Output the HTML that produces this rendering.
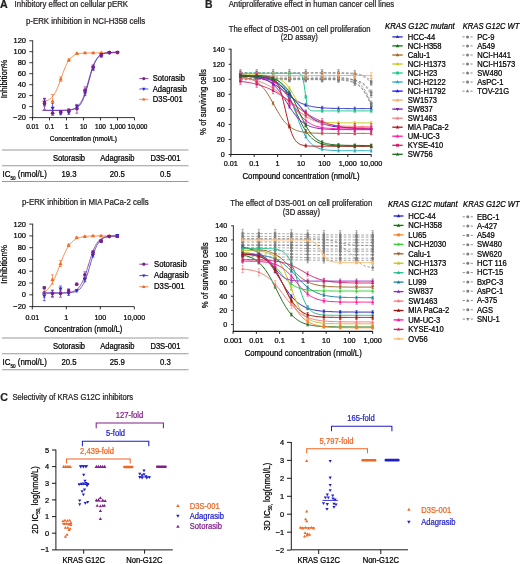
<!DOCTYPE html><html><head><meta charset="utf-8"><style>html,body{margin:0;padding:0;background:#fff;}svg{display:block;will-change:transform;}text{font-family:"Liberation Sans", sans-serif;stroke-width:0.22px;font-variant-ligatures:none;font-kerning:normal;}</style></head><body>
<svg width="520" height="564" viewBox="0 0 520 564">
<rect width="520" height="564" fill="#fff"/>
<text transform="translate(-0.10,8.10) scale(1,1.07)" font-size="10.7" text-anchor="start" fill="#231f20" stroke="#231f20" font-weight="bold">A</text>
<text transform="translate(14.60,7.00) scale(1,1.07)" font-size="7.85" text-anchor="start" fill="#231f20" stroke="#231f20">Inhibitory effect on cellular pERK</text>
<text transform="translate(26.00,24.40) scale(1,1.07)" font-size="7.85" text-anchor="start" fill="#231f20" stroke="#231f20">p-ERK inhibition in NCI-H358 cells</text>
<line x1="32.7" y1="40.4" x2="32.7" y2="118.0" stroke="#000" stroke-width="0.8"/>
<line x1="32.7" y1="117.6" x2="134.5" y2="117.6" stroke="#000" stroke-width="0.8"/>
<line x1="29.3" y1="117.6" x2="32.7" y2="117.6" stroke="#000" stroke-width="0.8"/>
<text transform="translate(26.00,120.17) scale(1,1.07)" font-size="7.5" text-anchor="end" fill="#000" stroke="#000">−20</text>
<line x1="29.3" y1="106.6" x2="32.7" y2="106.6" stroke="#000" stroke-width="0.8"/>
<text transform="translate(26.00,109.20) scale(1,1.07)" font-size="7.5" text-anchor="end" fill="#000" stroke="#000">0</text>
<line x1="29.3" y1="95.6" x2="32.7" y2="95.6" stroke="#000" stroke-width="0.8"/>
<text transform="translate(26.00,98.23) scale(1,1.07)" font-size="7.5" text-anchor="end" fill="#000" stroke="#000">20</text>
<line x1="29.3" y1="84.7" x2="32.7" y2="84.7" stroke="#000" stroke-width="0.8"/>
<text transform="translate(26.00,87.26) scale(1,1.07)" font-size="7.5" text-anchor="end" fill="#000" stroke="#000">40</text>
<line x1="29.3" y1="73.7" x2="32.7" y2="73.7" stroke="#000" stroke-width="0.8"/>
<text transform="translate(26.00,76.29) scale(1,1.07)" font-size="7.5" text-anchor="end" fill="#000" stroke="#000">60</text>
<line x1="29.3" y1="62.7" x2="32.7" y2="62.7" stroke="#000" stroke-width="0.8"/>
<text transform="translate(26.00,65.32) scale(1,1.07)" font-size="7.5" text-anchor="end" fill="#000" stroke="#000">80</text>
<line x1="29.3" y1="51.7" x2="32.7" y2="51.7" stroke="#000" stroke-width="0.8"/>
<text transform="translate(26.00,54.35) scale(1,1.07)" font-size="7.5" text-anchor="end" fill="#000" stroke="#000">100</text>
<line x1="29.3" y1="40.8" x2="32.7" y2="40.8" stroke="#000" stroke-width="0.8"/>
<text transform="translate(26.00,43.38) scale(1,1.07)" font-size="7.5" text-anchor="end" fill="#000" stroke="#000">120</text>
<line x1="32.5" y1="117.6" x2="32.5" y2="120.4" stroke="#000" stroke-width="0.8"/>
<line x1="49.5" y1="117.6" x2="49.5" y2="120.4" stroke="#000" stroke-width="0.8"/>
<line x1="66.5" y1="117.6" x2="66.5" y2="120.4" stroke="#000" stroke-width="0.8"/>
<line x1="83.5" y1="117.6" x2="83.5" y2="120.4" stroke="#000" stroke-width="0.8"/>
<line x1="100.5" y1="117.6" x2="100.5" y2="120.4" stroke="#000" stroke-width="0.8"/>
<line x1="117.5" y1="117.6" x2="117.5" y2="120.4" stroke="#000" stroke-width="0.8"/>
<line x1="134.5" y1="117.6" x2="134.5" y2="120.4" stroke="#000" stroke-width="0.8"/>
<text transform="translate(32.50,128.60) scale(1,1.07)" font-size="6.5" text-anchor="middle" fill="#000" stroke="#000">0.01</text>
<text transform="translate(49.50,128.60) scale(1,1.07)" font-size="6.5" text-anchor="middle" fill="#000" stroke="#000">0.1</text>
<text transform="translate(66.50,128.60) scale(1,1.07)" font-size="6.5" text-anchor="middle" fill="#000" stroke="#000">1</text>
<text transform="translate(83.50,128.60) scale(1,1.07)" font-size="6.5" text-anchor="middle" fill="#000" stroke="#000">10</text>
<text transform="translate(100.50,128.60) scale(1,1.07)" font-size="6.5" text-anchor="middle" fill="#000" stroke="#000">100</text>
<text transform="translate(117.50,128.60) scale(1,1.07)" font-size="6.5" text-anchor="middle" fill="#000" stroke="#000">1,000</text>
<text transform="translate(137.50,128.60) scale(1,1.07)" font-size="6.5" text-anchor="middle" fill="#000" stroke="#000">10,000</text>
<text transform="translate(83.30,140.50) scale(1,1.07)" font-size="6.6" text-anchor="middle" fill="#000" stroke="#000">Concentration (nmol/L)</text>
<text transform="translate(7.00,79.00) rotate(-90) scale(1,1.07)" font-size="7.9" text-anchor="middle" fill="#000" stroke="#000">Inhibition%</text>
<polyline points="42.7,101.5 43.1,101.5 43.4,101.4 43.8,101.4 44.1,101.3 44.4,101.2 44.8,101.2 45.1,101.1 45.5,101.0 45.8,100.9 46.1,100.8 46.5,100.7 46.8,100.5 47.2,100.4 47.5,100.3 47.8,100.1 48.2,100.0 48.5,99.8 48.9,99.6 49.2,99.4 49.5,99.2 49.9,99.0 50.2,98.7 50.6,98.4 50.9,98.2 51.2,97.9 51.6,97.5 51.9,97.2 52.3,96.8 52.6,96.4 52.9,96.0 53.3,95.6 53.6,95.1 54.0,94.7 54.3,94.1 54.6,93.6 55.0,93.0 55.3,92.4 55.7,91.8 56.0,91.1 56.3,90.5 56.7,89.7 57.0,89.0 57.4,88.2 57.7,87.4 58.0,86.6 58.4,85.7 58.7,84.9 59.1,84.0 59.4,83.1 59.7,82.2 60.1,81.2 60.4,80.3 60.8,79.3 61.1,78.3 61.4,77.4 61.8,76.4 62.1,75.5 62.5,74.5 62.8,73.6 63.1,72.6 63.5,71.7 63.8,70.8 64.2,69.9 64.5,69.0 64.8,68.2 65.2,67.4 65.5,66.6 65.9,65.8 66.2,65.1 66.5,64.4 66.9,63.7 67.2,63.1 67.6,62.4 67.9,61.9 68.2,61.3 68.6,60.8 68.9,60.3 69.3,59.8 69.6,59.3 69.9,58.9 70.3,58.5 70.6,58.1 71.0,57.8 71.3,57.4 71.6,57.1 72.0,56.8 72.3,56.5 72.7,56.3 73.0,56.0 73.3,55.8 73.7,55.6 74.0,55.4 74.4,55.2 74.7,55.0 75.0,54.9 75.4,54.7 75.7,54.6 76.1,54.5 76.4,54.4 76.7,54.2 77.1,54.1 77.4,54.0 77.8,54.0 78.1,53.9 78.4,53.8 78.8,53.7 79.1,53.7 79.5,53.6 79.8,53.5 80.1,53.5 80.5,53.4 80.8,53.4 81.2,53.4 81.5,53.3 81.8,53.3 82.2,53.3 82.5,53.2 82.9,53.2 83.2,53.2 83.5,53.1 83.9,53.1 84.2,53.1 84.6,53.1 84.9,53.1 85.2,53.0 85.6,53.0 85.9,53.0 86.3,53.0 86.6,53.0 86.9,53.0 87.3,53.0 87.6,53.0 88.0,53.0 88.3,52.9 88.6,52.9 89.0,52.9 89.3,52.9 89.7,52.9 90.0,52.9 90.3,52.9 90.7,52.9 91.0,52.9 91.4,52.9 91.7,52.9 92.0,52.9 92.4,52.9 92.7,52.9 93.1,52.9 93.4,52.9 93.7,52.9 94.1,52.9 94.4,52.9 94.8,52.9 95.1,52.9 95.4,52.9 95.8,52.9 96.1,52.9 96.5,52.9 96.8,52.9 97.1,52.9 97.5,52.9 97.8,52.9 98.2,52.9 98.5,52.9 98.8,52.9 99.2,52.9 99.5,52.9 99.9,52.9 100.2,52.9 100.5,52.9 100.9,52.9 101.2,52.9 101.6,52.9 101.9,52.9 102.2,52.9 102.6,52.9 102.9,52.9 103.3,52.9 103.6,52.8 103.9,52.8 104.3,52.8 104.6,52.8 105.0,52.8 105.3,52.8 105.6,52.8 106.0,52.8 106.3,52.8 106.7,52.8 107.0,52.8 107.3,52.8 107.7,52.8 108.0,52.8 108.4,52.8 108.7,52.8 109.0,52.8 109.4,52.8 109.7,52.8 110.1,52.8 110.4,52.8 110.7,52.8 111.1,52.8 111.4,52.8 111.8,52.8 112.1,52.8 112.4,52.8 112.8,52.8 113.1,52.8 113.5,52.8 113.8,52.8 114.1,52.8 114.5,52.8 114.8,52.8 115.2,52.8 115.5,52.8 115.8,52.8 116.2,52.8 116.5,52.8 116.9,52.8 117.2,52.8 117.5,52.8 117.9,52.8" fill="none" stroke="#f26a21" stroke-width="0.8"/>
<path d="M44.5 99.5V105.0M43.0 99.5h3.0M43.0 105.0h3.0" stroke="#f26a21" stroke-width="0.65"/>
<polygon points="44.5,100.1 42.4,103.6 46.6,103.6" fill="#f26a21"/>
<path d="M52.6 94.5V107.7M51.1 94.5h3.0M51.1 107.7h3.0" stroke="#f26a21" stroke-width="0.65"/>
<polygon points="52.6,99.0 50.6,102.5 54.7,102.5" fill="#f26a21"/>
<path d="M60.7 77.0V81.4M59.2 77.0h3.0M59.2 81.4h3.0" stroke="#f26a21" stroke-width="0.65"/>
<polygon points="60.7,77.0 58.7,80.6 62.8,80.6" fill="#f26a21"/>
<path d="M68.8 58.9V61.1M67.3 58.9h3.0M67.3 61.1h3.0" stroke="#f26a21" stroke-width="0.65"/>
<polygon points="68.8,57.8 66.8,61.4 70.9,61.4" fill="#f26a21"/>
<path d="M76.9 52.8V53.9M75.4 52.8h3.0M75.4 53.9h3.0" stroke="#f26a21" stroke-width="0.65"/>
<polygon points="76.9,51.2 74.9,54.8 79.0,54.8" fill="#f26a21"/>
<path d="M85.1 52.3V53.4M83.6 52.3h3.0M83.6 53.4h3.0" stroke="#f26a21" stroke-width="0.65"/>
<polygon points="85.1,50.7 83.0,54.3 87.1,54.3" fill="#f26a21"/>
<path d="M93.2 52.3V53.4M91.7 52.3h3.0M91.7 53.4h3.0" stroke="#f26a21" stroke-width="0.65"/>
<polygon points="93.2,50.7 91.1,54.3 95.2,54.3" fill="#f26a21"/>
<path d="M101.3 52.3V53.4M99.8 52.3h3.0M99.8 53.4h3.0" stroke="#f26a21" stroke-width="0.65"/>
<polygon points="101.3,50.7 99.2,54.3 103.3,54.3" fill="#f26a21"/>
<path d="M109.4 51.7V52.8M107.9 51.7h3.0M107.9 52.8h3.0" stroke="#f26a21" stroke-width="0.65"/>
<polygon points="109.4,50.1 107.3,53.7 111.4,53.7" fill="#f26a21"/>
<path d="M117.5 52.3V53.4M116.0 52.3h3.0M116.0 53.4h3.0" stroke="#f26a21" stroke-width="0.65"/>
<polygon points="117.5,50.7 115.4,54.3 119.6,54.3" fill="#f26a21"/>
<polyline points="42.7,110.4 43.1,110.4 43.4,110.4 43.8,110.4 44.1,110.4 44.4,110.4 44.8,110.4 45.1,110.4 45.5,110.4 45.8,110.4 46.1,110.4 46.5,110.4 46.8,110.4 47.2,110.4 47.5,110.4 47.8,110.4 48.2,110.4 48.5,110.4 48.9,110.4 49.2,110.4 49.5,110.4 49.9,110.4 50.2,110.4 50.6,110.4 50.9,110.4 51.2,110.4 51.6,110.4 51.9,110.4 52.3,110.4 52.6,110.4 52.9,110.4 53.3,110.4 53.6,110.4 54.0,110.4 54.3,110.4 54.6,110.4 55.0,110.4 55.3,110.4 55.7,110.4 56.0,110.4 56.3,110.4 56.7,110.4 57.0,110.4 57.4,110.4 57.7,110.4 58.0,110.4 58.4,110.4 58.7,110.4 59.1,110.4 59.4,110.4 59.7,110.4 60.1,110.4 60.4,110.4 60.8,110.4 61.1,110.4 61.4,110.4 61.8,110.4 62.1,110.4 62.5,110.4 62.8,110.4 63.1,110.4 63.5,110.4 63.8,110.3 64.2,110.3 64.5,110.3 64.8,110.3 65.2,110.3 65.5,110.3 65.9,110.3 66.2,110.3 66.5,110.3 66.9,110.2 67.2,110.2 67.6,110.2 67.9,110.2 68.2,110.1 68.6,110.1 68.9,110.1 69.3,110.1 69.6,110.0 69.9,110.0 70.3,109.9 70.6,109.9 71.0,109.9 71.3,109.8 71.6,109.7 72.0,109.7 72.3,109.6 72.7,109.5 73.0,109.5 73.3,109.4 73.7,109.3 74.0,109.2 74.4,109.1 74.7,108.9 75.0,108.8 75.4,108.7 75.7,108.5 76.1,108.3 76.4,108.1 76.7,107.9 77.1,107.7 77.4,107.5 77.8,107.2 78.1,107.0 78.4,106.7 78.8,106.3 79.1,106.0 79.5,105.6 79.8,105.2 80.1,104.8 80.5,104.3 80.8,103.8 81.2,103.3 81.5,102.7 81.8,102.1 82.2,101.5 82.5,100.8 82.9,100.1 83.2,99.3 83.5,98.5 83.9,97.7 84.2,96.8 84.6,95.8 84.9,94.9 85.2,93.8 85.6,92.8 85.9,91.7 86.3,90.6 86.6,89.4 86.9,88.2 87.3,87.0 87.6,85.8 88.0,84.5 88.3,83.3 88.6,82.0 89.0,80.7 89.3,79.4 89.7,78.2 90.0,76.9 90.3,75.7 90.7,74.5 91.0,73.3 91.4,72.1 91.7,71.0 92.0,69.9 92.4,68.9 92.7,67.8 93.1,66.9 93.4,65.9 93.7,65.0 94.1,64.2 94.4,63.4 94.8,62.6 95.1,61.9 95.4,61.2 95.8,60.6 96.1,60.0 96.5,59.4 96.8,58.9 97.1,58.4 97.5,57.9 97.8,57.5 98.2,57.1 98.5,56.7 98.8,56.4 99.2,56.1 99.5,55.8 99.9,55.5 100.2,55.2 100.5,55.0 100.9,54.8 101.2,54.6 101.6,54.4 101.9,54.2 102.2,54.1 102.6,53.9 102.9,53.8 103.3,53.7 103.6,53.6 103.9,53.5 104.3,53.4 104.6,53.3 105.0,53.2 105.3,53.1 105.6,53.1 106.0,53.0 106.3,52.9 106.7,52.9 107.0,52.8 107.3,52.8 107.7,52.7 108.0,52.7 108.4,52.7 108.7,52.6 109.0,52.6 109.4,52.6 109.7,52.6 110.1,52.5 110.4,52.5 110.7,52.5 111.1,52.5 111.4,52.5 111.8,52.5 112.1,52.4 112.4,52.4 112.8,52.4 113.1,52.4 113.5,52.4 113.8,52.4 114.1,52.4 114.5,52.4 114.8,52.4 115.2,52.4 115.5,52.4 115.8,52.4 116.2,52.3 116.5,52.3 116.9,52.3 117.2,52.3 117.5,52.3 117.9,52.3" fill="none" stroke="#2b2bd0" stroke-width="0.8"/>
<path d="M44.5 98.4V106.1M43.0 98.4h3.0M43.0 106.1h3.0" stroke="#2b2bd0" stroke-width="0.65"/>
<polygon points="44.5,104.4 42.4,100.8 46.6,100.8" fill="#2b2bd0"/>
<path d="M52.6 103.3V113.2M51.1 103.3h3.0M51.1 113.2h3.0" stroke="#2b2bd0" stroke-width="0.65"/>
<polygon points="52.6,110.4 50.6,106.8 54.7,106.8" fill="#2b2bd0"/>
<path d="M60.7 111.5V114.8M59.2 111.5h3.0M59.2 114.8h3.0" stroke="#2b2bd0" stroke-width="0.65"/>
<polygon points="60.7,115.3 58.7,111.8 62.8,111.8" fill="#2b2bd0"/>
<path d="M68.8 111.0V114.3M67.3 111.0h3.0M67.3 114.3h3.0" stroke="#2b2bd0" stroke-width="0.65"/>
<polygon points="68.8,114.8 66.8,111.2 70.9,111.2" fill="#2b2bd0"/>
<path d="M76.9 105.0V108.2M75.4 105.0h3.0M75.4 108.2h3.0" stroke="#2b2bd0" stroke-width="0.65"/>
<polygon points="76.9,108.8 74.9,105.2 79.0,105.2" fill="#2b2bd0"/>
<path d="M85.1 90.1V95.6M83.6 90.1h3.0M83.6 95.6h3.0" stroke="#2b2bd0" stroke-width="0.65"/>
<polygon points="85.1,95.0 83.0,91.5 87.1,91.5" fill="#2b2bd0"/>
<path d="M93.2 66.0V70.4M91.7 66.0h3.0M91.7 70.4h3.0" stroke="#2b2bd0" stroke-width="0.65"/>
<polygon points="93.2,70.4 91.1,66.8 95.2,66.8" fill="#2b2bd0"/>
<path d="M101.3 53.9V56.1M99.8 53.9h3.0M99.8 56.1h3.0" stroke="#2b2bd0" stroke-width="0.65"/>
<polygon points="101.3,57.2 99.2,53.6 103.3,53.6" fill="#2b2bd0"/>
<path d="M109.4 51.7V52.8M107.9 51.7h3.0M107.9 52.8h3.0" stroke="#2b2bd0" stroke-width="0.65"/>
<polygon points="109.4,54.5 107.3,50.9 111.4,50.9" fill="#2b2bd0"/>
<path d="M117.5 51.7V52.8M116.0 51.7h3.0M116.0 52.8h3.0" stroke="#2b2bd0" stroke-width="0.65"/>
<polygon points="117.5,54.5 115.4,50.9 119.6,50.9" fill="#2b2bd0"/>
<polyline points="42.7,110.4 43.1,110.4 43.4,110.4 43.8,110.4 44.1,110.4 44.4,110.4 44.8,110.4 45.1,110.4 45.5,110.4 45.8,110.4 46.1,110.4 46.5,110.4 46.8,110.4 47.2,110.4 47.5,110.4 47.8,110.4 48.2,110.4 48.5,110.4 48.9,110.4 49.2,110.4 49.5,110.4 49.9,110.4 50.2,110.4 50.6,110.4 50.9,110.4 51.2,110.4 51.6,110.4 51.9,110.4 52.3,110.4 52.6,110.4 52.9,110.4 53.3,110.4 53.6,110.4 54.0,110.4 54.3,110.4 54.6,110.4 55.0,110.4 55.3,110.4 55.7,110.4 56.0,110.4 56.3,110.4 56.7,110.4 57.0,110.4 57.4,110.4 57.7,110.4 58.0,110.4 58.4,110.4 58.7,110.4 59.1,110.4 59.4,110.4 59.7,110.4 60.1,110.4 60.4,110.4 60.8,110.4 61.1,110.4 61.4,110.4 61.8,110.4 62.1,110.3 62.5,110.3 62.8,110.3 63.1,110.3 63.5,110.3 63.8,110.3 64.2,110.3 64.5,110.3 64.8,110.3 65.2,110.2 65.5,110.2 65.9,110.2 66.2,110.2 66.5,110.2 66.9,110.1 67.2,110.1 67.6,110.1 67.9,110.0 68.2,110.0 68.6,110.0 68.9,109.9 69.3,109.9 69.6,109.8 69.9,109.8 70.3,109.7 70.6,109.7 71.0,109.6 71.3,109.5 71.6,109.5 72.0,109.4 72.3,109.3 72.7,109.2 73.0,109.1 73.3,109.0 73.7,108.9 74.0,108.7 74.4,108.6 74.7,108.4 75.0,108.3 75.4,108.1 75.7,107.9 76.1,107.7 76.4,107.5 76.7,107.2 77.1,106.9 77.4,106.7 77.8,106.4 78.1,106.0 78.4,105.7 78.8,105.3 79.1,104.9 79.5,104.5 79.8,104.0 80.1,103.5 80.5,103.0 80.8,102.5 81.2,101.9 81.5,101.2 81.8,100.6 82.2,99.9 82.5,99.2 82.9,98.4 83.2,97.6 83.5,96.7 83.9,95.8 84.2,94.9 84.6,93.9 84.9,92.9 85.2,91.9 85.6,90.9 85.9,89.8 86.3,88.7 86.6,87.5 86.9,86.3 87.3,85.2 87.6,84.0 88.0,82.8 88.3,81.6 88.6,80.4 89.0,79.2 89.3,78.0 89.7,76.8 90.0,75.6 90.3,74.5 90.7,73.4 91.0,72.3 91.4,71.2 91.7,70.1 92.0,69.1 92.4,68.2 92.7,67.2 93.1,66.3 93.4,65.5 93.7,64.6 94.1,63.8 94.4,63.1 94.8,62.4 95.1,61.7 95.4,61.1 95.8,60.5 96.1,59.9 96.5,59.4 96.8,58.9 97.1,58.4 97.5,58.0 97.8,57.6 98.2,57.2 98.5,56.8 98.8,56.5 99.2,56.2 99.5,55.9 99.9,55.6 100.2,55.4 100.5,55.1 100.9,54.9 101.2,54.7 101.6,54.5 101.9,54.4 102.2,54.2 102.6,54.1 102.9,53.9 103.3,53.8 103.6,53.7 103.9,53.6 104.3,53.5 104.6,53.4 105.0,53.3 105.3,53.2 105.6,53.1 106.0,53.1 106.3,53.0 106.7,53.0 107.0,52.9 107.3,52.9 107.7,52.8 108.0,52.8 108.4,52.7 108.7,52.7 109.0,52.7 109.4,52.6 109.7,52.6 110.1,52.6 110.4,52.6 110.7,52.5 111.1,52.5 111.4,52.5 111.8,52.5 112.1,52.5 112.4,52.5 112.8,52.4 113.1,52.4 113.5,52.4 113.8,52.4 114.1,52.4 114.5,52.4 114.8,52.4 115.2,52.4 115.5,52.4 115.8,52.4 116.2,52.4 116.5,52.4 116.9,52.4 117.2,52.3 117.5,52.3 117.9,52.3" fill="none" stroke="#7a1f8c" stroke-width="0.8"/>
<path d="M44.5 98.4V109.3M43.0 98.4h3.0M43.0 109.3h3.0" stroke="#7a1f8c" stroke-width="0.65"/>
<circle cx="44.50" cy="103.86" r="1.8" fill="#7a1f8c"/>
<path d="M52.6 111.0V115.4M51.1 111.0h3.0M51.1 115.4h3.0" stroke="#7a1f8c" stroke-width="0.65"/>
<circle cx="52.61" cy="113.18" r="1.8" fill="#7a1f8c"/>
<path d="M60.7 110.4V113.7M59.2 110.4h3.0M59.2 113.7h3.0" stroke="#7a1f8c" stroke-width="0.65"/>
<circle cx="60.72" cy="112.08" r="1.8" fill="#7a1f8c"/>
<path d="M68.8 108.8V112.1M67.3 108.8h3.0M67.3 112.1h3.0" stroke="#7a1f8c" stroke-width="0.65"/>
<circle cx="68.83" cy="110.44" r="1.8" fill="#7a1f8c"/>
<path d="M76.9 104.4V113.2M75.4 104.4h3.0M75.4 113.2h3.0" stroke="#7a1f8c" stroke-width="0.65"/>
<circle cx="76.94" cy="108.79" r="1.8" fill="#7a1f8c"/>
<path d="M85.1 86.9V93.4M83.6 86.9h3.0M83.6 93.4h3.0" stroke="#7a1f8c" stroke-width="0.65"/>
<circle cx="85.06" cy="90.14" r="1.8" fill="#7a1f8c"/>
<path d="M93.2 64.9V69.3M91.7 64.9h3.0M91.7 69.3h3.0" stroke="#7a1f8c" stroke-width="0.65"/>
<circle cx="93.17" cy="67.11" r="1.8" fill="#7a1f8c"/>
<path d="M101.3 53.9V57.2M99.8 53.9h3.0M99.8 57.2h3.0" stroke="#7a1f8c" stroke-width="0.65"/>
<circle cx="101.28" cy="55.59" r="1.8" fill="#7a1f8c"/>
<path d="M109.4 52.3V53.4M107.9 52.3h3.0M107.9 53.4h3.0" stroke="#7a1f8c" stroke-width="0.65"/>
<circle cx="109.39" cy="52.85" r="1.8" fill="#7a1f8c"/>
<path d="M117.5 51.7V52.8M116.0 51.7h3.0M116.0 52.8h3.0" stroke="#7a1f8c" stroke-width="0.65"/>
<circle cx="117.50" cy="52.30" r="1.8" fill="#7a1f8c"/>
<line x1="139.3" y1="78.6" x2="148.3" y2="78.6" stroke="#7a1f8c" stroke-width="0.8"/>
<circle cx="143.80" cy="78.60" r="1.6" fill="#7a1f8c"/>
<text transform="translate(152.80,81.35) scale(1,1.07)" font-size="7.6" text-anchor="start" fill="#000" stroke="#000">Sotorasib</text>
<line x1="139.3" y1="89.0" x2="148.3" y2="89.0" stroke="#2b2bd0" stroke-width="0.8"/>
<polygon points="143.8,90.9 142.0,87.8 145.6,87.8" fill="#2b2bd0"/>
<text transform="translate(152.80,91.75) scale(1,1.07)" font-size="7.6" text-anchor="start" fill="#000" stroke="#000">Adagrasib</text>
<line x1="139.3" y1="99.3" x2="148.3" y2="99.3" stroke="#f26a21" stroke-width="0.8"/>
<polygon points="143.8,97.4 142.0,100.5 145.6,100.5" fill="#f26a21"/>
<text transform="translate(152.80,102.05) scale(1,1.07)" font-size="7.6" text-anchor="start" fill="#000" stroke="#000">D3S-001</text>
<line x1="2.0" y1="150.0" x2="188.5" y2="150.0" stroke="#9a9a9a" stroke-width="1.1"/>
<text transform="translate(69.00,161.20) scale(1,1.07)" font-size="7.6" text-anchor="middle" fill="#000" stroke="#000">Sotorasib</text>
<text transform="translate(117.30,161.20) scale(1,1.07)" font-size="7.6" text-anchor="middle" fill="#000" stroke="#000">Adagrasib</text>
<text transform="translate(165.40,161.20) scale(1,1.07)" font-size="7.6" text-anchor="middle" fill="#000" stroke="#000">D3S-001</text>
<line x1="2.0" y1="165.7" x2="188.5" y2="165.7" stroke="#9a9a9a" stroke-width="1.1"/>
<text transform="translate(2.60,176.90) scale(1,1.07)" font-size="7.9" text-anchor="start" fill="#000" stroke="#000">IC<tspan font-size="4.6" dy="2.6">50</tspan><tspan dy="-2.6"> (nmol/L)</tspan></text>
<text transform="translate(69.00,176.90) scale(1,1.07)" font-size="7.8" text-anchor="middle" fill="#000" stroke="#000">19.3</text>
<text transform="translate(117.30,176.90) scale(1,1.07)" font-size="7.8" text-anchor="middle" fill="#000" stroke="#000">20.5</text>
<text transform="translate(165.40,176.90) scale(1,1.07)" font-size="7.8" text-anchor="middle" fill="#000" stroke="#000">0.5</text>
<line x1="2.0" y1="181.5" x2="188.5" y2="181.5" stroke="#9a9a9a" stroke-width="1.1"/>
<text transform="translate(22.00,205.30) scale(1,1.07)" font-size="7.85" text-anchor="start" fill="#231f20" stroke="#231f20">p-ERK inhibition in MIA PaCa-2 cells</text>
<line x1="32.7" y1="223.7" x2="32.7" y2="307.0" stroke="#000" stroke-width="0.8"/>
<line x1="32.7" y1="306.6" x2="134.1" y2="306.6" stroke="#000" stroke-width="0.8"/>
<line x1="29.3" y1="306.6" x2="32.7" y2="306.6" stroke="#000" stroke-width="0.8"/>
<text transform="translate(26.00,309.19) scale(1,1.07)" font-size="7.5" text-anchor="end" fill="#000" stroke="#000">−20</text>
<line x1="29.3" y1="294.8" x2="32.7" y2="294.8" stroke="#000" stroke-width="0.8"/>
<text transform="translate(26.00,297.40) scale(1,1.07)" font-size="7.5" text-anchor="end" fill="#000" stroke="#000">0</text>
<line x1="29.3" y1="283.0" x2="32.7" y2="283.0" stroke="#000" stroke-width="0.8"/>
<text transform="translate(26.00,285.61) scale(1,1.07)" font-size="7.5" text-anchor="end" fill="#000" stroke="#000">20</text>
<line x1="29.3" y1="271.2" x2="32.7" y2="271.2" stroke="#000" stroke-width="0.8"/>
<text transform="translate(26.00,273.83) scale(1,1.07)" font-size="7.5" text-anchor="end" fill="#000" stroke="#000">40</text>
<line x1="29.3" y1="259.4" x2="32.7" y2="259.4" stroke="#000" stroke-width="0.8"/>
<text transform="translate(26.00,262.04) scale(1,1.07)" font-size="7.5" text-anchor="end" fill="#000" stroke="#000">60</text>
<line x1="29.3" y1="247.7" x2="32.7" y2="247.7" stroke="#000" stroke-width="0.8"/>
<text transform="translate(26.00,250.26) scale(1,1.07)" font-size="7.5" text-anchor="end" fill="#000" stroke="#000">80</text>
<line x1="29.3" y1="235.9" x2="32.7" y2="235.9" stroke="#000" stroke-width="0.8"/>
<text transform="translate(26.00,238.47) scale(1,1.07)" font-size="7.5" text-anchor="end" fill="#000" stroke="#000">100</text>
<line x1="29.3" y1="224.1" x2="32.7" y2="224.1" stroke="#000" stroke-width="0.8"/>
<text transform="translate(26.00,226.68) scale(1,1.07)" font-size="7.5" text-anchor="end" fill="#000" stroke="#000">120</text>
<line x1="32.3" y1="306.6" x2="32.3" y2="309.4" stroke="#000" stroke-width="0.8"/>
<line x1="66.3" y1="306.6" x2="66.3" y2="309.4" stroke="#000" stroke-width="0.8"/>
<line x1="100.3" y1="306.6" x2="100.3" y2="309.4" stroke="#000" stroke-width="0.8"/>
<line x1="134.3" y1="306.6" x2="134.3" y2="309.4" stroke="#000" stroke-width="0.8"/>
<text transform="translate(32.30,319.70) scale(1,1.07)" font-size="7.1" text-anchor="middle" fill="#000" stroke="#000">0.01</text>
<text transform="translate(66.30,319.70) scale(1,1.07)" font-size="7.1" text-anchor="middle" fill="#000" stroke="#000">1</text>
<text transform="translate(100.30,319.70) scale(1,1.07)" font-size="7.1" text-anchor="middle" fill="#000" stroke="#000">100</text>
<text transform="translate(134.30,319.70) scale(1,1.07)" font-size="7.1" text-anchor="middle" fill="#000" stroke="#000">10,000</text>
<text transform="translate(83.30,332.40) scale(1,1.07)" font-size="7.7" text-anchor="middle" fill="#000" stroke="#000">Concentration (nmol/L)</text>
<text transform="translate(7.00,264.40) rotate(-90) scale(1,1.07)" font-size="7.9" text-anchor="middle" fill="#000" stroke="#000">Inhibition%</text>
<polyline points="42.5,293.1 42.9,292.9 43.2,292.8 43.6,292.6 43.9,292.4 44.2,292.2 44.6,292.0 44.9,291.7 45.3,291.5 45.6,291.2 45.9,291.0 46.3,290.7 46.6,290.4 47.0,290.1 47.3,289.7 47.6,289.4 48.0,289.0 48.3,288.7 48.7,288.3 49.0,287.9 49.3,287.4 49.7,287.0 50.0,286.5 50.4,286.0 50.7,285.5 51.0,285.0 51.4,284.4 51.7,283.9 52.1,283.3 52.4,282.7 52.7,282.0 53.1,281.4 53.4,280.7 53.8,280.0 54.1,279.3 54.4,278.6 54.8,277.8 55.1,277.1 55.5,276.3 55.8,275.5 56.1,274.7 56.5,273.8 56.8,273.0 57.2,272.1 57.5,271.3 57.8,270.4 58.2,269.5 58.5,268.6 58.9,267.7 59.2,266.8 59.5,265.9 59.9,265.0 60.2,264.1 60.6,263.2 60.9,262.3 61.2,261.5 61.6,260.6 61.9,259.7 62.3,258.9 62.6,258.0 62.9,257.2 63.3,256.4 63.6,255.6 64.0,254.8 64.3,254.0 64.6,253.3 65.0,252.5 65.3,251.8 65.7,251.1 66.0,250.5 66.3,249.8 66.7,249.2 67.0,248.6 67.4,248.0 67.7,247.4 68.0,246.9 68.4,246.3 68.7,245.8 69.1,245.3 69.4,244.9 69.7,244.4 70.1,244.0 70.4,243.6 70.8,243.2 71.1,242.8 71.4,242.5 71.8,242.1 72.1,241.8 72.5,241.5 72.8,241.2 73.1,240.9 73.5,240.6 73.8,240.4 74.2,240.1 74.5,239.9 74.8,239.7 75.2,239.5 75.5,239.3 75.9,239.1 76.2,238.9 76.5,238.7 76.9,238.6 77.2,238.4 77.6,238.3 77.9,238.2 78.2,238.0 78.6,237.9 78.9,237.8 79.3,237.7 79.6,237.6 79.9,237.5 80.3,237.4 80.6,237.3 81.0,237.2 81.3,237.1 81.6,237.1 82.0,237.0 82.3,236.9 82.7,236.9 83.0,236.8 83.3,236.8 83.7,236.7 84.0,236.7 84.4,236.6 84.7,236.6 85.0,236.5 85.4,236.5 85.7,236.5 86.1,236.4 86.4,236.4 86.7,236.4 87.1,236.3 87.4,236.3 87.8,236.3 88.1,236.3 88.4,236.2 88.8,236.2 89.1,236.2 89.5,236.2 89.8,236.2 90.1,236.1 90.5,236.1 90.8,236.1 91.2,236.1 91.5,236.1 91.8,236.1 92.2,236.1 92.5,236.1 92.9,236.0 93.2,236.0 93.5,236.0 93.9,236.0 94.2,236.0 94.6,236.0 94.9,236.0 95.2,236.0 95.6,236.0 95.9,236.0 96.3,236.0 96.6,236.0 96.9,236.0 97.3,235.9 97.6,235.9 98.0,235.9 98.3,235.9 98.6,235.9 99.0,235.9 99.3,235.9 99.7,235.9 100.0,235.9 100.3,235.9 100.7,235.9 101.0,235.9 101.4,235.9 101.7,235.9 102.0,235.9 102.4,235.9 102.7,235.9 103.1,235.9 103.4,235.9 103.7,235.9 104.1,235.9 104.4,235.9 104.8,235.9 105.1,235.9 105.4,235.9 105.8,235.9 106.1,235.9 106.5,235.9 106.8,235.9 107.1,235.9 107.5,235.9 107.8,235.9 108.2,235.9 108.5,235.9 108.8,235.9 109.2,235.9 109.5,235.9 109.9,235.9 110.2,235.9 110.5,235.9 110.9,235.9 111.2,235.9 111.6,235.9 111.9,235.9 112.2,235.9 112.6,235.9 112.9,235.9 113.3,235.9 113.6,235.9 113.9,235.9 114.3,235.9 114.6,235.9 115.0,235.9 115.3,235.9 115.6,235.9 116.0,235.9 116.3,235.9 116.7,235.9 117.0,235.9 117.3,235.9 117.7,235.9" fill="none" stroke="#f26a21" stroke-width="0.8"/>
<path d="M44.3 288.3V297.7M42.8 288.3h3.0M42.8 297.7h3.0" stroke="#f26a21" stroke-width="0.65"/>
<polygon points="44.3,290.9 42.2,294.4 46.4,294.4" fill="#f26a21"/>
<path d="M52.4 274.8V284.2M50.9 274.8h3.0M50.9 284.2h3.0" stroke="#f26a21" stroke-width="0.65"/>
<polygon points="52.4,277.3 50.4,280.9 54.5,280.9" fill="#f26a21"/>
<path d="M60.5 260.6V266.5M59.0 260.6h3.0M59.0 266.5h3.0" stroke="#f26a21" stroke-width="0.65"/>
<polygon points="60.5,261.4 58.5,265.0 62.6,265.0" fill="#f26a21"/>
<path d="M68.6 244.1V246.5M67.1 244.1h3.0M67.1 246.5h3.0" stroke="#f26a21" stroke-width="0.65"/>
<polygon points="68.6,243.1 66.6,246.7 70.7,246.7" fill="#f26a21"/>
<path d="M76.7 237.0V238.2M75.2 237.0h3.0M75.2 238.2h3.0" stroke="#f26a21" stroke-width="0.65"/>
<polygon points="76.7,235.5 74.7,239.0 78.8,239.0" fill="#f26a21"/>
<path d="M84.9 235.9V237.0M83.4 235.9h3.0M83.4 237.0h3.0" stroke="#f26a21" stroke-width="0.65"/>
<polygon points="84.9,234.3 82.8,237.9 86.9,237.9" fill="#f26a21"/>
<path d="M93.0 235.3V236.5M91.5 235.3h3.0M91.5 236.5h3.0" stroke="#f26a21" stroke-width="0.65"/>
<polygon points="93.0,233.7 90.9,237.3 95.0,237.3" fill="#f26a21"/>
<path d="M101.1 235.3V236.5M99.6 235.3h3.0M99.6 236.5h3.0" stroke="#f26a21" stroke-width="0.65"/>
<polygon points="101.1,233.7 99.0,237.3 103.1,237.3" fill="#f26a21"/>
<path d="M109.2 235.3V236.5M107.7 235.3h3.0M107.7 236.5h3.0" stroke="#f26a21" stroke-width="0.65"/>
<polygon points="109.2,233.7 107.1,237.3 111.2,237.3" fill="#f26a21"/>
<path d="M117.3 235.9V237.0M115.8 235.9h3.0M115.8 237.0h3.0" stroke="#f26a21" stroke-width="0.65"/>
<polygon points="117.3,234.3 115.2,237.9 119.4,237.9" fill="#f26a21"/>
<polyline points="42.5,293.0 42.9,293.0 43.2,293.0 43.6,293.0 43.9,293.0 44.2,293.0 44.6,293.0 44.9,293.0 45.3,293.0 45.6,293.0 45.9,293.0 46.3,293.0 46.6,293.0 47.0,293.0 47.3,293.0 47.6,293.0 48.0,293.0 48.3,293.0 48.7,293.0 49.0,293.0 49.3,293.0 49.7,293.0 50.0,293.0 50.4,293.0 50.7,293.0 51.0,293.0 51.4,293.0 51.7,293.0 52.1,293.0 52.4,293.0 52.7,293.0 53.1,293.0 53.4,293.0 53.8,293.0 54.1,293.0 54.4,293.0 54.8,293.0 55.1,293.0 55.5,293.0 55.8,293.0 56.1,293.0 56.5,293.0 56.8,293.0 57.2,293.0 57.5,293.0 57.8,293.0 58.2,293.0 58.5,293.0 58.9,293.0 59.2,293.0 59.5,293.0 59.9,293.0 60.2,293.0 60.6,293.0 60.9,293.0 61.2,293.0 61.6,293.0 61.9,293.0 62.3,293.0 62.6,293.0 62.9,293.0 63.3,293.0 63.6,292.9 64.0,292.9 64.3,292.9 64.6,292.9 65.0,292.9 65.3,292.9 65.7,292.9 66.0,292.9 66.3,292.9 66.7,292.9 67.0,292.8 67.4,292.8 67.7,292.8 68.0,292.8 68.4,292.8 68.7,292.7 69.1,292.7 69.4,292.7 69.7,292.7 70.1,292.6 70.4,292.6 70.8,292.6 71.1,292.5 71.4,292.5 71.8,292.4 72.1,292.4 72.5,292.3 72.8,292.2 73.1,292.2 73.5,292.1 73.8,292.0 74.2,291.9 74.5,291.9 74.8,291.8 75.2,291.6 75.5,291.5 75.9,291.4 76.2,291.3 76.5,291.1 76.9,291.0 77.2,290.8 77.6,290.6 77.9,290.4 78.2,290.2 78.6,290.0 78.9,289.7 79.3,289.4 79.6,289.1 79.9,288.8 80.3,288.5 80.6,288.1 81.0,287.8 81.3,287.3 81.6,286.9 82.0,286.4 82.3,285.9 82.7,285.4 83.0,284.8 83.3,284.2 83.7,283.6 84.0,282.9 84.4,282.2 84.7,281.5 85.0,280.7 85.4,279.9 85.7,279.0 86.1,278.1 86.4,277.2 86.7,276.2 87.1,275.2 87.4,274.2 87.8,273.1 88.1,272.0 88.4,270.9 88.8,269.8 89.1,268.6 89.5,267.5 89.8,266.3 90.1,265.1 90.5,263.9 90.8,262.7 91.2,261.6 91.5,260.4 91.8,259.3 92.2,258.1 92.5,257.0 92.9,255.9 93.2,254.8 93.5,253.8 93.9,252.8 94.2,251.8 94.6,250.9 94.9,250.0 95.2,249.1 95.6,248.3 95.9,247.5 96.3,246.8 96.6,246.1 96.9,245.4 97.3,244.7 97.6,244.1 98.0,243.6 98.3,243.0 98.6,242.5 99.0,242.1 99.3,241.6 99.7,241.2 100.0,240.8 100.3,240.5 100.7,240.1 101.0,239.8 101.4,239.5 101.7,239.2 102.0,239.0 102.4,238.7 102.7,238.5 103.1,238.3 103.4,238.1 103.7,238.0 104.1,237.8 104.4,237.7 104.8,237.5 105.1,237.4 105.4,237.3 105.8,237.2 106.1,237.1 106.5,237.0 106.8,236.9 107.1,236.8 107.5,236.7 107.8,236.7 108.2,236.6 108.5,236.5 108.8,236.5 109.2,236.4 109.5,236.4 109.9,236.4 110.2,236.3 110.5,236.3 110.9,236.2 111.2,236.2 111.6,236.2 111.9,236.2 112.2,236.1 112.6,236.1 112.9,236.1 113.3,236.1 113.6,236.1 113.9,236.1 114.3,236.0 114.6,236.0 115.0,236.0 115.3,236.0 115.6,236.0 116.0,236.0 116.3,236.0 116.7,236.0 117.0,236.0 117.3,235.9 117.7,235.9" fill="none" stroke="#2b2bd0" stroke-width="0.8"/>
<path d="M44.3 291.3V300.7M42.8 291.3h3.0M42.8 300.7h3.0" stroke="#2b2bd0" stroke-width="0.65"/>
<polygon points="44.3,298.1 42.2,294.6 46.4,294.6" fill="#2b2bd0"/>
<path d="M52.4 290.1V297.2M50.9 290.1h3.0M50.9 297.2h3.0" stroke="#2b2bd0" stroke-width="0.65"/>
<polygon points="52.4,295.8 50.4,292.2 54.5,292.2" fill="#2b2bd0"/>
<path d="M60.5 286.0V291.9M59.0 286.0h3.0M59.0 291.9h3.0" stroke="#2b2bd0" stroke-width="0.65"/>
<polygon points="60.5,291.1 58.5,287.5 62.6,287.5" fill="#2b2bd0"/>
<path d="M68.6 291.9V295.4M67.1 291.9h3.0M67.1 295.4h3.0" stroke="#2b2bd0" stroke-width="0.65"/>
<polygon points="68.6,295.8 66.6,292.2 70.7,292.2" fill="#2b2bd0"/>
<path d="M76.7 289.5V291.9M75.2 289.5h3.0M75.2 291.9h3.0" stroke="#2b2bd0" stroke-width="0.65"/>
<polygon points="76.7,292.8 74.7,289.3 78.8,289.3" fill="#2b2bd0"/>
<path d="M84.9 277.1V281.8M83.4 277.1h3.0M83.4 281.8h3.0" stroke="#2b2bd0" stroke-width="0.65"/>
<polygon points="84.9,281.6 82.8,278.1 86.9,278.1" fill="#2b2bd0"/>
<path d="M93.0 253.5V257.1M91.5 253.5h3.0M91.5 257.1h3.0" stroke="#2b2bd0" stroke-width="0.65"/>
<polygon points="93.0,257.5 90.9,253.9 95.0,253.9" fill="#2b2bd0"/>
<path d="M101.1 240.0V242.4M99.6 240.0h3.0M99.6 242.4h3.0" stroke="#2b2bd0" stroke-width="0.65"/>
<polygon points="101.1,243.3 99.0,239.8 103.1,239.8" fill="#2b2bd0"/>
<path d="M109.2 235.9V237.0M107.7 235.9h3.0M107.7 237.0h3.0" stroke="#2b2bd0" stroke-width="0.65"/>
<polygon points="109.2,238.6 107.1,235.1 111.2,235.1" fill="#2b2bd0"/>
<path d="M117.3 234.7V235.9M115.8 234.7h3.0M115.8 235.9h3.0" stroke="#2b2bd0" stroke-width="0.65"/>
<polygon points="117.3,237.4 115.2,233.9 119.4,233.9" fill="#2b2bd0"/>
<polyline points="42.5,293.0 42.9,293.0 43.2,293.0 43.6,293.0 43.9,293.0 44.2,293.0 44.6,293.0 44.9,293.0 45.3,293.0 45.6,293.0 45.9,293.0 46.3,293.0 46.6,293.0 47.0,293.0 47.3,293.0 47.6,293.0 48.0,293.0 48.3,293.0 48.7,293.0 49.0,293.0 49.3,293.0 49.7,293.0 50.0,293.0 50.4,293.0 50.7,293.0 51.0,293.0 51.4,293.0 51.7,293.0 52.1,293.0 52.4,293.0 52.7,293.0 53.1,293.0 53.4,293.0 53.8,293.0 54.1,293.0 54.4,293.0 54.8,293.0 55.1,293.0 55.5,293.0 55.8,293.0 56.1,293.0 56.5,293.0 56.8,293.0 57.2,293.0 57.5,293.0 57.8,293.0 58.2,293.0 58.5,293.0 58.9,293.0 59.2,293.0 59.5,293.0 59.9,293.0 60.2,292.9 60.6,292.9 60.9,292.9 61.2,292.9 61.6,292.9 61.9,292.9 62.3,292.9 62.6,292.9 62.9,292.9 63.3,292.9 63.6,292.9 64.0,292.8 64.3,292.8 64.6,292.8 65.0,292.8 65.3,292.8 65.7,292.7 66.0,292.7 66.3,292.7 66.7,292.7 67.0,292.6 67.4,292.6 67.7,292.6 68.0,292.5 68.4,292.5 68.7,292.5 69.1,292.4 69.4,292.4 69.7,292.3 70.1,292.2 70.4,292.2 70.8,292.1 71.1,292.0 71.4,292.0 71.8,291.9 72.1,291.8 72.5,291.7 72.8,291.6 73.1,291.5 73.5,291.3 73.8,291.2 74.2,291.0 74.5,290.9 74.8,290.7 75.2,290.5 75.5,290.4 75.9,290.1 76.2,289.9 76.5,289.7 76.9,289.4 77.2,289.2 77.6,288.9 77.9,288.6 78.2,288.2 78.6,287.9 78.9,287.5 79.3,287.1 79.6,286.6 79.9,286.2 80.3,285.7 80.6,285.2 81.0,284.6 81.3,284.1 81.6,283.5 82.0,282.8 82.3,282.1 82.7,281.4 83.0,280.7 83.3,279.9 83.7,279.1 84.0,278.3 84.4,277.4 84.7,276.5 85.0,275.6 85.4,274.6 85.7,273.6 86.1,272.6 86.4,271.6 86.7,270.5 87.1,269.4 87.4,268.3 87.8,267.2 88.1,266.1 88.4,265.0 88.8,263.9 89.1,262.8 89.5,261.6 89.8,260.5 90.1,259.5 90.5,258.4 90.8,257.3 91.2,256.3 91.5,255.3 91.8,254.3 92.2,253.3 92.5,252.4 92.9,251.5 93.2,250.6 93.5,249.8 93.9,249.0 94.2,248.2 94.6,247.4 94.9,246.7 95.2,246.1 95.6,245.4 95.9,244.8 96.3,244.2 96.6,243.7 96.9,243.2 97.3,242.7 97.6,242.2 98.0,241.8 98.3,241.4 98.6,241.0 99.0,240.7 99.3,240.3 99.7,240.0 100.0,239.7 100.3,239.5 100.7,239.2 101.0,239.0 101.4,238.7 101.7,238.5 102.0,238.3 102.4,238.2 102.7,238.0 103.1,237.8 103.4,237.7 103.7,237.6 104.1,237.4 104.4,237.3 104.8,237.2 105.1,237.1 105.4,237.0 105.8,236.9 106.1,236.9 106.5,236.8 106.8,236.7 107.1,236.7 107.5,236.6 107.8,236.5 108.2,236.5 108.5,236.4 108.8,236.4 109.2,236.4 109.5,236.3 109.9,236.3 110.2,236.3 110.5,236.2 110.9,236.2 111.2,236.2 111.6,236.2 111.9,236.1 112.2,236.1 112.6,236.1 112.9,236.1 113.3,236.1 113.6,236.1 113.9,236.0 114.3,236.0 114.6,236.0 115.0,236.0 115.3,236.0 115.6,236.0 116.0,236.0 116.3,236.0 116.7,236.0 117.0,236.0 117.3,235.9 117.7,235.9" fill="none" stroke="#7a1f8c" stroke-width="0.8"/>
<path d="M44.3 286.5V288.9M42.8 286.5h3.0M42.8 288.9h3.0" stroke="#7a1f8c" stroke-width="0.65"/>
<circle cx="44.30" cy="287.73" r="1.8" fill="#7a1f8c"/>
<path d="M52.4 290.7V296.6M50.9 290.7h3.0M50.9 296.6h3.0" stroke="#7a1f8c" stroke-width="0.65"/>
<circle cx="52.41" cy="293.62" r="1.8" fill="#7a1f8c"/>
<path d="M60.5 290.1V297.2M59.0 290.1h3.0M59.0 297.2h3.0" stroke="#7a1f8c" stroke-width="0.65"/>
<circle cx="60.52" cy="293.62" r="1.8" fill="#7a1f8c"/>
<path d="M68.6 288.9V292.4M67.1 288.9h3.0M67.1 292.4h3.0" stroke="#7a1f8c" stroke-width="0.65"/>
<circle cx="68.63" cy="290.67" r="1.8" fill="#7a1f8c"/>
<path d="M76.7 283.0V285.4M75.2 283.0h3.0M75.2 285.4h3.0" stroke="#7a1f8c" stroke-width="0.65"/>
<circle cx="76.74" cy="284.19" r="1.8" fill="#7a1f8c"/>
<path d="M84.9 271.8V277.7M83.4 271.8h3.0M83.4 277.7h3.0" stroke="#7a1f8c" stroke-width="0.65"/>
<circle cx="84.86" cy="274.76" r="1.8" fill="#7a1f8c"/>
<path d="M93.0 250.6V254.1M91.5 250.6h3.0M91.5 254.1h3.0" stroke="#7a1f8c" stroke-width="0.65"/>
<circle cx="92.97" cy="252.37" r="1.8" fill="#7a1f8c"/>
<path d="M101.1 240.0V242.4M99.6 240.0h3.0M99.6 242.4h3.0" stroke="#7a1f8c" stroke-width="0.65"/>
<circle cx="101.08" cy="241.17" r="1.8" fill="#7a1f8c"/>
<path d="M109.2 235.9V237.0M107.7 235.9h3.0M107.7 237.0h3.0" stroke="#7a1f8c" stroke-width="0.65"/>
<circle cx="109.19" cy="236.46" r="1.8" fill="#7a1f8c"/>
<path d="M117.3 235.9V237.0M115.8 235.9h3.0M115.8 237.0h3.0" stroke="#7a1f8c" stroke-width="0.65"/>
<circle cx="117.30" cy="236.46" r="1.8" fill="#7a1f8c"/>
<line x1="139.3" y1="264.2" x2="148.3" y2="264.2" stroke="#7a1f8c" stroke-width="0.8"/>
<circle cx="143.80" cy="264.20" r="1.6" fill="#7a1f8c"/>
<text transform="translate(154.00,266.95) scale(1,1.07)" font-size="7.75" text-anchor="start" fill="#000" stroke="#000">Sotorasib</text>
<line x1="139.3" y1="275.6" x2="148.3" y2="275.6" stroke="#2b2bd0" stroke-width="0.8"/>
<polygon points="143.8,277.5 142.0,274.4 145.6,274.4" fill="#2b2bd0"/>
<text transform="translate(154.00,278.35) scale(1,1.07)" font-size="7.75" text-anchor="start" fill="#000" stroke="#000">Adagrasib</text>
<line x1="139.3" y1="286.7" x2="148.3" y2="286.7" stroke="#f26a21" stroke-width="0.8"/>
<polygon points="143.8,284.8 142.0,287.9 145.6,287.9" fill="#f26a21"/>
<text transform="translate(154.00,289.45) scale(1,1.07)" font-size="7.75" text-anchor="start" fill="#000" stroke="#000">D3S-001</text>
<line x1="2.0" y1="338.0" x2="188.5" y2="338.0" stroke="#9a9a9a" stroke-width="1.1"/>
<text transform="translate(69.00,348.80) scale(1,1.07)" font-size="7.6" text-anchor="middle" fill="#000" stroke="#000">Sotorasib</text>
<text transform="translate(117.30,348.80) scale(1,1.07)" font-size="7.6" text-anchor="middle" fill="#000" stroke="#000">Adagrasib</text>
<text transform="translate(165.40,348.80) scale(1,1.07)" font-size="7.6" text-anchor="middle" fill="#000" stroke="#000">D3S-001</text>
<line x1="2.0" y1="353.8" x2="188.5" y2="353.8" stroke="#9a9a9a" stroke-width="1.1"/>
<text transform="translate(2.60,364.80) scale(1,1.07)" font-size="7.9" text-anchor="start" fill="#000" stroke="#000">IC<tspan font-size="4.6" dy="2.6">50</tspan><tspan dy="-2.6"> (nmol/L)</tspan></text>
<text transform="translate(69.00,364.80) scale(1,1.07)" font-size="7.8" text-anchor="middle" fill="#000" stroke="#000">20.5</text>
<text transform="translate(117.30,364.80) scale(1,1.07)" font-size="7.8" text-anchor="middle" fill="#000" stroke="#000">25.9</text>
<text transform="translate(165.40,364.80) scale(1,1.07)" font-size="7.8" text-anchor="middle" fill="#000" stroke="#000">0.3</text>
<line x1="2.0" y1="369.8" x2="188.5" y2="369.8" stroke="#9a9a9a" stroke-width="1.1"/>
<text transform="translate(205.00,8.30) scale(1,1.07)" font-size="10.4" text-anchor="start" fill="#231f20" stroke="#231f20" font-weight="bold">B</text>
<text transform="translate(228.70,6.90) scale(1,1.07)" font-size="7.75" text-anchor="start" fill="#231f20" stroke="#231f20">Antiproliferative effect in human cancer cell lines</text>
<text transform="translate(228.70,31.70) scale(1,1.07)" font-size="7.7" text-anchor="start" fill="#231f20" stroke="#231f20">The effect of D3S-001 on cell proliferation</text>
<text transform="translate(299.30,40.40) scale(1,1.07)" font-size="7.7" text-anchor="middle" fill="#231f20" stroke="#231f20">(2D assay)</text>
<polyline points="240.4,72.5 241.3,72.5 242.2,72.5 243.2,72.5 244.1,72.5 245.0,72.5 246.0,72.5 246.9,72.5 247.8,72.5 248.8,72.5 249.7,72.5 250.6,72.5 251.6,72.5 252.5,72.5 253.5,72.5 254.4,72.5 255.3,72.5 256.3,72.5 257.2,72.5 258.1,72.5 259.1,72.5 260.0,72.5 260.9,72.5 261.9,72.5 262.8,72.5 263.8,72.5 264.7,72.5 265.6,72.5 266.6,72.5 267.5,72.5 268.4,72.5 269.4,72.5 270.3,72.5 271.2,72.5 272.2,72.5 273.1,72.5 274.0,72.5 275.0,72.5 275.9,72.5 276.9,72.5 277.8,72.5 278.7,72.5 279.7,72.5 280.6,72.5 281.5,72.5 282.5,72.5 283.4,72.5 284.3,72.5 285.3,72.5 286.2,72.5 287.2,72.5 288.1,72.5 289.0,72.5 290.0,72.5 290.9,72.5 291.8,72.5 292.8,72.5 293.7,72.5 294.6,72.5 295.6,72.5 296.5,72.5 297.4,72.5 298.4,72.5 299.3,72.5 300.3,72.5 301.2,72.5 302.1,72.5 303.1,72.5 304.0,72.5 304.9,72.5 305.9,72.5 306.8,72.5 307.7,72.5 308.7,72.5 309.6,72.5 310.6,72.5 311.5,72.5 312.4,72.5 313.4,72.5 314.3,72.5 315.2,72.5 316.2,72.5 317.1,72.5 318.0,72.5 319.0,72.5 319.9,72.5 320.8,72.5 321.8,72.5 322.7,72.5 323.7,72.5 324.6,72.5 325.5,72.5 326.5,72.5 327.4,72.5 328.3,72.6 329.3,72.6 330.2,72.6 331.1,72.6 332.1,72.6 333.0,72.6 334.0,72.6 334.9,72.6 335.8,72.6 336.8,72.6 337.7,72.6 338.6,72.6 339.6,72.6 340.5,72.6 341.4,72.7 342.4,72.7 343.3,72.7 344.2,72.7 345.2,72.7 346.1,72.8 347.1,72.8 348.0,72.9 348.9,72.9 349.9,73.0 350.8,73.0 351.7,73.1 352.7,73.2 353.6,73.3 354.5,73.4 355.5,73.5 356.4,73.7 357.4,73.8 358.3,74.0 359.2,74.2 360.2,74.5 361.1,74.7 362.0,75.1 363.0,75.4 363.9,75.8 364.8,76.3 365.8,76.8 366.7,77.4 367.6,78.1 368.6,78.9 369.5,79.7 370.5,80.7 371.4,81.7" fill="none" stroke="#7d7d7d" stroke-width="0.75" stroke-dasharray="2.6,1.8"/>
<path d="M240.4 69.5V75.5M239.2 69.5h2.4M239.2 75.5h2.4" stroke="#7d7d7d" stroke-width="0.6"/>
<circle cx="240.35" cy="72.53" r="1.3" fill="#7d7d7d"/>
<path d="M256.7 69.5V75.5M255.5 69.5h2.4M255.5 75.5h2.4" stroke="#7d7d7d" stroke-width="0.6"/>
<circle cx="256.71" cy="72.53" r="1.3" fill="#7d7d7d"/>
<path d="M273.1 69.5V75.5M271.9 69.5h2.4M271.9 75.5h2.4" stroke="#7d7d7d" stroke-width="0.6"/>
<circle cx="273.06" cy="72.53" r="1.3" fill="#7d7d7d"/>
<path d="M289.4 69.5V75.5M288.2 69.5h2.4M288.2 75.5h2.4" stroke="#7d7d7d" stroke-width="0.6"/>
<circle cx="289.42" cy="72.53" r="1.3" fill="#7d7d7d"/>
<path d="M305.8 69.5V75.5M304.6 69.5h2.4M304.6 75.5h2.4" stroke="#7d7d7d" stroke-width="0.6"/>
<circle cx="305.78" cy="72.53" r="1.3" fill="#7d7d7d"/>
<path d="M322.1 69.5V75.5M320.9 69.5h2.4M320.9 75.5h2.4" stroke="#7d7d7d" stroke-width="0.6"/>
<circle cx="322.13" cy="72.54" r="1.3" fill="#7d7d7d"/>
<path d="M338.5 69.6V75.6M337.3 69.6h2.4M337.3 75.6h2.4" stroke="#7d7d7d" stroke-width="0.6"/>
<circle cx="338.49" cy="72.61" r="1.3" fill="#7d7d7d"/>
<path d="M354.8 70.4V76.4M353.6 70.4h2.4M353.6 76.4h2.4" stroke="#7d7d7d" stroke-width="0.6"/>
<circle cx="354.84" cy="73.43" r="1.3" fill="#7d7d7d"/>
<path d="M371.2 78.5V84.5M370.0 78.5h2.4M370.0 84.5h2.4" stroke="#7d7d7d" stroke-width="0.6"/>
<circle cx="371.20" cy="81.52" r="1.3" fill="#7d7d7d"/>
<polyline points="240.4,78.5 241.3,78.5 242.2,78.5 243.2,78.5 244.1,78.5 245.0,78.5 246.0,78.5 246.9,78.5 247.8,78.5 248.8,78.5 249.7,78.5 250.6,78.5 251.6,78.5 252.5,78.5 253.5,78.5 254.4,78.5 255.3,78.5 256.3,78.5 257.2,78.5 258.1,78.5 259.1,78.5 260.0,78.5 260.9,78.5 261.9,78.5 262.8,78.5 263.8,78.5 264.7,78.5 265.6,78.5 266.6,78.5 267.5,78.5 268.4,78.5 269.4,78.5 270.3,78.5 271.2,78.5 272.2,78.5 273.1,78.5 274.0,78.5 275.0,78.5 275.9,78.5 276.9,78.5 277.8,78.5 278.7,78.5 279.7,78.5 280.6,78.5 281.5,78.5 282.5,78.5 283.4,78.5 284.3,78.5 285.3,78.5 286.2,78.5 287.2,78.5 288.1,78.5 289.0,78.5 290.0,78.5 290.9,78.5 291.8,78.5 292.8,78.5 293.7,78.5 294.6,78.5 295.6,78.5 296.5,78.5 297.4,78.5 298.4,78.5 299.3,78.5 300.3,78.5 301.2,78.5 302.1,78.5 303.1,78.5 304.0,78.5 304.9,78.5 305.9,78.5 306.8,78.5 307.7,78.5 308.7,78.5 309.6,78.5 310.6,78.6 311.5,78.6 312.4,78.6 313.4,78.6 314.3,78.6 315.2,78.6 316.2,78.6 317.1,78.6 318.0,78.6 319.0,78.6 319.9,78.6 320.8,78.6 321.8,78.6 322.7,78.6 323.7,78.6 324.6,78.6 325.5,78.6 326.5,78.6 327.4,78.6 328.3,78.6 329.3,78.6 330.2,78.6 331.1,78.6 332.1,78.6 333.0,78.6 334.0,78.6 334.9,78.6 335.8,78.6 336.8,78.7 337.7,78.7 338.6,78.7 339.6,78.7 340.5,78.7 341.4,78.8 342.4,78.8 343.3,78.8 344.2,78.9 345.2,78.9 346.1,79.0 347.1,79.0 348.0,79.1 348.9,79.2 349.9,79.3 350.8,79.4 351.7,79.5 352.7,79.6 353.6,79.8 354.5,80.0 355.5,80.2 356.4,80.4 357.4,80.7 358.3,81.0 359.2,81.3 360.2,81.7 361.1,82.2 362.0,82.7 363.0,83.3 363.9,83.9 364.8,84.6 365.8,85.5 366.7,86.4 367.6,87.4 368.6,88.5 369.5,89.8 370.5,91.2 371.4,92.7" fill="none" stroke="#7d7d7d" stroke-width="0.75" stroke-dasharray="2.6,1.8"/>
<path d="M240.4 76.3V80.8M239.2 76.3h2.4M239.2 80.8h2.4" stroke="#7d7d7d" stroke-width="0.6"/>
<circle cx="240.35" cy="78.55" r="1.3" fill="#7d7d7d"/>
<path d="M256.7 76.3V80.8M255.5 76.3h2.4M255.5 80.8h2.4" stroke="#7d7d7d" stroke-width="0.6"/>
<circle cx="256.71" cy="78.55" r="1.3" fill="#7d7d7d"/>
<path d="M273.1 76.3V80.8M271.9 76.3h2.4M271.9 80.8h2.4" stroke="#7d7d7d" stroke-width="0.6"/>
<circle cx="273.06" cy="78.55" r="1.3" fill="#7d7d7d"/>
<path d="M289.4 76.3V80.8M288.2 76.3h2.4M288.2 80.8h2.4" stroke="#7d7d7d" stroke-width="0.6"/>
<circle cx="289.42" cy="78.55" r="1.3" fill="#7d7d7d"/>
<path d="M305.8 76.3V80.8M304.6 76.3h2.4M304.6 80.8h2.4" stroke="#7d7d7d" stroke-width="0.6"/>
<circle cx="305.78" cy="78.55" r="1.3" fill="#7d7d7d"/>
<path d="M322.1 76.3V80.8M320.9 76.3h2.4M320.9 80.8h2.4" stroke="#7d7d7d" stroke-width="0.6"/>
<circle cx="322.13" cy="78.56" r="1.3" fill="#7d7d7d"/>
<path d="M338.5 76.4V80.9M337.3 76.4h2.4M337.3 80.9h2.4" stroke="#7d7d7d" stroke-width="0.6"/>
<circle cx="338.49" cy="78.68" r="1.3" fill="#7d7d7d"/>
<path d="M354.8 77.8V82.3M353.6 77.8h2.4M353.6 82.3h2.4" stroke="#7d7d7d" stroke-width="0.6"/>
<circle cx="354.84" cy="80.03" r="1.3" fill="#7d7d7d"/>
<path d="M371.2 90.1V94.6M370.0 90.1h2.4M370.0 94.6h2.4" stroke="#7d7d7d" stroke-width="0.6"/>
<circle cx="371.20" cy="92.39" r="1.3" fill="#7d7d7d"/>
<polyline points="240.4,79.7 241.3,79.7 242.2,79.7 243.2,79.7 244.1,79.7 245.0,79.7 246.0,79.7 246.9,79.7 247.8,79.7 248.8,79.7 249.7,79.7 250.6,79.7 251.6,79.7 252.5,79.7 253.5,79.7 254.4,79.7 255.3,79.7 256.3,79.7 257.2,79.7 258.1,79.7 259.1,79.7 260.0,79.7 260.9,79.7 261.9,79.7 262.8,79.7 263.8,79.7 264.7,79.7 265.6,79.7 266.6,79.7 267.5,79.7 268.4,79.7 269.4,79.7 270.3,79.7 271.2,79.7 272.2,79.7 273.1,79.7 274.0,79.7 275.0,79.7 275.9,79.7 276.9,79.7 277.8,79.7 278.7,79.7 279.7,79.7 280.6,79.7 281.5,79.7 282.5,79.7 283.4,79.7 284.3,79.7 285.3,79.7 286.2,79.7 287.2,79.7 288.1,79.7 289.0,79.7 290.0,79.7 290.9,79.7 291.8,79.7 292.8,79.7 293.7,79.7 294.6,79.7 295.6,79.7 296.5,79.7 297.4,79.7 298.4,79.7 299.3,79.7 300.3,79.7 301.2,79.7 302.1,79.7 303.1,79.7 304.0,79.7 304.9,79.7 305.9,79.7 306.8,79.7 307.7,79.7 308.7,79.7 309.6,79.7 310.6,79.7 311.5,79.7 312.4,79.7 313.4,79.7 314.3,79.7 315.2,79.7 316.2,79.7 317.1,79.7 318.0,79.7 319.0,79.7 319.9,79.7 320.8,79.7 321.8,79.7 322.7,79.7 323.7,79.7 324.6,79.7 325.5,79.7 326.5,79.7 327.4,79.7 328.3,79.7 329.3,79.8 330.2,79.8 331.1,79.8 332.1,79.8 333.0,79.8 334.0,79.8 334.9,79.9 335.8,79.9 336.8,79.9 337.7,80.0 338.6,80.0 339.6,80.1 340.5,80.1 341.4,80.2 342.4,80.2 343.3,80.3 344.2,80.4 345.2,80.5 346.1,80.7 347.1,80.8 348.0,81.0 348.9,81.2 349.9,81.4 350.8,81.6 351.7,81.9 352.7,82.2 353.6,82.6 354.5,83.0 355.5,83.4 356.4,84.0 357.4,84.6 358.3,85.2 359.2,86.0 360.2,86.8 361.1,87.8 362.0,88.8 363.0,90.0 363.9,91.3 364.8,92.7 365.8,94.3 366.7,95.9 367.6,97.8 368.6,99.7 369.5,101.8 370.5,104.0 371.4,106.4" fill="none" stroke="#7d7d7d" stroke-width="0.75" stroke-dasharray="2.6,1.8"/>
<path d="M240.4 77.4V81.9M239.2 77.4h2.4M239.2 81.9h2.4" stroke="#7d7d7d" stroke-width="0.6"/>
<circle cx="240.35" cy="79.68" r="1.3" fill="#7d7d7d"/>
<path d="M256.7 77.4V81.9M255.5 77.4h2.4M255.5 81.9h2.4" stroke="#7d7d7d" stroke-width="0.6"/>
<circle cx="256.71" cy="79.68" r="1.3" fill="#7d7d7d"/>
<path d="M273.1 77.4V81.9M271.9 77.4h2.4M271.9 81.9h2.4" stroke="#7d7d7d" stroke-width="0.6"/>
<circle cx="273.06" cy="79.68" r="1.3" fill="#7d7d7d"/>
<path d="M289.4 77.4V81.9M288.2 77.4h2.4M288.2 81.9h2.4" stroke="#7d7d7d" stroke-width="0.6"/>
<circle cx="289.42" cy="79.68" r="1.3" fill="#7d7d7d"/>
<path d="M305.8 77.4V81.9M304.6 77.4h2.4M304.6 81.9h2.4" stroke="#7d7d7d" stroke-width="0.6"/>
<circle cx="305.78" cy="79.68" r="1.3" fill="#7d7d7d"/>
<path d="M322.1 77.4V82.0M320.9 77.4h2.4M320.9 82.0h2.4" stroke="#7d7d7d" stroke-width="0.6"/>
<circle cx="322.13" cy="79.70" r="1.3" fill="#7d7d7d"/>
<path d="M338.5 77.7V82.3M337.3 77.7h2.4M337.3 82.3h2.4" stroke="#7d7d7d" stroke-width="0.6"/>
<circle cx="338.49" cy="80.00" r="1.3" fill="#7d7d7d"/>
<path d="M354.8 80.9V85.4M353.6 80.9h2.4M353.6 85.4h2.4" stroke="#7d7d7d" stroke-width="0.6"/>
<circle cx="354.84" cy="83.12" r="1.3" fill="#7d7d7d"/>
<path d="M371.2 103.6V108.1M370.0 103.6h2.4M370.0 108.1h2.4" stroke="#7d7d7d" stroke-width="0.6"/>
<circle cx="371.20" cy="105.88" r="1.3" fill="#7d7d7d"/>
<polyline points="240.4,77.0 241.3,77.0 242.2,77.0 243.2,77.0 244.1,77.0 245.0,77.0 246.0,77.0 246.9,77.0 247.8,77.0 248.8,77.0 249.7,77.0 250.6,77.0 251.6,77.0 252.5,77.0 253.5,77.0 254.4,77.0 255.3,77.0 256.3,77.0 257.2,77.0 258.1,77.0 259.1,77.0 260.0,77.0 260.9,77.0 261.9,77.0 262.8,77.0 263.8,77.0 264.7,77.0 265.6,77.0 266.6,77.0 267.5,77.0 268.4,77.0 269.4,77.0 270.3,77.0 271.2,77.0 272.2,77.0 273.1,77.0 274.0,77.0 275.0,77.0 275.9,77.0 276.9,77.0 277.8,77.0 278.7,77.0 279.7,77.0 280.6,77.0 281.5,77.0 282.5,77.0 283.4,77.0 284.3,77.0 285.3,77.0 286.2,77.0 287.2,77.0 288.1,77.0 289.0,77.0 290.0,77.0 290.9,77.0 291.8,77.0 292.8,77.0 293.7,77.0 294.6,77.0 295.6,77.0 296.5,77.0 297.4,77.0 298.4,77.0 299.3,77.0 300.3,77.0 301.2,77.0 302.1,77.0 303.1,77.0 304.0,77.0 304.9,77.0 305.9,77.0 306.8,77.0 307.7,77.0 308.7,77.0 309.6,77.0 310.6,77.0 311.5,77.0 312.4,77.1 313.4,77.1 314.3,77.1 315.2,77.1 316.2,77.1 317.1,77.1 318.0,77.1 319.0,77.1 319.9,77.1 320.8,77.1 321.8,77.1 322.7,77.1 323.7,77.1 324.6,77.1 325.5,77.1 326.5,77.1 327.4,77.1 328.3,77.1 329.3,77.1 330.2,77.1 331.1,77.2 332.1,77.2 333.0,77.2 334.0,77.2 334.9,77.2 335.8,77.3 336.8,77.3 337.7,77.3 338.6,77.4 339.6,77.4 340.5,77.5 341.4,77.5 342.4,77.6 343.3,77.7 344.2,77.8 345.2,77.9 346.1,78.0 347.1,78.2 348.0,78.3 348.9,78.5 349.9,78.7 350.8,79.0 351.7,79.2 352.7,79.5 353.6,79.9 354.5,80.3 355.5,80.8 356.4,81.3 357.4,81.9 358.3,82.5 359.2,83.3 360.2,84.1 361.1,85.1 362.0,86.1 363.0,87.3 363.9,88.6 364.8,90.0 365.8,91.6 366.7,93.3 367.6,95.1 368.6,97.1 369.5,99.2 370.5,101.4 371.4,103.8" fill="none" stroke="#7d7d7d" stroke-width="0.75" stroke-dasharray="2.6,1.8"/>
<path d="M240.4 74.8V79.3M239.2 74.8h2.4M239.2 79.3h2.4" stroke="#7d7d7d" stroke-width="0.6"/>
<circle cx="240.35" cy="77.04" r="1.3" fill="#7d7d7d"/>
<path d="M256.7 74.8V79.3M255.5 74.8h2.4M255.5 79.3h2.4" stroke="#7d7d7d" stroke-width="0.6"/>
<circle cx="256.71" cy="77.04" r="1.3" fill="#7d7d7d"/>
<path d="M273.1 74.8V79.3M271.9 74.8h2.4M271.9 79.3h2.4" stroke="#7d7d7d" stroke-width="0.6"/>
<circle cx="273.06" cy="77.04" r="1.3" fill="#7d7d7d"/>
<path d="M289.4 74.8V79.3M288.2 74.8h2.4M288.2 79.3h2.4" stroke="#7d7d7d" stroke-width="0.6"/>
<circle cx="289.42" cy="77.04" r="1.3" fill="#7d7d7d"/>
<path d="M305.8 74.8V79.3M304.6 74.8h2.4M304.6 79.3h2.4" stroke="#7d7d7d" stroke-width="0.6"/>
<circle cx="305.78" cy="77.05" r="1.3" fill="#7d7d7d"/>
<path d="M322.1 74.8V79.3M320.9 74.8h2.4M320.9 79.3h2.4" stroke="#7d7d7d" stroke-width="0.6"/>
<circle cx="322.13" cy="77.07" r="1.3" fill="#7d7d7d"/>
<path d="M338.5 75.1V79.6M337.3 75.1h2.4M337.3 79.6h2.4" stroke="#7d7d7d" stroke-width="0.6"/>
<circle cx="338.49" cy="77.36" r="1.3" fill="#7d7d7d"/>
<path d="M354.8 78.2V82.7M353.6 78.2h2.4M353.6 82.7h2.4" stroke="#7d7d7d" stroke-width="0.6"/>
<circle cx="354.84" cy="80.44" r="1.3" fill="#7d7d7d"/>
<path d="M371.2 101.1V105.6M370.0 101.1h2.4M370.0 105.6h2.4" stroke="#7d7d7d" stroke-width="0.6"/>
<circle cx="371.20" cy="103.31" r="1.3" fill="#7d7d7d"/>
<polyline points="240.4,73.3 241.3,73.3 242.2,73.3 243.2,73.3 244.1,73.3 245.0,73.3 246.0,73.3 246.9,73.3 247.8,73.3 248.8,73.3 249.7,73.3 250.6,73.3 251.6,73.3 252.5,73.3 253.5,73.3 254.4,73.3 255.3,73.3 256.3,73.3 257.2,73.3 258.1,73.3 259.1,73.3 260.0,73.3 260.9,73.3 261.9,73.3 262.8,73.3 263.8,73.3 264.7,73.3 265.6,73.3 266.6,73.3 267.5,73.3 268.4,73.3 269.4,73.3 270.3,73.3 271.2,73.3 272.2,73.3 273.1,73.3 274.0,73.3 275.0,73.3 275.9,73.3 276.9,73.3 277.8,73.3 278.7,73.3 279.7,73.3 280.6,73.3 281.5,73.3 282.5,73.3 283.4,73.3 284.3,73.3 285.3,73.3 286.2,73.3 287.2,73.3 288.1,73.3 289.0,73.3 290.0,73.3 290.9,73.3 291.8,73.3 292.8,73.3 293.7,73.3 294.6,73.3 295.6,73.3 296.5,73.3 297.4,73.3 298.4,73.3 299.3,73.3 300.3,73.3 301.2,73.3 302.1,73.3 303.1,73.3 304.0,73.3 304.9,73.3 305.9,73.3 306.8,73.3 307.7,73.3 308.7,73.3 309.6,73.3 310.6,73.3 311.5,73.3 312.4,73.3 313.4,73.3 314.3,73.3 315.2,73.3 316.2,73.3 317.1,73.3 318.0,73.3 319.0,73.3 319.9,73.3 320.8,73.3 321.8,73.3 322.7,73.3 323.7,73.3 324.6,73.3 325.5,73.3 326.5,73.3 327.4,73.3 328.3,73.3 329.3,73.3 330.2,73.3 331.1,73.3 332.1,73.3 333.0,73.3 334.0,73.3 334.9,73.3 335.8,73.3 336.8,73.4 337.7,73.4 338.6,73.4 339.6,73.4 340.5,73.4 341.4,73.4 342.4,73.4 343.3,73.5 344.2,73.5 345.2,73.5 346.1,73.6 347.1,73.6 348.0,73.6 348.9,73.7 349.9,73.8 350.8,73.8 351.7,73.9 352.7,74.0 353.6,74.1 354.5,74.2 355.5,74.4 356.4,74.5 357.4,74.7 358.3,74.9 359.2,75.1 360.2,75.4 361.1,75.7 362.0,76.1 363.0,76.5 363.9,76.9 364.8,77.4 365.8,78.0 366.7,78.6 367.6,79.4 368.6,80.2 369.5,81.1 370.5,82.2 371.4,83.3" fill="none" stroke="#7d7d7d" stroke-width="0.75" stroke-dasharray="2.6,1.8"/>
<path d="M240.4 71.0V75.5M239.2 71.0h2.4M239.2 75.5h2.4" stroke="#7d7d7d" stroke-width="0.6"/>
<circle cx="240.35" cy="73.28" r="1.3" fill="#7d7d7d"/>
<path d="M256.7 71.0V75.5M255.5 71.0h2.4M255.5 75.5h2.4" stroke="#7d7d7d" stroke-width="0.6"/>
<circle cx="256.71" cy="73.28" r="1.3" fill="#7d7d7d"/>
<path d="M273.1 71.0V75.5M271.9 71.0h2.4M271.9 75.5h2.4" stroke="#7d7d7d" stroke-width="0.6"/>
<circle cx="273.06" cy="73.28" r="1.3" fill="#7d7d7d"/>
<path d="M289.4 71.0V75.5M288.2 71.0h2.4M288.2 75.5h2.4" stroke="#7d7d7d" stroke-width="0.6"/>
<circle cx="289.42" cy="73.28" r="1.3" fill="#7d7d7d"/>
<path d="M305.8 71.0V75.5M304.6 71.0h2.4M304.6 75.5h2.4" stroke="#7d7d7d" stroke-width="0.6"/>
<circle cx="305.78" cy="73.28" r="1.3" fill="#7d7d7d"/>
<path d="M322.1 71.0V75.5M320.9 71.0h2.4M320.9 75.5h2.4" stroke="#7d7d7d" stroke-width="0.6"/>
<circle cx="322.13" cy="73.29" r="1.3" fill="#7d7d7d"/>
<path d="M338.5 71.1V75.6M337.3 71.1h2.4M337.3 75.6h2.4" stroke="#7d7d7d" stroke-width="0.6"/>
<circle cx="338.49" cy="73.37" r="1.3" fill="#7d7d7d"/>
<path d="M354.8 72.0V76.5M353.6 72.0h2.4M353.6 76.5h2.4" stroke="#7d7d7d" stroke-width="0.6"/>
<circle cx="354.84" cy="74.27" r="1.3" fill="#7d7d7d"/>
<path d="M371.2 80.8V85.3M370.0 80.8h2.4M370.0 85.3h2.4" stroke="#7d7d7d" stroke-width="0.6"/>
<circle cx="371.20" cy="83.08" r="1.3" fill="#7d7d7d"/>
<polyline points="240.4,79.3 241.3,79.3 242.2,79.3 243.2,79.3 244.1,79.3 245.0,79.3 246.0,79.3 246.9,79.3 247.8,79.3 248.8,79.3 249.7,79.3 250.6,79.3 251.6,79.3 252.5,79.3 253.5,79.3 254.4,79.3 255.3,79.3 256.3,79.3 257.2,79.3 258.1,79.3 259.1,79.3 260.0,79.3 260.9,79.3 261.9,79.3 262.8,79.3 263.8,79.3 264.7,79.3 265.6,79.3 266.6,79.3 267.5,79.3 268.4,79.3 269.4,79.3 270.3,79.3 271.2,79.3 272.2,79.3 273.1,79.3 274.0,79.3 275.0,79.3 275.9,79.3 276.9,79.3 277.8,79.3 278.7,79.3 279.7,79.3 280.6,79.3 281.5,79.3 282.5,79.3 283.4,79.3 284.3,79.3 285.3,79.3 286.2,79.3 287.2,79.3 288.1,79.3 289.0,79.3 290.0,79.3 290.9,79.3 291.8,79.3 292.8,79.3 293.7,79.3 294.6,79.3 295.6,79.3 296.5,79.3 297.4,79.3 298.4,79.3 299.3,79.3 300.3,79.3 301.2,79.3 302.1,79.3 303.1,79.3 304.0,79.3 304.9,79.3 305.9,79.3 306.8,79.3 307.7,79.3 308.7,79.3 309.6,79.3 310.6,79.3 311.5,79.3 312.4,79.3 313.4,79.3 314.3,79.3 315.2,79.3 316.2,79.3 317.1,79.3 318.0,79.3 319.0,79.3 319.9,79.3 320.8,79.3 321.8,79.3 322.7,79.3 323.7,79.3 324.6,79.3 325.5,79.3 326.5,79.4 327.4,79.4 328.3,79.4 329.3,79.4 330.2,79.4 331.1,79.4 332.1,79.4 333.0,79.4 334.0,79.5 334.9,79.5 335.8,79.5 336.8,79.5 337.7,79.6 338.6,79.6 339.6,79.7 340.5,79.7 341.4,79.8 342.4,79.8 343.3,79.9 344.2,80.0 345.2,80.1 346.1,80.2 347.1,80.4 348.0,80.5 348.9,80.7 349.9,80.9 350.8,81.2 351.7,81.4 352.7,81.7 353.6,82.1 354.5,82.5 355.5,82.9 356.4,83.5 357.4,84.0 358.3,84.7 359.2,85.4 360.2,86.2 361.1,87.2 362.0,88.2 363.0,89.3 363.9,90.6 364.8,92.0 365.8,93.5 366.7,95.2 367.6,97.0 368.6,98.9 369.5,101.0 370.5,103.1 371.4,105.5" fill="none" stroke="#7d7d7d" stroke-width="0.75" stroke-dasharray="2.6,1.8"/>
<path d="M240.4 77.0V81.6M239.2 77.0h2.4M239.2 81.6h2.4" stroke="#7d7d7d" stroke-width="0.6"/>
<rect x="239.18" y="78.13" width="2.34" height="2.34" fill="#7d7d7d"/>
<path d="M256.7 77.0V81.6M255.5 77.0h2.4M255.5 81.6h2.4" stroke="#7d7d7d" stroke-width="0.6"/>
<rect x="255.54" y="78.13" width="2.34" height="2.34" fill="#7d7d7d"/>
<path d="M273.1 77.0V81.6M271.9 77.0h2.4M271.9 81.6h2.4" stroke="#7d7d7d" stroke-width="0.6"/>
<rect x="271.89" y="78.13" width="2.34" height="2.34" fill="#7d7d7d"/>
<path d="M289.4 77.0V81.6M288.2 77.0h2.4M288.2 81.6h2.4" stroke="#7d7d7d" stroke-width="0.6"/>
<rect x="288.25" y="78.13" width="2.34" height="2.34" fill="#7d7d7d"/>
<path d="M305.8 77.0V81.6M304.6 77.0h2.4M304.6 81.6h2.4" stroke="#7d7d7d" stroke-width="0.6"/>
<rect x="304.61" y="78.13" width="2.34" height="2.34" fill="#7d7d7d"/>
<path d="M322.1 77.1V81.6M320.9 77.1h2.4M320.9 81.6h2.4" stroke="#7d7d7d" stroke-width="0.6"/>
<rect x="320.96" y="78.16" width="2.34" height="2.34" fill="#7d7d7d"/>
<path d="M338.5 77.4V81.9M337.3 77.4h2.4M337.3 81.9h2.4" stroke="#7d7d7d" stroke-width="0.6"/>
<rect x="337.32" y="78.44" width="2.34" height="2.34" fill="#7d7d7d"/>
<path d="M354.8 80.4V84.9M353.6 80.4h2.4M353.6 84.9h2.4" stroke="#7d7d7d" stroke-width="0.6"/>
<rect x="353.67" y="81.46" width="2.34" height="2.34" fill="#7d7d7d"/>
<path d="M371.2 102.7V107.2M370.0 102.7h2.4M370.0 107.2h2.4" stroke="#7d7d7d" stroke-width="0.6"/>
<rect x="370.03" y="103.80" width="2.34" height="2.34" fill="#7d7d7d"/>
<polyline points="240.4,78.5 241.3,78.5 242.2,78.5 243.2,78.5 244.1,78.5 245.0,78.5 246.0,78.5 246.9,78.5 247.8,78.5 248.8,78.5 249.7,78.5 250.6,78.5 251.6,78.5 252.5,78.5 253.5,78.5 254.4,78.5 255.3,78.5 256.3,78.5 257.2,78.5 258.1,78.5 259.1,78.5 260.0,78.5 260.9,78.5 261.9,78.5 262.8,78.5 263.8,78.5 264.7,78.5 265.6,78.5 266.6,78.5 267.5,78.5 268.4,78.5 269.4,78.5 270.3,78.5 271.2,78.5 272.2,78.5 273.1,78.5 274.0,78.5 275.0,78.5 275.9,78.5 276.9,78.5 277.8,78.5 278.7,78.5 279.7,78.5 280.6,78.5 281.5,78.5 282.5,78.5 283.4,78.5 284.3,78.5 285.3,78.5 286.2,78.5 287.2,78.5 288.1,78.5 289.0,78.5 290.0,78.5 290.9,78.5 291.8,78.5 292.8,78.5 293.7,78.5 294.6,78.5 295.6,78.5 296.5,78.5 297.4,78.5 298.4,78.5 299.3,78.5 300.3,78.5 301.2,78.5 302.1,78.5 303.1,78.5 304.0,78.5 304.9,78.5 305.9,78.5 306.8,78.5 307.7,78.5 308.7,78.6 309.6,78.6 310.6,78.6 311.5,78.6 312.4,78.6 313.4,78.6 314.3,78.6 315.2,78.6 316.2,78.6 317.1,78.6 318.0,78.6 319.0,78.6 319.9,78.6 320.8,78.6 321.8,78.6 322.7,78.6 323.7,78.6 324.6,78.6 325.5,78.6 326.5,78.6 327.4,78.6 328.3,78.6 329.3,78.6 330.2,78.6 331.1,78.6 332.1,78.6 333.0,78.6 334.0,78.6 334.9,78.6 335.8,78.7 336.8,78.7 337.7,78.7 338.6,78.7 339.6,78.7 340.5,78.8 341.4,78.8 342.4,78.8 343.3,78.9 344.2,78.9 345.2,79.0 346.1,79.1 347.1,79.1 348.0,79.2 348.9,79.3 349.9,79.4 350.8,79.6 351.7,79.7 352.7,79.9 353.6,80.1 354.5,80.3 355.5,80.6 356.4,80.8 357.4,81.2 358.3,81.5 359.2,82.0 360.2,82.4 361.1,83.0 362.0,83.6 363.0,84.3 363.9,85.1 364.8,85.9 365.8,86.9 366.7,88.0 367.6,89.2 368.6,90.5 369.5,92.0 370.5,93.6 371.4,95.3" fill="none" stroke="#7d7d7d" stroke-width="0.75" stroke-dasharray="2.6,1.8"/>
<path d="M240.4 76.3V80.8M239.2 76.3h2.4M239.2 80.8h2.4" stroke="#7d7d7d" stroke-width="0.6"/>
<polygon points="240.4,77.0 238.9,79.6 241.8,79.6" fill="#7d7d7d"/>
<path d="M256.7 76.3V80.8M255.5 76.3h2.4M255.5 80.8h2.4" stroke="#7d7d7d" stroke-width="0.6"/>
<polygon points="256.7,77.0 255.2,79.6 258.2,79.6" fill="#7d7d7d"/>
<path d="M273.1 76.3V80.8M271.9 76.3h2.4M271.9 80.8h2.4" stroke="#7d7d7d" stroke-width="0.6"/>
<polygon points="273.1,77.0 271.6,79.6 274.5,79.6" fill="#7d7d7d"/>
<path d="M289.4 76.3V80.8M288.2 76.3h2.4M288.2 80.8h2.4" stroke="#7d7d7d" stroke-width="0.6"/>
<polygon points="289.4,77.0 287.9,79.6 290.9,79.6" fill="#7d7d7d"/>
<path d="M305.8 76.3V80.8M304.6 76.3h2.4M304.6 80.8h2.4" stroke="#7d7d7d" stroke-width="0.6"/>
<polygon points="305.8,77.0 304.3,79.6 307.3,79.6" fill="#7d7d7d"/>
<path d="M322.1 76.3V80.8M320.9 76.3h2.4M320.9 80.8h2.4" stroke="#7d7d7d" stroke-width="0.6"/>
<polygon points="322.1,77.0 320.7,79.6 323.6,79.6" fill="#7d7d7d"/>
<path d="M338.5 76.5V81.0M337.3 76.5h2.4M337.3 81.0h2.4" stroke="#7d7d7d" stroke-width="0.6"/>
<polygon points="338.5,77.2 337.0,79.7 340.0,79.7" fill="#7d7d7d"/>
<path d="M354.8 78.1V82.6M353.6 78.1h2.4M353.6 82.6h2.4" stroke="#7d7d7d" stroke-width="0.6"/>
<polygon points="354.8,78.8 353.4,81.4 356.3,81.4" fill="#7d7d7d"/>
<path d="M371.2 92.7V97.2M370.0 92.7h2.4M370.0 97.2h2.4" stroke="#7d7d7d" stroke-width="0.6"/>
<polygon points="371.2,93.4 369.7,96.0 372.7,96.0" fill="#7d7d7d"/>
<polyline points="240.4,76.0 241.3,76.0 242.2,76.0 243.2,76.1 244.1,76.1 245.0,76.2 246.0,76.3 246.9,76.3 247.8,76.4 248.8,76.5 249.7,76.6 250.6,76.7 251.6,76.8 252.5,76.9 253.5,77.0 254.4,77.1 255.3,77.3 256.3,77.5 257.2,77.6 258.1,77.8 259.1,78.0 260.0,78.2 260.9,78.5 261.9,78.7 262.8,79.0 263.8,79.3 264.7,79.6 265.6,80.0 266.6,80.3 267.5,80.7 268.4,81.1 269.4,81.6 270.3,82.0 271.2,82.5 272.2,83.0 273.1,83.6 274.0,84.2 275.0,84.8 275.9,85.4 276.9,86.0 277.8,86.7 278.7,87.4 279.7,88.1 280.6,88.8 281.5,89.6 282.5,90.3 283.4,91.1 284.3,91.8 285.3,92.6 286.2,93.4 287.2,94.1 288.1,94.9 289.0,95.6 290.0,96.3 290.9,97.0 291.8,97.7 292.8,98.4 293.7,99.0 294.6,99.6 295.6,100.2 296.5,100.8 297.4,101.3 298.4,101.8 299.3,102.3 300.3,102.8 301.2,103.2 302.1,103.6 303.1,104.0 304.0,104.3 304.9,104.7 305.9,105.0 306.8,105.3 307.7,105.5 308.7,105.8 309.6,106.0 310.6,106.2 311.5,106.4 312.4,106.6 313.4,106.8 314.3,106.9 315.2,107.1 316.2,107.2 317.1,107.3 318.0,107.4 319.0,107.5 319.9,107.6 320.8,107.7 321.8,107.8 322.7,107.9 323.7,107.9 324.6,108.0 325.5,108.0 326.5,108.1 327.4,108.1 328.3,108.2 329.3,108.2 330.2,108.3 331.1,108.3 332.1,108.3 333.0,108.3 334.0,108.4 334.9,108.4 335.8,108.4 336.8,108.4 337.7,108.5 338.6,108.5 339.6,108.5 340.5,108.5 341.4,108.5 342.4,108.5 343.3,108.5 344.2,108.5 345.2,108.5 346.1,108.6 347.1,108.6 348.0,108.6 348.9,108.6 349.9,108.6 350.8,108.6 351.7,108.6 352.7,108.6 353.6,108.6 354.5,108.6 355.5,108.6 356.4,108.6 357.4,108.6 358.3,108.6 359.2,108.6 360.2,108.6 361.1,108.6 362.0,108.6 363.0,108.6 363.9,108.6 364.8,108.6 365.8,108.6 366.7,108.6 367.6,108.6 368.6,108.6 369.5,108.6 370.5,108.6 371.4,108.6" fill="none" stroke="#2e2ec8" stroke-width="1.0"/>
<path d="M240.4 74.5V77.5M239.2 74.5h2.4M239.2 77.5h2.4" stroke="#2e2ec8" stroke-width="0.6"/>
<polygon points="240.4,74.4 238.9,77.0 241.8,77.0" fill="#2e2ec8"/>
<path d="M256.7 76.0V79.0M255.5 76.0h2.4M255.5 79.0h2.4" stroke="#2e2ec8" stroke-width="0.6"/>
<polygon points="256.7,76.0 255.2,78.5 258.2,78.5" fill="#2e2ec8"/>
<path d="M273.1 82.1V85.1M271.9 82.1h2.4M271.9 85.1h2.4" stroke="#2e2ec8" stroke-width="0.6"/>
<polygon points="273.1,82.0 271.6,84.6 274.5,84.6" fill="#2e2ec8"/>
<path d="M289.4 94.4V97.4M288.2 94.4h2.4M288.2 97.4h2.4" stroke="#2e2ec8" stroke-width="0.6"/>
<polygon points="289.4,94.3 287.9,96.9 290.9,96.9" fill="#2e2ec8"/>
<path d="M305.8 103.4V106.5M304.6 103.4h2.4M304.6 106.5h2.4" stroke="#2e2ec8" stroke-width="0.6"/>
<polygon points="305.8,103.4 304.3,106.0 307.3,106.0" fill="#2e2ec8"/>
<path d="M322.1 106.3V109.3M320.9 106.3h2.4M320.9 109.3h2.4" stroke="#2e2ec8" stroke-width="0.6"/>
<polygon points="322.1,106.3 320.7,108.8 323.6,108.8" fill="#2e2ec8"/>
<path d="M338.5 107.0V110.0M337.3 107.0h2.4M337.3 110.0h2.4" stroke="#2e2ec8" stroke-width="0.6"/>
<polygon points="338.5,106.9 337.0,109.5 340.0,109.5" fill="#2e2ec8"/>
<path d="M354.8 107.1V110.1M353.6 107.1h2.4M353.6 110.1h2.4" stroke="#2e2ec8" stroke-width="0.6"/>
<polygon points="354.8,107.0 353.4,109.6 356.3,109.6" fill="#2e2ec8"/>
<path d="M371.2 107.1V110.1M370.0 107.1h2.4M370.0 110.1h2.4" stroke="#2e2ec8" stroke-width="0.6"/>
<polygon points="371.2,107.1 369.7,109.6 372.7,109.6" fill="#2e2ec8"/>
<polyline points="240.4,76.4 241.3,76.4 242.2,76.4 243.2,76.4 244.1,76.4 245.0,76.4 246.0,76.4 246.9,76.4 247.8,76.4 248.8,76.5 249.7,76.5 250.6,76.5 251.6,76.5 252.5,76.6 253.5,76.6 254.4,76.6 255.3,76.7 256.3,76.7 257.2,76.8 258.1,76.9 259.1,76.9 260.0,77.0 260.9,77.1 261.9,77.2 262.8,77.3 263.8,77.4 264.7,77.6 265.6,77.7 266.6,77.9 267.5,78.1 268.4,78.3 269.4,78.6 270.3,78.9 271.2,79.2 272.2,79.5 273.1,79.9 274.0,80.4 275.0,80.8 275.9,81.4 276.9,82.0 277.8,82.6 278.7,83.4 279.7,84.2 280.6,85.0 281.5,86.0 282.5,87.0 283.4,88.2 284.3,89.4 285.3,90.7 286.2,92.1 287.2,93.7 288.1,95.3 289.0,97.0 290.0,98.8 290.9,100.6 291.8,102.6 292.8,104.5 293.7,106.6 294.6,108.7 295.6,110.7 296.5,112.8 297.4,114.9 298.4,117.0 299.3,119.0 300.3,120.9 301.2,122.8 302.1,124.7 303.1,126.4 304.0,128.1 304.9,129.6 305.9,131.1 306.8,132.5 307.7,133.7 308.7,134.9 309.6,136.0 310.6,137.0 311.5,137.9 312.4,138.8 313.4,139.5 314.3,140.2 315.2,140.8 316.2,141.4 317.1,141.9 318.0,142.4 319.0,142.8 319.9,143.2 320.8,143.5 321.8,143.8 322.7,144.1 323.7,144.3 324.6,144.5 325.5,144.7 326.5,144.9 327.4,145.0 328.3,145.2 329.3,145.3 330.2,145.4 331.1,145.5 332.1,145.6 333.0,145.6 334.0,145.7 334.9,145.8 335.8,145.8 336.8,145.9 337.7,145.9 338.6,145.9 339.6,146.0 340.5,146.0 341.4,146.0 342.4,146.0 343.3,146.1 344.2,146.1 345.2,146.1 346.1,146.1 347.1,146.1 348.0,146.1 348.9,146.1 349.9,146.2 350.8,146.2 351.7,146.2 352.7,146.2 353.6,146.2 354.5,146.2 355.5,146.2 356.4,146.2 357.4,146.2 358.3,146.2 359.2,146.2 360.2,146.2 361.1,146.2 362.0,146.2 363.0,146.2 363.9,146.2 364.8,146.2 365.8,146.2 366.7,146.2 367.6,146.2 368.6,146.2 369.5,146.2 370.5,146.2 371.4,146.2" fill="none" stroke="#157015" stroke-width="1.0"/>
<path d="M240.4 74.8V77.9M239.2 74.8h2.4M239.2 77.9h2.4" stroke="#157015" stroke-width="0.6"/>
<polygon points="240.4,74.8 238.9,77.4 241.8,77.4" fill="#157015"/>
<path d="M256.7 75.3V78.3M255.5 75.3h2.4M255.5 78.3h2.4" stroke="#157015" stroke-width="0.6"/>
<polygon points="256.7,75.2 255.2,77.8 258.2,77.8" fill="#157015"/>
<path d="M273.1 78.4V81.4M271.9 78.4h2.4M271.9 81.4h2.4" stroke="#157015" stroke-width="0.6"/>
<polygon points="273.1,78.3 271.6,80.9 274.5,80.9" fill="#157015"/>
<path d="M289.4 96.2V99.2M288.2 96.2h2.4M288.2 99.2h2.4" stroke="#157015" stroke-width="0.6"/>
<polygon points="289.4,96.2 287.9,98.7 290.9,98.7" fill="#157015"/>
<path d="M305.8 129.5V132.5M304.6 129.5h2.4M304.6 132.5h2.4" stroke="#157015" stroke-width="0.6"/>
<polygon points="305.8,129.4 304.3,132.0 307.3,132.0" fill="#157015"/>
<path d="M322.1 142.4V145.4M320.9 142.4h2.4M320.9 145.4h2.4" stroke="#157015" stroke-width="0.6"/>
<polygon points="322.1,142.3 320.7,144.9 323.6,144.9" fill="#157015"/>
<path d="M338.5 144.4V147.4M337.3 144.4h2.4M337.3 147.4h2.4" stroke="#157015" stroke-width="0.6"/>
<polygon points="338.5,144.4 337.0,146.9 340.0,146.9" fill="#157015"/>
<path d="M354.8 144.7V147.7M353.6 144.7h2.4M353.6 147.7h2.4" stroke="#157015" stroke-width="0.6"/>
<polygon points="354.8,144.6 353.4,147.2 356.3,147.2" fill="#157015"/>
<path d="M371.2 144.7V147.7M370.0 144.7h2.4M370.0 147.7h2.4" stroke="#157015" stroke-width="0.6"/>
<polygon points="371.2,144.7 369.7,147.2 372.7,147.2" fill="#157015"/>
<polyline points="240.4,77.1 241.3,77.2 242.2,77.3 243.2,77.4 244.1,77.5 245.0,77.7 246.0,77.8 246.9,78.0 247.8,78.2 248.8,78.5 249.7,78.7 250.6,79.0 251.6,79.4 252.5,79.7 253.5,80.2 254.4,80.6 255.3,81.1 256.3,81.7 257.2,82.3 258.1,82.9 259.1,83.7 260.0,84.5 260.9,85.4 261.9,86.3 262.8,87.4 263.8,88.5 264.7,89.6 265.6,90.9 266.6,92.2 267.5,93.7 268.4,95.1 269.4,96.7 270.3,98.3 271.2,99.9 272.2,101.6 273.1,103.3 274.0,105.0 275.0,106.7 275.9,108.4 276.9,110.1 277.8,111.7 278.7,113.3 279.7,114.8 280.6,116.3 281.5,117.7 282.5,119.0 283.4,120.3 284.3,121.5 285.3,122.6 286.2,123.6 287.2,124.5 288.1,125.4 289.0,126.2 290.0,126.9 290.9,127.6 291.8,128.2 292.8,128.7 293.7,129.2 294.6,129.6 295.6,130.1 296.5,130.4 297.4,130.7 298.4,131.0 299.3,131.3 300.3,131.5 301.2,131.7 302.1,131.9 303.1,132.1 304.0,132.2 304.9,132.4 305.9,132.5 306.8,132.6 307.7,132.7 308.7,132.8 309.6,132.9 310.6,132.9 311.5,133.0 312.4,133.0 313.4,133.1 314.3,133.1 315.2,133.2 316.2,133.2 317.1,133.2 318.0,133.2 319.0,133.3 319.9,133.3 320.8,133.3 321.8,133.3 322.7,133.3 323.7,133.3 324.6,133.4 325.5,133.4 326.5,133.4 327.4,133.4 328.3,133.4 329.3,133.4 330.2,133.4 331.1,133.4 332.1,133.4 333.0,133.4 334.0,133.4 334.9,133.4 335.8,133.4 336.8,133.4 337.7,133.4 338.6,133.4 339.6,133.4 340.5,133.4 341.4,133.4 342.4,133.4 343.3,133.4 344.2,133.4 345.2,133.4 346.1,133.4 347.1,133.4 348.0,133.4 348.9,133.4 349.9,133.4 350.8,133.4 351.7,133.4 352.7,133.4 353.6,133.4 354.5,133.4 355.5,133.4 356.4,133.4 357.4,133.4 358.3,133.4 359.2,133.4 360.2,133.4 361.1,133.4 362.0,133.4 363.0,133.4 363.9,133.4 364.8,133.4 365.8,133.4 366.7,133.4 367.6,133.4 368.6,133.4 369.5,133.4 370.5,133.4 371.4,133.4" fill="none" stroke="#a0662a" stroke-width="1.0"/>
<path d="M240.4 75.6V78.6M239.2 75.6h2.4M239.2 78.6h2.4" stroke="#a0662a" stroke-width="0.6"/>
<polygon points="240.4,75.5 238.9,78.1 241.8,78.1" fill="#a0662a"/>
<path d="M256.7 80.4V83.5M255.5 80.4h2.4M255.5 83.5h2.4" stroke="#a0662a" stroke-width="0.6"/>
<polygon points="256.7,80.4 255.2,83.0 258.2,83.0" fill="#a0662a"/>
<path d="M273.1 101.7V104.7M271.9 101.7h2.4M271.9 104.7h2.4" stroke="#a0662a" stroke-width="0.6"/>
<polygon points="273.1,101.6 271.6,104.2 274.5,104.2" fill="#a0662a"/>
<path d="M289.4 125.0V128.0M288.2 125.0h2.4M288.2 128.0h2.4" stroke="#a0662a" stroke-width="0.6"/>
<polygon points="289.4,124.9 287.9,127.5 290.9,127.5" fill="#a0662a"/>
<path d="M305.8 131.0V134.0M304.6 131.0h2.4M304.6 134.0h2.4" stroke="#a0662a" stroke-width="0.6"/>
<polygon points="305.8,130.9 304.3,133.5 307.3,133.5" fill="#a0662a"/>
<path d="M322.1 131.8V134.8M320.9 131.8h2.4M320.9 134.8h2.4" stroke="#a0662a" stroke-width="0.6"/>
<polygon points="322.1,131.8 320.7,134.3 323.6,134.3" fill="#a0662a"/>
<path d="M338.5 131.9V134.9M337.3 131.9h2.4M337.3 134.9h2.4" stroke="#a0662a" stroke-width="0.6"/>
<polygon points="338.5,131.9 337.0,134.4 340.0,134.4" fill="#a0662a"/>
<path d="M354.8 131.9V134.9M353.6 131.9h2.4M353.6 134.9h2.4" stroke="#a0662a" stroke-width="0.6"/>
<polygon points="354.8,131.9 353.4,134.5 356.3,134.5" fill="#a0662a"/>
<path d="M371.2 131.9V134.9M370.0 131.9h2.4M370.0 134.9h2.4" stroke="#a0662a" stroke-width="0.6"/>
<polygon points="371.2,131.9 369.7,134.5 372.7,134.5" fill="#a0662a"/>
<polyline points="240.4,74.8 241.3,74.8 242.2,74.8 243.2,74.8 244.1,74.8 245.0,74.8 246.0,74.8 246.9,74.8 247.8,74.8 248.8,74.8 249.7,74.8 250.6,74.8 251.6,74.9 252.5,74.9 253.5,74.9 254.4,74.9 255.3,74.9 256.3,74.9 257.2,74.9 258.1,75.0 259.1,75.0 260.0,75.0 260.9,75.1 261.9,75.1 262.8,75.2 263.8,75.2 264.7,75.3 265.6,75.3 266.6,75.4 267.5,75.5 268.4,75.6 269.4,75.7 270.3,75.9 271.2,76.0 272.2,76.2 273.1,76.4 274.0,76.7 275.0,76.9 275.9,77.2 276.9,77.6 277.8,77.9 278.7,78.4 279.7,78.9 280.6,79.4 281.5,80.0 282.5,80.7 283.4,81.4 284.3,82.3 285.3,83.2 286.2,84.2 287.2,85.3 288.1,86.5 289.0,87.7 290.0,89.1 290.9,90.5 291.8,92.0 292.8,93.5 293.7,95.1 294.6,96.8 295.6,98.4 296.5,100.1 297.4,101.8 298.4,103.4 299.3,105.0 300.3,106.5 301.2,107.9 302.1,109.3 303.1,110.6 304.0,111.9 304.9,113.0 305.9,114.0 306.8,115.0 307.7,115.9 308.7,116.7 309.6,117.4 310.6,118.0 311.5,118.6 312.4,119.1 313.4,119.6 314.3,120.0 315.2,120.3 316.2,120.6 317.1,120.9 318.0,121.2 319.0,121.4 319.9,121.6 320.8,121.8 321.8,121.9 322.7,122.0 323.7,122.1 324.6,122.2 325.5,122.3 326.5,122.4 327.4,122.5 328.3,122.5 329.3,122.6 330.2,122.6 331.1,122.7 332.1,122.7 333.0,122.7 334.0,122.7 334.9,122.8 335.8,122.8 336.8,122.8 337.7,122.8 338.6,122.8 339.6,122.8 340.5,122.9 341.4,122.9 342.4,122.9 343.3,122.9 344.2,122.9 345.2,122.9 346.1,122.9 347.1,122.9 348.0,122.9 348.9,122.9 349.9,122.9 350.8,122.9 351.7,122.9 352.7,122.9 353.6,122.9 354.5,122.9 355.5,122.9 356.4,122.9 357.4,122.9 358.3,122.9 359.2,122.9 360.2,122.9 361.1,122.9 362.0,122.9 363.0,122.9 363.9,122.9 364.8,122.9 365.8,122.9 366.7,122.9 367.6,122.9 368.6,122.9 369.5,122.9 370.5,122.9 371.4,122.9" fill="none" stroke="#c8c81e" stroke-width="1.0"/>
<path d="M240.4 73.3V76.3M239.2 73.3h2.4M239.2 76.3h2.4" stroke="#c8c81e" stroke-width="0.6"/>
<polygon points="240.4,73.2 238.9,75.8 241.8,75.8" fill="#c8c81e"/>
<path d="M256.7 73.4V76.4M255.5 73.4h2.4M255.5 76.4h2.4" stroke="#c8c81e" stroke-width="0.6"/>
<polygon points="256.7,73.4 255.2,76.0 258.2,76.0" fill="#c8c81e"/>
<path d="M273.1 74.9V77.9M271.9 74.9h2.4M271.9 77.9h2.4" stroke="#c8c81e" stroke-width="0.6"/>
<polygon points="273.1,74.8 271.6,77.4 274.5,77.4" fill="#c8c81e"/>
<path d="M289.4 86.8V89.8M288.2 86.8h2.4M288.2 89.8h2.4" stroke="#c8c81e" stroke-width="0.6"/>
<polygon points="289.4,86.7 287.9,89.3 290.9,89.3" fill="#c8c81e"/>
<path d="M305.8 112.4V115.4M304.6 112.4h2.4M304.6 115.4h2.4" stroke="#c8c81e" stroke-width="0.6"/>
<polygon points="305.8,112.4 304.3,114.9 307.3,114.9" fill="#c8c81e"/>
<path d="M322.1 120.4V123.5M320.9 120.4h2.4M320.9 123.5h2.4" stroke="#c8c81e" stroke-width="0.6"/>
<polygon points="322.1,120.4 320.7,123.0 323.6,123.0" fill="#c8c81e"/>
<path d="M338.5 121.3V124.3M337.3 121.3h2.4M337.3 124.3h2.4" stroke="#c8c81e" stroke-width="0.6"/>
<polygon points="338.5,121.3 337.0,123.8 340.0,123.8" fill="#c8c81e"/>
<path d="M354.8 121.4V124.4M353.6 121.4h2.4M353.6 124.4h2.4" stroke="#c8c81e" stroke-width="0.6"/>
<polygon points="354.8,121.3 353.4,123.9 356.3,123.9" fill="#c8c81e"/>
<path d="M371.2 121.4V124.4M370.0 121.4h2.4M370.0 124.4h2.4" stroke="#c8c81e" stroke-width="0.6"/>
<polygon points="371.2,121.4 369.7,123.9 372.7,123.9" fill="#c8c81e"/>
<polyline points="240.4,73.3 241.3,73.3 242.2,73.3 243.2,73.3 244.1,73.3 245.0,73.3 246.0,73.3 246.9,73.3 247.8,73.3 248.8,73.3 249.7,73.3 250.6,73.3 251.6,73.3 252.5,73.3 253.5,73.3 254.4,73.3 255.3,73.3 256.3,73.3 257.2,73.3 258.1,73.3 259.1,73.3 260.0,73.3 260.9,73.3 261.9,73.3 262.8,73.3 263.8,73.3 264.7,73.3 265.6,73.3 266.6,73.3 267.5,73.3 268.4,73.3 269.4,73.3 270.3,73.3 271.2,73.3 272.2,73.3 273.1,73.3 274.0,73.3 275.0,73.3 275.9,73.3 276.9,73.3 277.8,73.3 278.7,73.3 279.7,73.3 280.6,73.3 281.5,73.3 282.5,73.3 283.4,73.3 284.3,73.3 285.3,73.3 286.2,73.3 287.2,73.3 288.1,73.3 289.0,73.3 290.0,73.3 290.9,73.3 291.8,73.3 292.8,73.3 293.7,73.3 294.6,73.3 295.6,73.3 296.5,73.3 297.4,73.4 298.4,73.5 299.3,73.7 300.3,74.1 301.2,74.9 302.1,76.5 303.1,79.5 304.0,84.3 304.9,90.7 305.9,97.5 306.8,103.0 307.7,106.7 308.7,108.7 309.6,109.8 310.6,110.4 311.5,110.6 312.4,110.8 313.4,110.8 314.3,110.9 315.2,110.9 316.2,110.9 317.1,110.9 318.0,110.9 319.0,110.9 319.9,110.9 320.8,110.9 321.8,110.9 322.7,110.9 323.7,110.9 324.6,110.9 325.5,110.9 326.5,110.9 327.4,110.9 328.3,110.9 329.3,110.9 330.2,110.9 331.1,110.9 332.1,110.9 333.0,110.9 334.0,110.9 334.9,110.9 335.8,110.9 336.8,110.9 337.7,110.9 338.6,110.9 339.6,110.9 340.5,110.9 341.4,110.9 342.4,110.9 343.3,110.9 344.2,110.9 345.2,110.9 346.1,110.9 347.1,110.9 348.0,110.9 348.9,110.9 349.9,110.9 350.8,110.9 351.7,110.9 352.7,110.9 353.6,110.9 354.5,110.9 355.5,110.9 356.4,110.9 357.4,110.9 358.3,110.9 359.2,110.9 360.2,110.9 361.1,110.9 362.0,110.9 363.0,110.9 363.9,110.9 364.8,110.9 365.8,110.9 366.7,110.9 367.6,110.9 368.6,110.9 369.5,110.9 370.5,110.9 371.4,110.9" fill="none" stroke="#1ec88c" stroke-width="1.0"/>
<path d="M240.4 71.8V74.8M239.2 71.8h2.4M239.2 74.8h2.4" stroke="#1ec88c" stroke-width="0.6"/>
<rect x="239.18" y="72.11" width="2.34" height="2.34" fill="#1ec88c"/>
<path d="M256.7 71.8V74.8M255.5 71.8h2.4M255.5 74.8h2.4" stroke="#1ec88c" stroke-width="0.6"/>
<rect x="255.54" y="72.11" width="2.34" height="2.34" fill="#1ec88c"/>
<path d="M273.1 71.8V74.8M271.9 71.8h2.4M271.9 74.8h2.4" stroke="#1ec88c" stroke-width="0.6"/>
<rect x="271.89" y="72.11" width="2.34" height="2.34" fill="#1ec88c"/>
<path d="M289.4 71.8V74.8M288.2 71.8h2.4M288.2 74.8h2.4" stroke="#1ec88c" stroke-width="0.6"/>
<rect x="288.25" y="72.11" width="2.34" height="2.34" fill="#1ec88c"/>
<path d="M305.8 95.3V98.3M304.6 95.3h2.4M304.6 98.3h2.4" stroke="#1ec88c" stroke-width="0.6"/>
<rect x="304.61" y="95.66" width="2.34" height="2.34" fill="#1ec88c"/>
<path d="M322.1 109.4V112.4M320.9 109.4h2.4M320.9 112.4h2.4" stroke="#1ec88c" stroke-width="0.6"/>
<rect x="320.96" y="109.71" width="2.34" height="2.34" fill="#1ec88c"/>
<path d="M338.5 109.4V112.4M337.3 109.4h2.4M337.3 112.4h2.4" stroke="#1ec88c" stroke-width="0.6"/>
<rect x="337.32" y="109.71" width="2.34" height="2.34" fill="#1ec88c"/>
<path d="M354.8 109.4V112.4M353.6 109.4h2.4M353.6 112.4h2.4" stroke="#1ec88c" stroke-width="0.6"/>
<rect x="353.67" y="109.71" width="2.34" height="2.34" fill="#1ec88c"/>
<path d="M371.2 109.4V112.4M370.0 109.4h2.4M370.0 112.4h2.4" stroke="#1ec88c" stroke-width="0.6"/>
<rect x="370.03" y="109.71" width="2.34" height="2.34" fill="#1ec88c"/>
<polyline points="240.4,75.6 241.3,75.6 242.2,75.6 243.2,75.6 244.1,75.6 245.0,75.6 246.0,75.6 246.9,75.6 247.8,75.6 248.8,75.6 249.7,75.6 250.6,75.6 251.6,75.6 252.5,75.7 253.5,75.7 254.4,75.7 255.3,75.7 256.3,75.8 257.2,75.8 258.1,75.8 259.1,75.9 260.0,75.9 260.9,76.0 261.9,76.0 262.8,76.1 263.8,76.2 264.7,76.3 265.6,76.4 266.6,76.5 267.5,76.7 268.4,76.8 269.4,77.0 270.3,77.2 271.2,77.5 272.2,77.8 273.1,78.1 274.0,78.5 275.0,78.9 275.9,79.3 276.9,79.9 277.8,80.5 278.7,81.1 279.7,81.9 280.6,82.7 281.5,83.7 282.5,84.8 283.4,85.9 284.3,87.2 285.3,88.7 286.2,90.2 287.2,91.9 288.1,93.8 289.0,95.7 290.0,97.9 290.9,100.1 291.8,102.4 292.8,104.8 293.7,107.3 294.6,109.9 295.6,112.5 296.5,115.1 297.4,117.7 298.4,120.2 299.3,122.7 300.3,125.1 301.2,127.3 302.1,129.5 303.1,131.5 304.0,133.5 304.9,135.2 305.9,136.9 306.8,138.4 307.7,139.7 308.7,141.0 309.6,142.1 310.6,143.1 311.5,144.0 312.4,144.8 313.4,145.5 314.3,146.1 315.2,146.7 316.2,147.2 317.1,147.6 318.0,148.0 319.0,148.4 319.9,148.7 320.8,148.9 321.8,149.1 322.7,149.4 323.7,149.5 324.6,149.7 325.5,149.8 326.5,149.9 327.4,150.0 328.3,150.1 329.3,150.2 330.2,150.3 331.1,150.3 332.1,150.4 333.0,150.4 334.0,150.5 334.9,150.5 335.8,150.5 336.8,150.6 337.7,150.6 338.6,150.6 339.6,150.6 340.5,150.6 341.4,150.7 342.4,150.7 343.3,150.7 344.2,150.7 345.2,150.7 346.1,150.7 347.1,150.7 348.0,150.7 348.9,150.7 349.9,150.7 350.8,150.7 351.7,150.7 352.7,150.7 353.6,150.7 354.5,150.7 355.5,150.7 356.4,150.7 357.4,150.7 358.3,150.7 359.2,150.7 360.2,150.7 361.1,150.7 362.0,150.7 363.0,150.7 363.9,150.7 364.8,150.7 365.8,150.7 366.7,150.7 367.6,150.7 368.6,150.7 369.5,150.7 370.5,150.7 371.4,150.7" fill="none" stroke="#28a8c8" stroke-width="1.0"/>
<path d="M240.4 74.1V77.1M239.2 74.1h2.4M239.2 77.1h2.4" stroke="#28a8c8" stroke-width="0.6"/>
<polygon points="240.4,74.0 238.9,76.6 241.8,76.6" fill="#28a8c8"/>
<path d="M256.7 74.3V77.3M255.5 74.3h2.4M255.5 77.3h2.4" stroke="#28a8c8" stroke-width="0.6"/>
<polygon points="256.7,74.2 255.2,76.8 258.2,76.8" fill="#28a8c8"/>
<path d="M273.1 76.6V79.6M271.9 76.6h2.4M271.9 79.6h2.4" stroke="#28a8c8" stroke-width="0.6"/>
<polygon points="273.1,76.5 271.6,79.1 274.5,79.1" fill="#28a8c8"/>
<path d="M289.4 95.1V98.1M288.2 95.1h2.4M288.2 98.1h2.4" stroke="#28a8c8" stroke-width="0.6"/>
<polygon points="289.4,95.1 287.9,97.6 290.9,97.6" fill="#28a8c8"/>
<path d="M305.8 135.2V138.2M304.6 135.2h2.4M304.6 138.2h2.4" stroke="#28a8c8" stroke-width="0.6"/>
<polygon points="305.8,135.1 304.3,137.7 307.3,137.7" fill="#28a8c8"/>
<path d="M322.1 147.7V150.7M320.9 147.7h2.4M320.9 150.7h2.4" stroke="#28a8c8" stroke-width="0.6"/>
<polygon points="322.1,147.7 320.7,150.2 323.6,150.2" fill="#28a8c8"/>
<path d="M338.5 149.1V152.1M337.3 149.1h2.4M337.3 152.1h2.4" stroke="#28a8c8" stroke-width="0.6"/>
<polygon points="338.5,149.0 337.0,151.6 340.0,151.6" fill="#28a8c8"/>
<path d="M354.8 149.2V152.2M353.6 149.2h2.4M353.6 152.2h2.4" stroke="#28a8c8" stroke-width="0.6"/>
<polygon points="354.8,149.2 353.4,151.7 356.3,151.7" fill="#28a8c8"/>
<path d="M371.2 149.2V152.2M370.0 149.2h2.4M370.0 152.2h2.4" stroke="#28a8c8" stroke-width="0.6"/>
<polygon points="371.2,149.2 369.7,151.8 372.7,151.8" fill="#28a8c8"/>
<polyline points="240.4,75.2 241.3,75.2 242.2,75.2 243.2,75.3 244.1,75.3 245.0,75.4 246.0,75.4 246.9,75.5 247.8,75.5 248.8,75.6 249.7,75.7 250.6,75.7 251.6,75.8 252.5,75.9 253.5,76.0 254.4,76.1 255.3,76.2 256.3,76.3 257.2,76.5 258.1,76.6 259.1,76.8 260.0,76.9 260.9,77.1 261.9,77.3 262.8,77.5 263.8,77.7 264.7,78.0 265.6,78.2 266.6,78.5 267.5,78.8 268.4,79.1 269.4,79.5 270.3,79.8 271.2,80.2 272.2,80.7 273.1,81.1 274.0,81.6 275.0,82.1 275.9,82.6 276.9,83.2 277.8,83.8 278.7,84.4 279.7,85.1 280.6,85.8 281.5,86.6 282.5,87.3 283.4,88.1 284.3,89.0 285.3,89.9 286.2,90.8 287.2,91.7 288.1,92.7 289.0,93.7 290.0,94.7 290.9,95.8 291.8,96.8 292.8,97.9 293.7,99.0 294.6,100.1 295.6,101.2 296.5,102.3 297.4,103.4 298.4,104.5 299.3,105.6 300.3,106.7 301.2,107.7 302.1,108.8 303.1,109.8 304.0,110.8 304.9,111.7 305.9,112.7 306.8,113.5 307.7,114.4 308.7,115.2 309.6,116.0 310.6,116.8 311.5,117.5 312.4,118.2 313.4,118.9 314.3,119.5 315.2,120.1 316.2,120.6 317.1,121.1 318.0,121.6 319.0,122.1 319.9,122.5 320.8,122.9 321.8,123.3 322.7,123.7 323.7,124.0 324.6,124.3 325.5,124.6 326.5,124.9 327.4,125.1 328.3,125.3 329.3,125.6 330.2,125.8 331.1,125.9 332.1,126.1 333.0,126.3 334.0,126.4 334.9,126.6 335.8,126.7 336.8,126.8 337.7,126.9 338.6,127.0 339.6,127.1 340.5,127.2 341.4,127.3 342.4,127.3 343.3,127.4 344.2,127.5 345.2,127.5 346.1,127.6 347.1,127.6 348.0,127.7 348.9,127.7 349.9,127.7 350.8,127.8 351.7,127.8 352.7,127.8 353.6,127.9 354.5,127.9 355.5,127.9 356.4,127.9 357.4,128.0 358.3,128.0 359.2,128.0 360.2,128.0 361.1,128.0 362.0,128.0 363.0,128.0 363.9,128.1 364.8,128.1 365.8,128.1 366.7,128.1 367.6,128.1 368.6,128.1 369.5,128.1 370.5,128.1 371.4,128.1" fill="none" stroke="#1414ff" stroke-width="1.0"/>
<path d="M240.4 73.7V76.7M239.2 73.7h2.4M239.2 76.7h2.4" stroke="#1414ff" stroke-width="0.6"/>
<polygon points="240.4,73.6 238.9,76.2 241.8,76.2" fill="#1414ff"/>
<path d="M256.7 74.9V77.9M255.5 74.9h2.4M255.5 77.9h2.4" stroke="#1414ff" stroke-width="0.6"/>
<polygon points="256.7,74.9 255.2,77.4 258.2,77.4" fill="#1414ff"/>
<path d="M273.1 79.6V82.6M271.9 79.6h2.4M271.9 82.6h2.4" stroke="#1414ff" stroke-width="0.6"/>
<polygon points="273.1,79.5 271.6,82.1 274.5,82.1" fill="#1414ff"/>
<path d="M289.4 92.6V95.6M288.2 92.6h2.4M288.2 95.6h2.4" stroke="#1414ff" stroke-width="0.6"/>
<polygon points="289.4,92.6 287.9,95.1 290.9,95.1" fill="#1414ff"/>
<path d="M305.8 111.1V114.1M304.6 111.1h2.4M304.6 114.1h2.4" stroke="#1414ff" stroke-width="0.6"/>
<polygon points="305.8,111.0 304.3,113.6 307.3,113.6" fill="#1414ff"/>
<path d="M322.1 121.9V125.0M320.9 121.9h2.4M320.9 125.0h2.4" stroke="#1414ff" stroke-width="0.6"/>
<polygon points="322.1,121.9 320.7,124.5 323.6,124.5" fill="#1414ff"/>
<path d="M338.5 125.5V128.5M337.3 125.5h2.4M337.3 128.5h2.4" stroke="#1414ff" stroke-width="0.6"/>
<polygon points="338.5,125.4 337.0,128.0 340.0,128.0" fill="#1414ff"/>
<path d="M354.8 126.4V129.4M353.6 126.4h2.4M353.6 129.4h2.4" stroke="#1414ff" stroke-width="0.6"/>
<polygon points="354.8,126.3 353.4,128.9 356.3,128.9" fill="#1414ff"/>
<path d="M371.2 126.6V129.6M370.0 126.6h2.4M370.0 129.6h2.4" stroke="#1414ff" stroke-width="0.6"/>
<polygon points="371.2,126.6 369.7,129.1 372.7,129.1" fill="#1414ff"/>
<polyline points="240.4,75.5 241.3,75.5 242.2,75.5 243.2,75.5 244.1,75.5 245.0,75.5 246.0,75.5 246.9,75.5 247.8,75.5 248.8,75.5 249.7,75.5 250.6,75.5 251.6,75.5 252.5,75.5 253.5,75.5 254.4,75.5 255.3,75.5 256.3,75.5 257.2,75.5 258.1,75.5 259.1,75.5 260.0,75.5 260.9,75.5 261.9,75.5 262.8,75.5 263.8,75.5 264.7,75.5 265.6,75.5 266.6,75.5 267.5,75.5 268.4,75.5 269.4,75.5 270.3,75.5 271.2,75.5 272.2,75.5 273.1,75.5 274.0,75.5 275.0,75.5 275.9,75.5 276.9,75.5 277.8,75.5 278.7,75.5 279.7,75.5 280.6,75.5 281.5,75.5 282.5,75.5 283.4,75.5 284.3,75.5 285.3,75.5 286.2,75.5 287.2,75.5 288.1,75.5 289.0,75.5 290.0,75.5 290.9,75.5 291.8,75.5 292.8,75.5 293.7,75.5 294.6,75.5 295.6,75.5 296.5,75.5 297.4,75.5 298.4,75.5 299.3,75.5 300.3,75.5 301.2,75.5 302.1,75.5 303.1,75.5 304.0,75.5 304.9,75.5 305.9,75.5 306.8,75.5 307.7,75.5 308.7,75.5 309.6,75.5 310.6,75.5 311.5,75.5 312.4,75.5 313.4,75.5 314.3,75.5 315.2,75.5 316.2,75.5 317.1,75.5 318.0,75.5 319.0,75.5 319.9,75.5 320.8,75.5 321.8,75.5 322.7,75.5 323.7,75.5 324.6,75.5 325.5,75.5 326.5,75.5 327.4,75.5 328.3,75.5 329.3,75.5 330.2,75.5 331.1,75.5 332.1,75.5 333.0,75.5 334.0,75.5 334.9,75.5 335.8,75.5 336.8,75.5 337.7,75.5 338.6,75.5 339.6,75.5 340.5,75.5 341.4,75.5 342.4,75.5 343.3,75.5 344.2,75.5 345.2,75.5 346.1,75.5 347.1,75.5 348.0,75.5 348.9,75.5 349.9,75.5 350.8,75.5 351.7,75.5 352.7,75.5 353.6,75.5 354.5,75.5 355.5,75.5 356.4,75.5 357.4,75.5 358.3,75.5 359.2,75.5 360.2,75.5 361.1,75.5 362.0,75.5 363.0,75.5 363.9,75.5 364.8,75.5 365.8,75.5 366.7,75.5 367.6,75.5 368.6,75.5 369.5,75.5 370.5,75.5 371.4,75.5" fill="none" stroke="#f7a868" stroke-width="1.0"/>
<path d="M240.4 72.5V78.5M239.2 72.5h2.4M239.2 78.5h2.4" stroke="#f7a868" stroke-width="0.6"/>
<polygon points="240.4,74.0 238.9,76.6 241.8,76.6" fill="#f7a868"/>
<path d="M256.7 72.5V78.5M255.5 72.5h2.4M255.5 78.5h2.4" stroke="#f7a868" stroke-width="0.6"/>
<polygon points="256.7,74.0 255.2,76.6 258.2,76.6" fill="#f7a868"/>
<path d="M273.1 72.5V78.5M271.9 72.5h2.4M271.9 78.5h2.4" stroke="#f7a868" stroke-width="0.6"/>
<polygon points="273.1,74.0 271.6,76.6 274.5,76.6" fill="#f7a868"/>
<path d="M289.4 72.5V78.5M288.2 72.5h2.4M288.2 78.5h2.4" stroke="#f7a868" stroke-width="0.6"/>
<polygon points="289.4,74.0 287.9,76.6 290.9,76.6" fill="#f7a868"/>
<path d="M305.8 72.5V78.5M304.6 72.5h2.4M304.6 78.5h2.4" stroke="#f7a868" stroke-width="0.6"/>
<polygon points="305.8,74.0 304.3,76.6 307.3,76.6" fill="#f7a868"/>
<path d="M322.1 72.5V78.5M320.9 72.5h2.4M320.9 78.5h2.4" stroke="#f7a868" stroke-width="0.6"/>
<polygon points="322.1,74.0 320.7,76.6 323.6,76.6" fill="#f7a868"/>
<path d="M338.5 72.5V78.5M337.3 72.5h2.4M337.3 78.5h2.4" stroke="#f7a868" stroke-width="0.6"/>
<polygon points="338.5,74.0 337.0,76.6 340.0,76.6" fill="#f7a868"/>
<path d="M354.8 72.5V78.5M353.6 72.5h2.4M353.6 78.5h2.4" stroke="#f7a868" stroke-width="0.6"/>
<polygon points="354.8,74.0 353.4,76.6 356.3,76.6" fill="#f7a868"/>
<path d="M371.2 72.5V78.5M370.0 72.5h2.4M370.0 78.5h2.4" stroke="#f7a868" stroke-width="0.6"/>
<polygon points="371.2,74.0 369.7,76.6 372.7,76.6" fill="#f7a868"/>
<polyline points="240.4,75.8 241.3,75.8 242.2,75.8 243.2,75.8 244.1,75.9 245.0,75.9 246.0,76.0 246.9,76.0 247.8,76.1 248.8,76.1 249.7,76.2 250.6,76.3 251.6,76.4 252.5,76.5 253.5,76.6 254.4,76.7 255.3,76.8 256.3,77.0 257.2,77.1 258.1,77.3 259.1,77.5 260.0,77.7 260.9,78.0 261.9,78.2 262.8,78.5 263.8,78.8 264.7,79.2 265.6,79.6 266.6,80.0 267.5,80.5 268.4,81.0 269.4,81.6 270.3,82.2 271.2,82.9 272.2,83.6 273.1,84.4 274.0,85.3 275.0,86.2 275.9,87.2 276.9,88.2 277.8,89.3 278.7,90.5 279.7,91.7 280.6,93.0 281.5,94.3 282.5,95.7 283.4,97.1 284.3,98.5 285.3,100.0 286.2,101.5 287.2,103.0 288.1,104.5 289.0,106.0 290.0,107.4 290.9,108.9 291.8,110.3 292.8,111.6 293.7,112.9 294.6,114.2 295.6,115.4 296.5,116.5 297.4,117.6 298.4,118.6 299.3,119.5 300.3,120.4 301.2,121.2 302.1,122.0 303.1,122.7 304.0,123.3 304.9,123.9 305.9,124.5 306.8,125.0 307.7,125.4 308.7,125.8 309.6,126.2 310.6,126.6 311.5,126.9 312.4,127.1 313.4,127.4 314.3,127.6 315.2,127.8 316.2,128.0 317.1,128.2 318.0,128.3 319.0,128.5 319.9,128.6 320.8,128.7 321.8,128.8 322.7,128.9 323.7,129.0 324.6,129.1 325.5,129.1 326.5,129.2 327.4,129.2 328.3,129.3 329.3,129.3 330.2,129.4 331.1,129.4 332.1,129.4 333.0,129.5 334.0,129.5 334.9,129.5 335.8,129.5 336.8,129.5 337.7,129.5 338.6,129.6 339.6,129.6 340.5,129.6 341.4,129.6 342.4,129.6 343.3,129.6 344.2,129.6 345.2,129.6 346.1,129.6 347.1,129.6 348.0,129.6 348.9,129.6 349.9,129.7 350.8,129.7 351.7,129.7 352.7,129.7 353.6,129.7 354.5,129.7 355.5,129.7 356.4,129.7 357.4,129.7 358.3,129.7 359.2,129.7 360.2,129.7 361.1,129.7 362.0,129.7 363.0,129.7 363.9,129.7 364.8,129.7 365.8,129.7 366.7,129.7 367.6,129.7 368.6,129.7 369.5,129.7 370.5,129.7 371.4,129.7" fill="none" stroke="#7a20b4" stroke-width="1.0"/>
<path d="M240.4 74.3V77.3M239.2 74.3h2.4M239.2 77.3h2.4" stroke="#7a20b4" stroke-width="0.6"/>
<polygon points="240.4,77.3 238.9,74.7 241.8,74.7" fill="#7a20b4"/>
<path d="M256.7 75.5V78.5M255.5 75.5h2.4M255.5 78.5h2.4" stroke="#7a20b4" stroke-width="0.6"/>
<polygon points="256.7,78.6 255.2,76.0 258.2,76.0" fill="#7a20b4"/>
<path d="M273.1 82.9V85.9M271.9 82.9h2.4M271.9 85.9h2.4" stroke="#7a20b4" stroke-width="0.6"/>
<polygon points="273.1,85.9 271.6,83.4 274.5,83.4" fill="#7a20b4"/>
<path d="M289.4 105.1V108.1M288.2 105.1h2.4M288.2 108.1h2.4" stroke="#7a20b4" stroke-width="0.6"/>
<polygon points="289.4,108.2 287.9,105.6 290.9,105.6" fill="#7a20b4"/>
<path d="M305.8 122.9V125.9M304.6 122.9h2.4M304.6 125.9h2.4" stroke="#7a20b4" stroke-width="0.6"/>
<polygon points="305.8,126.0 304.3,123.4 307.3,123.4" fill="#7a20b4"/>
<path d="M322.1 127.3V130.4M320.9 127.3h2.4M320.9 130.4h2.4" stroke="#7a20b4" stroke-width="0.6"/>
<polygon points="322.1,130.4 320.7,127.8 323.6,127.8" fill="#7a20b4"/>
<path d="M338.5 128.1V131.1M337.3 128.1h2.4M337.3 131.1h2.4" stroke="#7a20b4" stroke-width="0.6"/>
<polygon points="338.5,131.1 337.0,128.5 340.0,128.5" fill="#7a20b4"/>
<path d="M354.8 128.2V131.2M353.6 128.2h2.4M353.6 131.2h2.4" stroke="#7a20b4" stroke-width="0.6"/>
<polygon points="354.8,131.2 353.4,128.7 356.3,128.7" fill="#7a20b4"/>
<path d="M371.2 128.2V131.2M370.0 128.2h2.4M370.0 131.2h2.4" stroke="#7a20b4" stroke-width="0.6"/>
<polygon points="371.2,131.2 369.7,128.7 372.7,128.7" fill="#7a20b4"/>
<polyline points="240.4,78.1 241.3,78.2 242.2,78.3 243.2,78.4 244.1,78.5 245.0,78.6 246.0,78.7 246.9,78.8 247.8,78.9 248.8,79.1 249.7,79.2 250.6,79.4 251.6,79.6 252.5,79.7 253.5,79.9 254.4,80.2 255.3,80.4 256.3,80.6 257.2,80.9 258.1,81.1 259.1,81.4 260.0,81.7 260.9,82.0 261.9,82.4 262.8,82.7 263.8,83.1 264.7,83.5 265.6,84.0 266.6,84.4 267.5,84.9 268.4,85.4 269.4,85.9 270.3,86.4 271.2,87.0 272.2,87.6 273.1,88.3 274.0,88.9 275.0,89.6 275.9,90.3 276.9,91.0 277.8,91.8 278.7,92.5 279.7,93.3 280.6,94.1 281.5,95.0 282.5,95.8 283.4,96.7 284.3,97.6 285.3,98.5 286.2,99.4 287.2,100.3 288.1,101.2 289.0,102.1 290.0,103.0 290.9,103.9 291.8,104.8 292.8,105.7 293.7,106.6 294.6,107.5 295.6,108.4 296.5,109.2 297.4,110.0 298.4,110.8 299.3,111.6 300.3,112.4 301.2,113.1 302.1,113.8 303.1,114.5 304.0,115.2 304.9,115.8 305.9,116.4 306.8,117.0 307.7,117.6 308.7,118.1 309.6,118.6 310.6,119.1 311.5,119.6 312.4,120.0 313.4,120.4 314.3,120.8 315.2,121.2 316.2,121.5 317.1,121.9 318.0,122.2 319.0,122.5 319.9,122.7 320.8,123.0 321.8,123.2 322.7,123.5 323.7,123.7 324.6,123.9 325.5,124.1 326.5,124.2 327.4,124.4 328.3,124.6 329.3,124.7 330.2,124.8 331.1,125.0 332.1,125.1 333.0,125.2 334.0,125.3 334.9,125.4 335.8,125.5 336.8,125.6 337.7,125.6 338.6,125.7 339.6,125.8 340.5,125.8 341.4,125.9 342.4,126.0 343.3,126.0 344.2,126.1 345.2,126.1 346.1,126.1 347.1,126.2 348.0,126.2 348.9,126.2 349.9,126.3 350.8,126.3 351.7,126.3 352.7,126.4 353.6,126.4 354.5,126.4 355.5,126.4 356.4,126.4 357.4,126.5 358.3,126.5 359.2,126.5 360.2,126.5 361.1,126.5 362.0,126.5 363.0,126.5 363.9,126.5 364.8,126.6 365.8,126.6 366.7,126.6 367.6,126.6 368.6,126.6 369.5,126.6 370.5,126.6 371.4,126.6" fill="none" stroke="#f88080" stroke-width="1.0"/>
<path d="M240.4 76.6V79.6M239.2 76.6h2.4M239.2 79.6h2.4" stroke="#f88080" stroke-width="0.6"/>
<polygon points="240.4,76.6 238.9,79.1 241.8,79.1" fill="#f88080"/>
<path d="M256.7 79.2V82.2M255.5 79.2h2.4M255.5 82.2h2.4" stroke="#f88080" stroke-width="0.6"/>
<polygon points="256.7,79.2 255.2,81.7 258.2,81.7" fill="#f88080"/>
<path d="M273.1 86.7V89.7M271.9 86.7h2.4M271.9 89.7h2.4" stroke="#f88080" stroke-width="0.6"/>
<polygon points="273.1,86.7 271.6,89.2 274.5,89.2" fill="#f88080"/>
<path d="M289.4 101.0V104.0M288.2 101.0h2.4M288.2 104.0h2.4" stroke="#f88080" stroke-width="0.6"/>
<polygon points="289.4,100.9 287.9,103.5 290.9,103.5" fill="#f88080"/>
<path d="M305.8 114.9V117.9M304.6 114.9h2.4M304.6 117.9h2.4" stroke="#f88080" stroke-width="0.6"/>
<polygon points="305.8,114.8 304.3,117.4 307.3,117.4" fill="#f88080"/>
<path d="M322.1 121.8V124.8M320.9 121.8h2.4M320.9 124.8h2.4" stroke="#f88080" stroke-width="0.6"/>
<polygon points="322.1,121.8 320.7,124.3 323.6,124.3" fill="#f88080"/>
<path d="M338.5 124.2V127.2M337.3 124.2h2.4M337.3 127.2h2.4" stroke="#f88080" stroke-width="0.6"/>
<polygon points="338.5,124.1 337.0,126.7 340.0,126.7" fill="#f88080"/>
<path d="M354.8 124.9V127.9M353.6 124.9h2.4M353.6 127.9h2.4" stroke="#f88080" stroke-width="0.6"/>
<polygon points="354.8,124.8 353.4,127.4 356.3,127.4" fill="#f88080"/>
<path d="M371.2 125.1V128.1M370.0 125.1h2.4M370.0 128.1h2.4" stroke="#f88080" stroke-width="0.6"/>
<polygon points="371.2,125.0 369.7,127.6 372.7,127.6" fill="#f88080"/>
<polyline points="240.4,75.5 241.3,75.5 242.2,75.5 243.2,75.5 244.1,75.5 245.0,75.5 246.0,75.5 246.9,75.5 247.8,75.5 248.8,75.5 249.7,75.6 250.6,75.6 251.6,75.6 252.5,75.6 253.5,75.6 254.4,75.6 255.3,75.6 256.3,75.6 257.2,75.6 258.1,75.6 259.1,75.6 260.0,75.7 260.9,75.7 261.9,75.7 262.8,75.8 263.8,75.9 264.7,75.9 265.6,76.1 266.6,76.2 267.5,76.4 268.4,76.6 269.4,76.8 270.3,77.1 271.2,77.5 272.2,78.0 273.1,78.7 274.0,79.4 275.0,80.4 275.9,81.5 276.9,82.9 277.8,84.5 278.7,86.5 279.7,88.8 280.6,91.5 281.5,94.5 282.5,97.9 283.4,101.5 284.3,105.4 285.3,109.4 286.2,113.5 287.2,117.5 288.1,121.3 289.0,124.9 290.0,128.2 290.9,131.1 291.8,133.6 292.8,135.9 293.7,137.7 294.6,139.3 295.6,140.6 296.5,141.7 297.4,142.6 298.4,143.3 299.3,143.9 300.3,144.4 301.2,144.7 302.1,145.0 303.1,145.3 304.0,145.5 304.9,145.6 305.9,145.7 306.8,145.8 307.7,145.9 308.7,146.0 309.6,146.0 310.6,146.1 311.5,146.1 312.4,146.1 313.4,146.2 314.3,146.2 315.2,146.2 316.2,146.2 317.1,146.2 318.0,146.2 319.0,146.2 319.9,146.2 320.8,146.2 321.8,146.2 322.7,146.2 323.7,146.2 324.6,146.2 325.5,146.2 326.5,146.2 327.4,146.2 328.3,146.2 329.3,146.2 330.2,146.2 331.1,146.2 332.1,146.2 333.0,146.2 334.0,146.2 334.9,146.2 335.8,146.2 336.8,146.2 337.7,146.2 338.6,146.2 339.6,146.2 340.5,146.2 341.4,146.2 342.4,146.2 343.3,146.2 344.2,146.2 345.2,146.2 346.1,146.2 347.1,146.2 348.0,146.2 348.9,146.2 349.9,146.2 350.8,146.2 351.7,146.2 352.7,146.2 353.6,146.2 354.5,146.2 355.5,146.2 356.4,146.2 357.4,146.2 358.3,146.2 359.2,146.2 360.2,146.2 361.1,146.2 362.0,146.2 363.0,146.2 363.9,146.2 364.8,146.2 365.8,146.2 366.7,146.2 367.6,146.2 368.6,146.2 369.5,146.2 370.5,146.2 371.4,146.2" fill="none" stroke="#b01818" stroke-width="1.0"/>
<path d="M240.4 74.0V77.0M239.2 74.0h2.4M239.2 77.0h2.4" stroke="#b01818" stroke-width="0.6"/>
<polygon points="240.4,74.0 238.9,76.6 241.8,76.6" fill="#b01818"/>
<path d="M256.7 74.1V77.1M255.5 74.1h2.4M255.5 77.1h2.4" stroke="#b01818" stroke-width="0.6"/>
<polygon points="256.7,74.0 255.2,76.6 258.2,76.6" fill="#b01818"/>
<path d="M273.1 77.1V80.1M271.9 77.1h2.4M271.9 80.1h2.4" stroke="#b01818" stroke-width="0.6"/>
<polygon points="273.1,77.1 271.6,79.6 274.5,79.6" fill="#b01818"/>
<path d="M289.4 124.8V127.8M288.2 124.8h2.4M288.2 127.8h2.4" stroke="#b01818" stroke-width="0.6"/>
<polygon points="289.4,124.8 287.9,127.3 290.9,127.3" fill="#b01818"/>
<path d="M305.8 144.2V147.2M304.6 144.2h2.4M304.6 147.2h2.4" stroke="#b01818" stroke-width="0.6"/>
<polygon points="305.8,144.2 304.3,146.7 307.3,146.7" fill="#b01818"/>
<path d="M322.1 144.7V147.7M320.9 144.7h2.4M320.9 147.7h2.4" stroke="#b01818" stroke-width="0.6"/>
<polygon points="322.1,144.7 320.7,147.2 323.6,147.2" fill="#b01818"/>
<path d="M338.5 144.7V147.7M337.3 144.7h2.4M337.3 147.7h2.4" stroke="#b01818" stroke-width="0.6"/>
<polygon points="338.5,144.7 337.0,147.2 340.0,147.2" fill="#b01818"/>
<path d="M354.8 144.7V147.7M353.6 144.7h2.4M353.6 147.7h2.4" stroke="#b01818" stroke-width="0.6"/>
<polygon points="354.8,144.7 353.4,147.2 356.3,147.2" fill="#b01818"/>
<path d="M371.2 144.7V147.7M370.0 144.7h2.4M370.0 147.7h2.4" stroke="#b01818" stroke-width="0.6"/>
<polygon points="371.2,144.7 369.7,147.2 372.7,147.2" fill="#b01818"/>
<polyline points="240.4,76.4 241.3,76.4 242.2,76.4 243.2,76.5 244.1,76.5 245.0,76.5 246.0,76.5 246.9,76.6 247.8,76.6 248.8,76.6 249.7,76.7 250.6,76.7 251.6,76.8 252.5,76.8 253.5,76.9 254.4,76.9 255.3,77.0 256.3,77.1 257.2,77.2 258.1,77.3 259.1,77.4 260.0,77.5 260.9,77.7 261.9,77.8 262.8,78.0 263.8,78.2 264.7,78.4 265.6,78.6 266.6,78.9 267.5,79.2 268.4,79.5 269.4,79.8 270.3,80.2 271.2,80.6 272.2,81.1 273.1,81.6 274.0,82.1 275.0,82.7 275.9,83.4 276.9,84.1 277.8,84.8 278.7,85.7 279.7,86.5 280.6,87.5 281.5,88.5 282.5,89.6 283.4,90.7 284.3,91.9 285.3,93.1 286.2,94.4 287.2,95.7 288.1,97.1 289.0,98.5 290.0,99.9 290.9,101.4 291.8,102.8 292.8,104.3 293.7,105.7 294.6,107.2 295.6,108.6 296.5,109.9 297.4,111.2 298.4,112.5 299.3,113.7 300.3,114.9 301.2,116.0 302.1,117.1 303.1,118.0 304.0,119.0 304.9,119.8 305.9,120.6 306.8,121.4 307.7,122.1 308.7,122.7 309.6,123.3 310.6,123.8 311.5,124.3 312.4,124.7 313.4,125.2 314.3,125.5 315.2,125.9 316.2,126.2 317.1,126.4 318.0,126.7 319.0,126.9 319.9,127.1 320.8,127.3 321.8,127.5 322.7,127.6 323.7,127.8 324.6,127.9 325.5,128.0 326.5,128.1 327.4,128.2 328.3,128.2 329.3,128.3 330.2,128.4 331.1,128.4 332.1,128.5 333.0,128.5 334.0,128.6 334.9,128.6 335.8,128.6 336.8,128.7 337.7,128.7 338.6,128.7 339.6,128.7 340.5,128.8 341.4,128.8 342.4,128.8 343.3,128.8 344.2,128.8 345.2,128.8 346.1,128.8 347.1,128.9 348.0,128.9 348.9,128.9 349.9,128.9 350.8,128.9 351.7,128.9 352.7,128.9 353.6,128.9 354.5,128.9 355.5,128.9 356.4,128.9 357.4,128.9 358.3,128.9 359.2,128.9 360.2,128.9 361.1,128.9 362.0,128.9 363.0,128.9 363.9,128.9 364.8,128.9 365.8,128.9 366.7,128.9 367.6,128.9 368.6,128.9 369.5,128.9 370.5,128.9 371.4,128.9" fill="none" stroke="#ff1aa0" stroke-width="1.0"/>
<path d="M240.4 71.2V81.7M239.2 71.2h2.4M239.2 81.7h2.4" stroke="#ff1aa0" stroke-width="0.6"/>
<polygon points="240.4,74.9 238.9,77.4 241.8,77.4" fill="#ff1aa0"/>
<path d="M256.7 71.9V82.4M255.5 71.9h2.4M255.5 82.4h2.4" stroke="#ff1aa0" stroke-width="0.6"/>
<polygon points="256.7,75.6 255.2,78.1 258.2,78.1" fill="#ff1aa0"/>
<path d="M273.1 76.3V86.8M271.9 76.3h2.4M271.9 86.8h2.4" stroke="#ff1aa0" stroke-width="0.6"/>
<polygon points="273.1,80.0 271.6,82.6 274.5,82.6" fill="#ff1aa0"/>
<path d="M289.4 93.8V104.4M288.2 93.8h2.4M288.2 104.4h2.4" stroke="#ff1aa0" stroke-width="0.6"/>
<polygon points="289.4,97.5 287.9,100.1 290.9,100.1" fill="#ff1aa0"/>
<path d="M305.8 115.3V125.8M304.6 115.3h2.4M304.6 125.8h2.4" stroke="#ff1aa0" stroke-width="0.6"/>
<polygon points="305.8,119.0 304.3,121.6 307.3,121.6" fill="#ff1aa0"/>
<path d="M322.1 122.3V132.8M320.9 122.3h2.4M320.9 132.8h2.4" stroke="#ff1aa0" stroke-width="0.6"/>
<polygon points="322.1,126.0 320.7,128.5 323.6,128.5" fill="#ff1aa0"/>
<path d="M338.5 123.5V134.0M337.3 123.5h2.4M337.3 134.0h2.4" stroke="#ff1aa0" stroke-width="0.6"/>
<polygon points="338.5,127.2 337.0,129.7 340.0,129.7" fill="#ff1aa0"/>
<path d="M354.8 123.6V134.2M353.6 123.6h2.4M353.6 134.2h2.4" stroke="#ff1aa0" stroke-width="0.6"/>
<polygon points="354.8,127.3 353.4,129.9 356.3,129.9" fill="#ff1aa0"/>
<path d="M371.2 123.7V134.2M370.0 123.7h2.4M370.0 134.2h2.4" stroke="#ff1aa0" stroke-width="0.6"/>
<polygon points="371.2,127.4 369.7,129.9 372.7,129.9" fill="#ff1aa0"/>
<polyline points="240.4,81.3 241.3,81.5 242.2,81.6 243.2,81.7 244.1,81.8 245.0,82.0 246.0,82.1 246.9,82.2 247.8,82.4 248.8,82.6 249.7,82.7 250.6,82.9 251.6,83.1 252.5,83.3 253.5,83.5 254.4,83.7 255.3,84.0 256.3,84.2 257.2,84.5 258.1,84.7 259.1,85.0 260.0,85.3 260.9,85.6 261.9,85.9 262.8,86.2 263.8,86.6 264.7,86.9 265.6,87.3 266.6,87.6 267.5,88.0 268.4,88.4 269.4,88.9 270.3,89.3 271.2,89.7 272.2,90.2 273.1,90.7 274.0,91.2 275.0,91.7 275.9,92.2 276.9,92.8 277.8,93.3 278.7,93.9 279.7,94.5 280.6,95.0 281.5,95.6 282.5,96.3 283.4,96.9 284.3,97.5 285.3,98.2 286.2,98.8 287.2,99.5 288.1,100.2 289.0,100.9 290.0,101.5 290.9,102.2 291.8,102.9 292.8,103.6 293.7,104.3 294.6,105.0 295.6,105.7 296.5,106.4 297.4,107.1 298.4,107.8 299.3,108.4 300.3,109.1 301.2,109.8 302.1,110.5 303.1,111.1 304.0,111.8 304.9,112.4 305.9,113.0 306.8,113.6 307.7,114.2 308.7,114.8 309.6,115.4 310.6,115.9 311.5,116.5 312.4,117.0 313.4,117.5 314.3,118.0 315.2,118.5 316.2,119.0 317.1,119.4 318.0,119.9 319.0,120.3 319.9,120.7 320.8,121.1 321.8,121.5 322.7,121.9 323.7,122.2 324.6,122.6 325.5,122.9 326.5,123.2 327.4,123.5 328.3,123.8 329.3,124.1 330.2,124.4 331.1,124.6 332.1,124.9 333.0,125.1 334.0,125.3 334.9,125.6 335.8,125.8 336.8,126.0 337.7,126.1 338.6,126.3 339.6,126.5 340.5,126.7 341.4,126.8 342.4,127.0 343.3,127.1 344.2,127.2 345.2,127.3 346.1,127.5 347.1,127.6 348.0,127.7 348.9,127.8 349.9,127.9 350.8,128.0 351.7,128.1 352.7,128.2 353.6,128.2 354.5,128.3 355.5,128.4 356.4,128.5 357.4,128.5 358.3,128.6 359.2,128.6 360.2,128.7 361.1,128.7 362.0,128.8 363.0,128.8 363.9,128.9 364.8,128.9 365.8,129.0 366.7,129.0 367.6,129.0 368.6,129.1 369.5,129.1 370.5,129.1 371.4,129.2" fill="none" stroke="#d81a6c" stroke-width="1.0"/>
<path d="M240.4 78.3V84.3M239.2 78.3h2.4M239.2 84.3h2.4" stroke="#d81a6c" stroke-width="0.6"/>
<rect x="239.18" y="80.17" width="2.34" height="2.34" fill="#d81a6c"/>
<path d="M256.7 81.3V87.3M255.5 81.3h2.4M255.5 87.3h2.4" stroke="#d81a6c" stroke-width="0.6"/>
<rect x="255.54" y="83.16" width="2.34" height="2.34" fill="#d81a6c"/>
<path d="M273.1 87.7V93.7M271.9 87.7h2.4M271.9 93.7h2.4" stroke="#d81a6c" stroke-width="0.6"/>
<rect x="271.89" y="89.50" width="2.34" height="2.34" fill="#d81a6c"/>
<path d="M289.4 98.1V104.1M288.2 98.1h2.4M288.2 104.1h2.4" stroke="#d81a6c" stroke-width="0.6"/>
<rect x="288.25" y="99.97" width="2.34" height="2.34" fill="#d81a6c"/>
<path d="M305.8 109.9V116.0M304.6 109.9h2.4M304.6 116.0h2.4" stroke="#d81a6c" stroke-width="0.6"/>
<rect x="304.61" y="111.77" width="2.34" height="2.34" fill="#d81a6c"/>
<path d="M322.1 118.7V124.7M320.9 118.7h2.4M320.9 124.7h2.4" stroke="#d81a6c" stroke-width="0.6"/>
<rect x="320.96" y="120.49" width="2.34" height="2.34" fill="#d81a6c"/>
<path d="M338.5 123.3V129.3M337.3 123.3h2.4M337.3 129.3h2.4" stroke="#d81a6c" stroke-width="0.6"/>
<rect x="337.32" y="125.12" width="2.34" height="2.34" fill="#d81a6c"/>
<path d="M354.8 125.3V131.3M353.6 125.3h2.4M353.6 131.3h2.4" stroke="#d81a6c" stroke-width="0.6"/>
<rect x="353.67" y="127.17" width="2.34" height="2.34" fill="#d81a6c"/>
<path d="M371.2 126.2V132.2M370.0 126.2h2.4M370.0 132.2h2.4" stroke="#d81a6c" stroke-width="0.6"/>
<rect x="370.03" y="127.99" width="2.34" height="2.34" fill="#d81a6c"/>
<polyline points="240.4,76.3 241.3,76.3 242.2,76.3 243.2,76.3 244.1,76.4 245.0,76.4 246.0,76.4 246.9,76.4 247.8,76.4 248.8,76.4 249.7,76.4 250.6,76.4 251.6,76.5 252.5,76.5 253.5,76.5 254.4,76.5 255.3,76.6 256.3,76.6 257.2,76.6 258.1,76.7 259.1,76.7 260.0,76.8 260.9,76.8 261.9,76.9 262.8,77.0 263.8,77.1 264.7,77.2 265.6,77.3 266.6,77.4 267.5,77.5 268.4,77.7 269.4,77.9 270.3,78.1 271.2,78.3 272.2,78.5 273.1,78.8 274.0,79.1 275.0,79.5 275.9,79.8 276.9,80.3 277.8,80.7 278.7,81.3 279.7,81.8 280.6,82.5 281.5,83.2 282.5,84.0 283.4,84.8 284.3,85.8 285.3,86.8 286.2,87.9 287.2,89.1 288.1,90.4 289.0,91.8 290.0,93.3 290.9,94.9 291.8,96.5 292.8,98.3 293.7,100.1 294.6,102.0 295.6,104.0 296.5,106.0 297.4,108.1 298.4,110.1 299.3,112.2 300.3,114.2 301.2,116.3 302.1,118.3 303.1,120.2 304.0,122.1 304.9,123.9 305.9,125.7 306.8,127.3 307.7,128.9 308.7,130.3 309.6,131.7 310.6,133.0 311.5,134.2 312.4,135.2 313.4,136.2 314.3,137.2 315.2,138.0 316.2,138.8 317.1,139.5 318.0,140.1 319.0,140.6 319.9,141.2 320.8,141.6 321.8,142.0 322.7,142.4 323.7,142.7 324.6,143.0 325.5,143.3 326.5,143.5 327.4,143.8 328.3,143.9 329.3,144.1 330.2,144.3 331.1,144.4 332.1,144.5 333.0,144.6 334.0,144.7 334.9,144.8 335.8,144.9 336.8,144.9 337.7,145.0 338.6,145.1 339.6,145.1 340.5,145.1 341.4,145.2 342.4,145.2 343.3,145.2 344.2,145.3 345.2,145.3 346.1,145.3 347.1,145.3 348.0,145.3 348.9,145.4 349.9,145.4 350.8,145.4 351.7,145.4 352.7,145.4 353.6,145.4 354.5,145.4 355.5,145.4 356.4,145.4 357.4,145.4 358.3,145.4 359.2,145.4 360.2,145.4 361.1,145.5 362.0,145.5 363.0,145.5 363.9,145.5 364.8,145.5 365.8,145.5 366.7,145.5 367.6,145.5 368.6,145.5 369.5,145.5 370.5,145.5 371.4,145.5" fill="none" stroke="#1a6b1a" stroke-width="1.0"/>
<path d="M240.4 74.8V77.8M239.2 74.8h2.4M239.2 77.8h2.4" stroke="#1a6b1a" stroke-width="0.6"/>
<polygon points="240.4,74.8 238.9,77.3 241.8,77.3" fill="#1a6b1a"/>
<path d="M256.7 75.1V78.1M255.5 75.1h2.4M255.5 78.1h2.4" stroke="#1a6b1a" stroke-width="0.6"/>
<polygon points="256.7,75.1 255.2,77.6 258.2,77.6" fill="#1a6b1a"/>
<path d="M273.1 77.3V80.3M271.9 77.3h2.4M271.9 80.3h2.4" stroke="#1a6b1a" stroke-width="0.6"/>
<polygon points="273.1,77.2 271.6,79.8 274.5,79.8" fill="#1a6b1a"/>
<path d="M289.4 90.9V93.9M288.2 90.9h2.4M288.2 93.9h2.4" stroke="#1a6b1a" stroke-width="0.6"/>
<polygon points="289.4,90.9 287.9,93.4 290.9,93.4" fill="#1a6b1a"/>
<path d="M305.8 124.0V127.0M304.6 124.0h2.4M304.6 127.0h2.4" stroke="#1a6b1a" stroke-width="0.6"/>
<polygon points="305.8,123.9 304.3,126.5 307.3,126.5" fill="#1a6b1a"/>
<path d="M322.1 140.7V143.7M320.9 140.7h2.4M320.9 143.7h2.4" stroke="#1a6b1a" stroke-width="0.6"/>
<polygon points="322.1,140.6 320.7,143.2 323.6,143.2" fill="#1a6b1a"/>
<path d="M338.5 143.5V146.6M337.3 143.5h2.4M337.3 146.6h2.4" stroke="#1a6b1a" stroke-width="0.6"/>
<polygon points="338.5,143.5 337.0,146.1 340.0,146.1" fill="#1a6b1a"/>
<path d="M354.8 143.9V146.9M353.6 143.9h2.4M353.6 146.9h2.4" stroke="#1a6b1a" stroke-width="0.6"/>
<polygon points="354.8,143.9 353.4,146.4 356.3,146.4" fill="#1a6b1a"/>
<path d="M371.2 144.0V147.0M370.0 144.0h2.4M370.0 147.0h2.4" stroke="#1a6b1a" stroke-width="0.6"/>
<polygon points="371.2,143.9 369.7,146.5 372.7,146.5" fill="#1a6b1a"/>
<line x1="231.0" y1="48.7" x2="231.0" y2="155.0" stroke="#2a2a2a" stroke-width="1.15"/>
<line x1="230.5" y1="154.5" x2="371.4" y2="154.5" stroke="#1a1a1a" stroke-width="1.1"/>
<line x1="228.6" y1="154.5" x2="231.0" y2="154.5" stroke="#2a2a2a" stroke-width="1.0"/>
<text transform="translate(224.80,157.00) scale(1,1.07)" font-size="7.2" text-anchor="end" fill="#000" stroke="#000">0</text>
<line x1="228.6" y1="139.5" x2="231.0" y2="139.5" stroke="#2a2a2a" stroke-width="1.0"/>
<text transform="translate(224.80,141.96) scale(1,1.07)" font-size="7.2" text-anchor="end" fill="#000" stroke="#000">20</text>
<line x1="228.6" y1="124.4" x2="231.0" y2="124.4" stroke="#2a2a2a" stroke-width="1.0"/>
<text transform="translate(224.80,126.92) scale(1,1.07)" font-size="7.2" text-anchor="end" fill="#000" stroke="#000">40</text>
<line x1="228.6" y1="109.4" x2="231.0" y2="109.4" stroke="#2a2a2a" stroke-width="1.0"/>
<text transform="translate(224.80,111.88) scale(1,1.07)" font-size="7.2" text-anchor="end" fill="#000" stroke="#000">60</text>
<line x1="228.6" y1="94.3" x2="231.0" y2="94.3" stroke="#2a2a2a" stroke-width="1.0"/>
<text transform="translate(224.80,96.84) scale(1,1.07)" font-size="7.2" text-anchor="end" fill="#000" stroke="#000">80</text>
<line x1="228.6" y1="79.3" x2="231.0" y2="79.3" stroke="#2a2a2a" stroke-width="1.0"/>
<text transform="translate(224.80,81.80) scale(1,1.07)" font-size="7.2" text-anchor="end" fill="#000" stroke="#000">100</text>
<line x1="228.6" y1="64.3" x2="231.0" y2="64.3" stroke="#2a2a2a" stroke-width="1.0"/>
<text transform="translate(224.80,66.76) scale(1,1.07)" font-size="7.2" text-anchor="end" fill="#000" stroke="#000">120</text>
<line x1="228.6" y1="49.2" x2="231.0" y2="49.2" stroke="#2a2a2a" stroke-width="1.0"/>
<text transform="translate(224.80,51.72) scale(1,1.07)" font-size="7.2" text-anchor="end" fill="#000" stroke="#000">140</text>
<line x1="230.8" y1="154.5" x2="230.8" y2="156.9" stroke="#1a1a1a" stroke-width="1.0"/>
<line x1="254.2" y1="154.5" x2="254.2" y2="156.9" stroke="#1a1a1a" stroke-width="1.0"/>
<line x1="277.6" y1="154.5" x2="277.6" y2="156.9" stroke="#1a1a1a" stroke-width="1.0"/>
<line x1="301.0" y1="154.5" x2="301.0" y2="156.9" stroke="#1a1a1a" stroke-width="1.0"/>
<line x1="324.4" y1="154.5" x2="324.4" y2="156.9" stroke="#1a1a1a" stroke-width="1.0"/>
<line x1="347.8" y1="154.5" x2="347.8" y2="156.9" stroke="#1a1a1a" stroke-width="1.0"/>
<line x1="371.2" y1="154.5" x2="371.2" y2="156.9" stroke="#1a1a1a" stroke-width="1.0"/>
<text transform="translate(230.80,166.00) scale(1,1.07)" font-size="7.3" text-anchor="middle" fill="#000" stroke="#000">0.01</text>
<text transform="translate(254.20,166.00) scale(1,1.07)" font-size="7.3" text-anchor="middle" fill="#000" stroke="#000">0.1</text>
<text transform="translate(277.60,166.00) scale(1,1.07)" font-size="7.3" text-anchor="middle" fill="#000" stroke="#000">1</text>
<text transform="translate(301.00,166.00) scale(1,1.07)" font-size="7.3" text-anchor="middle" fill="#000" stroke="#000">10</text>
<text transform="translate(324.40,166.00) scale(1,1.07)" font-size="7.3" text-anchor="middle" fill="#000" stroke="#000">100</text>
<text transform="translate(347.80,166.00) scale(1,1.07)" font-size="7.3" text-anchor="middle" fill="#000" stroke="#000">1,000</text>
<text transform="translate(371.20,166.00) scale(1,1.07)" font-size="7.3" text-anchor="middle" fill="#000" stroke="#000">10,000</text>
<text transform="translate(205.80,102.00) rotate(-90) scale(1,1.07)" font-size="7.75" text-anchor="middle" fill="#000" stroke="#000">% of surviving cells</text>
<text transform="translate(301.00,178.60) scale(1,1.07)" font-size="7.75" text-anchor="middle" fill="#000" stroke="#000">Compound concentration (nmol/L)</text>
<text transform="translate(385.00,28.90) scale(1,1.07)" font-size="7.8" text-anchor="start" fill="#000" stroke="#000" font-style="italic">KRAS G12C mutant</text>
<text transform="translate(462.80,28.90) scale(1,1.07)" font-size="7.6" text-anchor="start" fill="#000" stroke="#000" font-style="italic">KRAS G12C WT</text>
<line x1="392.3" y1="36.9" x2="402.7" y2="36.9" stroke="#2e2ec8" stroke-width="1.3"/>
<polygon points="397.5,35.0 395.7,38.1 399.3,38.1" fill="#2e2ec8"/>
<text transform="translate(407.80,39.65) scale(1,1.07)" font-size="7.6" text-anchor="start" fill="#000" stroke="#000">HCC-44</text>
<line x1="392.3" y1="45.9" x2="402.7" y2="45.9" stroke="#157015" stroke-width="1.3"/>
<polygon points="397.5,44.0 395.7,47.2 399.3,47.2" fill="#157015"/>
<text transform="translate(407.80,48.68) scale(1,1.07)" font-size="7.6" text-anchor="start" fill="#000" stroke="#000">NCI-H358</text>
<line x1="392.3" y1="55.0" x2="402.7" y2="55.0" stroke="#a0662a" stroke-width="1.3"/>
<polygon points="397.5,53.0 395.7,56.2 399.3,56.2" fill="#a0662a"/>
<text transform="translate(407.80,57.71) scale(1,1.07)" font-size="7.6" text-anchor="start" fill="#000" stroke="#000">Calu-1</text>
<line x1="392.3" y1="64.0" x2="402.7" y2="64.0" stroke="#c8c81e" stroke-width="1.3"/>
<polygon points="397.5,62.1 395.7,65.2 399.3,65.2" fill="#c8c81e"/>
<text transform="translate(407.80,66.74) scale(1,1.07)" font-size="7.6" text-anchor="start" fill="#000" stroke="#000">NCI-H1373</text>
<line x1="392.3" y1="73.0" x2="402.7" y2="73.0" stroke="#1ec88c" stroke-width="1.3"/>
<rect x="396.06" y="71.58" width="2.88" height="2.88" fill="#1ec88c"/>
<text transform="translate(407.80,75.77) scale(1,1.07)" font-size="7.6" text-anchor="start" fill="#000" stroke="#000">NCI-H23</text>
<line x1="392.3" y1="82.0" x2="402.7" y2="82.0" stroke="#28a8c8" stroke-width="1.3"/>
<polygon points="397.5,80.1 395.7,83.3 399.3,83.3" fill="#28a8c8"/>
<text transform="translate(407.80,84.80) scale(1,1.07)" font-size="7.6" text-anchor="start" fill="#000" stroke="#000">NCI-H2122</text>
<line x1="392.3" y1="91.1" x2="402.7" y2="91.1" stroke="#1414ff" stroke-width="1.3"/>
<polygon points="397.5,89.2 395.7,92.3 399.3,92.3" fill="#1414ff"/>
<text transform="translate(407.80,93.83) scale(1,1.07)" font-size="7.6" text-anchor="start" fill="#000" stroke="#000">NCI-H1792</text>
<line x1="392.3" y1="100.1" x2="402.7" y2="100.1" stroke="#f7a868" stroke-width="1.3"/>
<polygon points="397.5,98.2 395.7,101.4 399.3,101.4" fill="#f7a868"/>
<text transform="translate(407.80,102.86) scale(1,1.07)" font-size="7.6" text-anchor="start" fill="#000" stroke="#000">SW1573</text>
<line x1="392.3" y1="109.1" x2="402.7" y2="109.1" stroke="#7a20b4" stroke-width="1.3"/>
<polygon points="397.5,111.1 395.7,107.9 399.3,107.9" fill="#7a20b4"/>
<text transform="translate(407.80,111.89) scale(1,1.07)" font-size="7.6" text-anchor="start" fill="#000" stroke="#000">SW837</text>
<line x1="392.3" y1="118.2" x2="402.7" y2="118.2" stroke="#f88080" stroke-width="1.3"/>
<polygon points="397.5,116.2 395.7,119.4 399.3,119.4" fill="#f88080"/>
<text transform="translate(407.80,120.92) scale(1,1.07)" font-size="7.6" text-anchor="start" fill="#000" stroke="#000">SW1463</text>
<line x1="392.3" y1="127.2" x2="402.7" y2="127.2" stroke="#b01818" stroke-width="1.3"/>
<polygon points="397.5,125.3 395.7,128.4 399.3,128.4" fill="#b01818"/>
<text transform="translate(407.80,129.95) scale(1,1.07)" font-size="7.6" text-anchor="start" fill="#000" stroke="#000">MIA PaCa-2</text>
<line x1="392.3" y1="136.2" x2="402.7" y2="136.2" stroke="#ff1aa0" stroke-width="1.3"/>
<polygon points="397.5,134.3 395.7,137.5 399.3,137.5" fill="#ff1aa0"/>
<text transform="translate(407.80,138.98) scale(1,1.07)" font-size="7.6" text-anchor="start" fill="#000" stroke="#000">UM-UC-3</text>
<line x1="392.3" y1="145.3" x2="402.7" y2="145.3" stroke="#d81a6c" stroke-width="1.3"/>
<rect x="396.06" y="143.82" width="2.88" height="2.88" fill="#d81a6c"/>
<text transform="translate(407.80,148.01) scale(1,1.07)" font-size="7.6" text-anchor="start" fill="#000" stroke="#000">KYSE-410</text>
<line x1="392.3" y1="154.3" x2="402.7" y2="154.3" stroke="#1a6b1a" stroke-width="1.3"/>
<polygon points="397.5,152.4 395.7,155.5 399.3,155.5" fill="#1a6b1a"/>
<text transform="translate(407.80,157.04) scale(1,1.07)" font-size="7.6" text-anchor="start" fill="#000" stroke="#000">SW756</text>
<line x1="462.4" y1="36.9" x2="464.6" y2="36.9" stroke="#7d7d7d" stroke-width="0.9"/>
<line x1="470.4" y1="36.9" x2="472.6" y2="36.9" stroke="#7d7d7d" stroke-width="0.9"/>
<circle cx="467.50" cy="36.90" r="1.5" fill="#7d7d7d"/>
<text transform="translate(477.30,39.65) scale(1,1.07)" font-size="7.6" text-anchor="start" fill="#000" stroke="#000">PC-9</text>
<line x1="462.4" y1="45.9" x2="464.6" y2="45.9" stroke="#7d7d7d" stroke-width="0.9"/>
<line x1="470.4" y1="45.9" x2="472.6" y2="45.9" stroke="#7d7d7d" stroke-width="0.9"/>
<circle cx="467.50" cy="45.93" r="1.5" fill="#7d7d7d"/>
<text transform="translate(477.30,48.68) scale(1,1.07)" font-size="7.6" text-anchor="start" fill="#000" stroke="#000">A549</text>
<line x1="462.4" y1="55.0" x2="464.6" y2="55.0" stroke="#7d7d7d" stroke-width="0.9"/>
<line x1="470.4" y1="55.0" x2="472.6" y2="55.0" stroke="#7d7d7d" stroke-width="0.9"/>
<circle cx="467.50" cy="54.96" r="1.5" fill="#7d7d7d"/>
<text transform="translate(477.30,57.71) scale(1,1.07)" font-size="7.6" text-anchor="start" fill="#000" stroke="#000">NCI-H441</text>
<line x1="462.4" y1="64.0" x2="464.6" y2="64.0" stroke="#7d7d7d" stroke-width="0.9"/>
<line x1="470.4" y1="64.0" x2="472.6" y2="64.0" stroke="#7d7d7d" stroke-width="0.9"/>
<circle cx="467.50" cy="63.99" r="1.5" fill="#7d7d7d"/>
<text transform="translate(477.30,66.74) scale(1,1.07)" font-size="7.6" text-anchor="start" fill="#000" stroke="#000">NCI-H1573</text>
<line x1="462.4" y1="73.0" x2="464.6" y2="73.0" stroke="#7d7d7d" stroke-width="0.9"/>
<line x1="470.4" y1="73.0" x2="472.6" y2="73.0" stroke="#7d7d7d" stroke-width="0.9"/>
<circle cx="467.50" cy="73.02" r="1.5" fill="#7d7d7d"/>
<text transform="translate(477.30,75.77) scale(1,1.07)" font-size="7.6" text-anchor="start" fill="#000" stroke="#000">SW480</text>
<line x1="462.4" y1="82.0" x2="464.6" y2="82.0" stroke="#7d7d7d" stroke-width="0.9"/>
<line x1="470.4" y1="82.0" x2="472.6" y2="82.0" stroke="#7d7d7d" stroke-width="0.9"/>
<rect x="466.15" y="80.70" width="2.70" height="2.70" fill="#7d7d7d"/>
<text transform="translate(477.30,84.80) scale(1,1.07)" font-size="7.6" text-anchor="start" fill="#000" stroke="#000">AsPC-1</text>
<line x1="462.4" y1="91.1" x2="464.6" y2="91.1" stroke="#7d7d7d" stroke-width="0.9"/>
<line x1="470.4" y1="91.1" x2="472.6" y2="91.1" stroke="#7d7d7d" stroke-width="0.9"/>
<polygon points="467.5,89.3 465.8,92.2 469.2,92.2" fill="#7d7d7d"/>
<text transform="translate(477.30,93.83) scale(1,1.07)" font-size="7.6" text-anchor="start" fill="#000" stroke="#000">TOV-21G</text>
<text transform="translate(230.30,206.00) scale(1,1.07)" font-size="7.7" text-anchor="start" fill="#231f20" stroke="#231f20">The effect of D3S-001 on cell proliferation</text>
<text transform="translate(301.40,215.00) scale(1,1.07)" font-size="7.7" text-anchor="middle" fill="#231f20" stroke="#231f20">(3D assay)</text>
<polyline points="242.6,233.6 243.5,233.6 244.5,233.6 245.4,233.6 246.3,233.6 247.3,233.6 248.2,233.6 249.1,233.6 250.0,233.6 251.0,233.6 251.9,233.6 252.8,233.6 253.8,233.6 254.7,233.6 255.6,233.6 256.6,233.6 257.5,233.6 258.4,233.6 259.4,233.6 260.3,233.6 261.2,233.6 262.1,233.6 263.1,233.6 264.0,233.6 264.9,233.6 265.9,233.6 266.8,233.6 267.7,233.6 268.7,233.6 269.6,233.6 270.5,233.6 271.5,233.6 272.4,233.6 273.3,233.6 274.2,233.6 275.2,233.6 276.1,233.6 277.0,233.7 278.0,233.7 278.9,233.7 279.8,233.7 280.8,233.7 281.7,233.7 282.6,233.7 283.6,233.7 284.5,233.8 285.4,233.8 286.3,233.8 287.3,233.8 288.2,233.8 289.1,233.8 290.1,233.9 291.0,233.9 291.9,233.9 292.9,233.9 293.8,234.0 294.7,234.0 295.7,234.0 296.6,234.0 297.5,234.1 298.4,234.1 299.4,234.1 300.3,234.2 301.2,234.2 302.2,234.2 303.1,234.3 304.0,234.3 305.0,234.3 305.9,234.4 306.8,234.4 307.8,234.4 308.7,234.5 309.6,234.5 310.5,234.5 311.5,234.5 312.4,234.6 313.3,234.6 314.3,234.6 315.2,234.6 316.1,234.7 317.1,234.7 318.0,234.7 318.9,234.7 319.9,234.7 320.8,234.8 321.7,234.8 322.6,234.8 323.6,234.8 324.5,234.8 325.4,234.8 326.4,234.8 327.3,234.8 328.2,234.9 329.2,234.9 330.1,234.9 331.0,234.9 332.0,234.9 332.9,234.9 333.8,234.9 334.7,234.9 335.7,234.9 336.6,234.9 337.5,234.9 338.5,234.9 339.4,234.9 340.3,234.9 341.3,234.9 342.2,234.9 343.1,234.9 344.1,234.9 345.0,234.9 345.9,234.9 346.8,234.9 347.8,234.9 348.7,234.9 349.6,235.0 350.6,235.0 351.5,235.0 352.4,235.0 353.4,235.0 354.3,235.0 355.2,235.0 356.2,235.0 357.1,235.0 358.0,235.0 358.9,235.0 359.9,235.0 360.8,235.0 361.7,235.0 362.7,235.0 363.6,235.0 364.5,235.0 365.5,235.0 366.4,235.0 367.3,235.0 368.3,235.0 369.2,235.0 370.1,235.0 371.1,235.0 372.0,235.0 372.9,235.0" fill="none" stroke="#7d7d7d" stroke-width="0.75" stroke-dasharray="2.6,1.8"/>
<path d="M242.6 229.3V237.8M241.4 229.3h2.4M241.4 237.8h2.4" stroke="#7d7d7d" stroke-width="0.6"/>
<circle cx="242.60" cy="233.56" r="1.3" fill="#7d7d7d"/>
<path d="M258.9 229.3V237.8M257.7 229.3h2.4M257.7 237.8h2.4" stroke="#7d7d7d" stroke-width="0.6"/>
<circle cx="258.86" cy="233.57" r="1.3" fill="#7d7d7d"/>
<path d="M275.1 229.4V237.9M273.9 229.4h2.4M273.9 237.9h2.4" stroke="#7d7d7d" stroke-width="0.6"/>
<circle cx="275.13" cy="233.64" r="1.3" fill="#7d7d7d"/>
<path d="M291.4 229.7V238.1M290.2 229.7h2.4M290.2 238.1h2.4" stroke="#7d7d7d" stroke-width="0.6"/>
<circle cx="291.39" cy="233.90" r="1.3" fill="#7d7d7d"/>
<path d="M307.7 230.2V238.7M306.5 230.2h2.4M306.5 238.7h2.4" stroke="#7d7d7d" stroke-width="0.6"/>
<circle cx="307.66" cy="234.42" r="1.3" fill="#7d7d7d"/>
<path d="M323.9 230.6V239.0M322.7 230.6h2.4M322.7 239.0h2.4" stroke="#7d7d7d" stroke-width="0.6"/>
<circle cx="323.92" cy="234.81" r="1.3" fill="#7d7d7d"/>
<path d="M340.2 230.7V239.2M339.0 230.7h2.4M339.0 239.2h2.4" stroke="#7d7d7d" stroke-width="0.6"/>
<circle cx="340.19" cy="234.93" r="1.3" fill="#7d7d7d"/>
<path d="M356.5 230.7V239.2M355.3 230.7h2.4M355.3 239.2h2.4" stroke="#7d7d7d" stroke-width="0.6"/>
<circle cx="356.45" cy="234.96" r="1.3" fill="#7d7d7d"/>
<path d="M372.7 230.7V239.2M371.5 230.7h2.4M371.5 239.2h2.4" stroke="#7d7d7d" stroke-width="0.6"/>
<circle cx="372.72" cy="234.96" r="1.3" fill="#7d7d7d"/>
<polyline points="242.6,236.4 243.5,236.4 244.5,236.4 245.4,236.4 246.3,236.4 247.3,236.4 248.2,236.4 249.1,236.4 250.0,236.4 251.0,236.4 251.9,236.4 252.8,236.4 253.8,236.4 254.7,236.4 255.6,236.4 256.6,236.4 257.5,236.4 258.4,236.4 259.4,236.4 260.3,236.4 261.2,236.4 262.1,236.4 263.1,236.4 264.0,236.4 264.9,236.4 265.9,236.4 266.8,236.4 267.7,236.4 268.7,236.4 269.6,236.4 270.5,236.4 271.5,236.4 272.4,236.4 273.3,236.4 274.2,236.4 275.2,236.4 276.1,236.4 277.0,236.4 278.0,236.4 278.9,236.4 279.8,236.4 280.8,236.4 281.7,236.5 282.6,236.5 283.6,236.5 284.5,236.5 285.4,236.5 286.3,236.5 287.3,236.5 288.2,236.5 289.1,236.5 290.1,236.5 291.0,236.5 291.9,236.6 292.9,236.6 293.8,236.6 294.7,236.6 295.7,236.6 296.6,236.6 297.5,236.6 298.4,236.7 299.4,236.7 300.3,236.7 301.2,236.7 302.2,236.7 303.1,236.7 304.0,236.7 305.0,236.8 305.9,236.8 306.8,236.8 307.8,236.8 308.7,236.8 309.6,236.8 310.5,236.9 311.5,236.9 312.4,236.9 313.3,236.9 314.3,236.9 315.2,236.9 316.1,236.9 317.1,236.9 318.0,237.0 318.9,237.0 319.9,237.0 320.8,237.0 321.7,237.0 322.6,237.0 323.6,237.0 324.5,237.0 325.4,237.0 326.4,237.0 327.3,237.0 328.2,237.0 329.2,237.0 330.1,237.0 331.0,237.0 332.0,237.0 332.9,237.0 333.8,237.0 334.7,237.1 335.7,237.1 336.6,237.1 337.5,237.1 338.5,237.1 339.4,237.1 340.3,237.1 341.3,237.1 342.2,237.1 343.1,237.1 344.1,237.1 345.0,237.1 345.9,237.1 346.8,237.1 347.8,237.1 348.7,237.1 349.6,237.1 350.6,237.1 351.5,237.1 352.4,237.1 353.4,237.1 354.3,237.1 355.2,237.1 356.2,237.1 357.1,237.1 358.0,237.1 358.9,237.1 359.9,237.1 360.8,237.1 361.7,237.1 362.7,237.1 363.6,237.1 364.5,237.1 365.5,237.1 366.4,237.1 367.3,237.1 368.3,237.1 369.2,237.1 370.1,237.1 371.1,237.1 372.0,237.1 372.9,237.1" fill="none" stroke="#7d7d7d" stroke-width="0.75" stroke-dasharray="2.6,1.8"/>
<path d="M242.6 232.1V240.6M241.4 232.1h2.4M241.4 240.6h2.4" stroke="#7d7d7d" stroke-width="0.6"/>
<circle cx="242.60" cy="236.38" r="1.3" fill="#7d7d7d"/>
<path d="M258.9 232.2V240.6M257.7 232.2h2.4M257.7 240.6h2.4" stroke="#7d7d7d" stroke-width="0.6"/>
<circle cx="258.86" cy="236.38" r="1.3" fill="#7d7d7d"/>
<path d="M275.1 232.2V240.6M273.9 232.2h2.4M273.9 240.6h2.4" stroke="#7d7d7d" stroke-width="0.6"/>
<circle cx="275.13" cy="236.42" r="1.3" fill="#7d7d7d"/>
<path d="M291.4 232.3V240.8M290.2 232.3h2.4M290.2 240.8h2.4" stroke="#7d7d7d" stroke-width="0.6"/>
<circle cx="291.39" cy="236.55" r="1.3" fill="#7d7d7d"/>
<path d="M307.7 232.6V241.0M306.5 232.6h2.4M306.5 241.0h2.4" stroke="#7d7d7d" stroke-width="0.6"/>
<circle cx="307.66" cy="236.81" r="1.3" fill="#7d7d7d"/>
<path d="M323.9 232.8V241.2M322.7 232.8h2.4M322.7 241.2h2.4" stroke="#7d7d7d" stroke-width="0.6"/>
<circle cx="323.92" cy="237.00" r="1.3" fill="#7d7d7d"/>
<path d="M340.2 232.8V241.3M339.0 232.8h2.4M339.0 241.3h2.4" stroke="#7d7d7d" stroke-width="0.6"/>
<circle cx="340.19" cy="237.06" r="1.3" fill="#7d7d7d"/>
<path d="M356.5 232.8V241.3M355.3 232.8h2.4M355.3 241.3h2.4" stroke="#7d7d7d" stroke-width="0.6"/>
<circle cx="356.45" cy="237.08" r="1.3" fill="#7d7d7d"/>
<path d="M372.7 232.8V241.3M371.5 232.8h2.4M371.5 241.3h2.4" stroke="#7d7d7d" stroke-width="0.6"/>
<circle cx="372.72" cy="237.08" r="1.3" fill="#7d7d7d"/>
<polyline points="242.6,239.2 243.5,239.2 244.5,239.2 245.4,239.2 246.3,239.2 247.3,239.2 248.2,239.2 249.1,239.2 250.0,239.2 251.0,239.2 251.9,239.2 252.8,239.2 253.8,239.2 254.7,239.2 255.6,239.2 256.6,239.2 257.5,239.2 258.4,239.2 259.4,239.2 260.3,239.2 261.2,239.2 262.1,239.2 263.1,239.2 264.0,239.2 264.9,239.2 265.9,239.2 266.8,239.2 267.7,239.2 268.7,239.2 269.6,239.2 270.5,239.2 271.5,239.2 272.4,239.2 273.3,239.2 274.2,239.2 275.2,239.2 276.1,239.2 277.0,239.2 278.0,239.3 278.9,239.3 279.8,239.3 280.8,239.3 281.7,239.3 282.6,239.3 283.6,239.3 284.5,239.3 285.4,239.3 286.3,239.3 287.3,239.3 288.2,239.3 289.1,239.3 290.1,239.3 291.0,239.4 291.9,239.4 292.9,239.4 293.8,239.4 294.7,239.4 295.7,239.4 296.6,239.4 297.5,239.5 298.4,239.5 299.4,239.5 300.3,239.5 301.2,239.5 302.2,239.5 303.1,239.6 304.0,239.6 305.0,239.6 305.9,239.6 306.8,239.6 307.8,239.6 308.7,239.6 309.6,239.7 310.5,239.7 311.5,239.7 312.4,239.7 313.3,239.7 314.3,239.7 315.2,239.7 316.1,239.8 317.1,239.8 318.0,239.8 318.9,239.8 319.9,239.8 320.8,239.8 321.7,239.8 322.6,239.8 323.6,239.8 324.5,239.8 325.4,239.8 326.4,239.8 327.3,239.8 328.2,239.8 329.2,239.9 330.1,239.9 331.0,239.9 332.0,239.9 332.9,239.9 333.8,239.9 334.7,239.9 335.7,239.9 336.6,239.9 337.5,239.9 338.5,239.9 339.4,239.9 340.3,239.9 341.3,239.9 342.2,239.9 343.1,239.9 344.1,239.9 345.0,239.9 345.9,239.9 346.8,239.9 347.8,239.9 348.7,239.9 349.6,239.9 350.6,239.9 351.5,239.9 352.4,239.9 353.4,239.9 354.3,239.9 355.2,239.9 356.2,239.9 357.1,239.9 358.0,239.9 358.9,239.9 359.9,239.9 360.8,239.9 361.7,239.9 362.7,239.9 363.6,239.9 364.5,239.9 365.5,239.9 366.4,239.9 367.3,239.9 368.3,239.9 369.2,239.9 370.1,239.9 371.1,239.9 372.0,239.9 372.9,239.9" fill="none" stroke="#7d7d7d" stroke-width="0.75" stroke-dasharray="2.6,1.8"/>
<path d="M242.6 235.7V242.7M241.4 235.7h2.4M241.4 242.7h2.4" stroke="#7d7d7d" stroke-width="0.6"/>
<rect x="241.43" y="238.03" width="2.34" height="2.34" fill="#7d7d7d"/>
<path d="M258.9 235.7V242.7M257.7 235.7h2.4M257.7 242.7h2.4" stroke="#7d7d7d" stroke-width="0.6"/>
<rect x="257.69" y="238.03" width="2.34" height="2.34" fill="#7d7d7d"/>
<path d="M275.1 235.7V242.8M273.9 235.7h2.4M273.9 242.8h2.4" stroke="#7d7d7d" stroke-width="0.6"/>
<rect x="273.96" y="238.07" width="2.34" height="2.34" fill="#7d7d7d"/>
<path d="M291.4 235.8V242.9M290.2 235.8h2.4M290.2 242.9h2.4" stroke="#7d7d7d" stroke-width="0.6"/>
<rect x="290.22" y="238.20" width="2.34" height="2.34" fill="#7d7d7d"/>
<path d="M307.7 236.1V243.2M306.5 236.1h2.4M306.5 243.2h2.4" stroke="#7d7d7d" stroke-width="0.6"/>
<rect x="306.49" y="238.46" width="2.34" height="2.34" fill="#7d7d7d"/>
<path d="M323.9 236.3V243.3M322.7 236.3h2.4M322.7 243.3h2.4" stroke="#7d7d7d" stroke-width="0.6"/>
<rect x="322.75" y="238.65" width="2.34" height="2.34" fill="#7d7d7d"/>
<path d="M340.2 236.4V243.4M339.0 236.4h2.4M339.0 243.4h2.4" stroke="#7d7d7d" stroke-width="0.6"/>
<rect x="339.02" y="238.71" width="2.34" height="2.34" fill="#7d7d7d"/>
<path d="M356.5 236.4V243.4M355.3 236.4h2.4M355.3 243.4h2.4" stroke="#7d7d7d" stroke-width="0.6"/>
<rect x="355.28" y="238.73" width="2.34" height="2.34" fill="#7d7d7d"/>
<path d="M372.7 236.4V243.4M371.5 236.4h2.4M371.5 243.4h2.4" stroke="#7d7d7d" stroke-width="0.6"/>
<rect x="371.55" y="238.73" width="2.34" height="2.34" fill="#7d7d7d"/>
<polyline points="242.6,242.0 243.5,242.0 244.5,242.0 245.4,242.0 246.3,242.0 247.3,242.0 248.2,242.0 249.1,242.0 250.0,242.0 251.0,242.0 251.9,242.0 252.8,242.0 253.8,242.0 254.7,242.0 255.6,242.0 256.6,242.0 257.5,242.0 258.4,242.0 259.4,242.0 260.3,242.0 261.2,242.0 262.1,242.0 263.1,242.0 264.0,242.0 264.9,242.0 265.9,242.0 266.8,242.0 267.7,242.0 268.7,242.0 269.6,242.0 270.5,242.0 271.5,242.0 272.4,242.0 273.3,242.1 274.2,242.1 275.2,242.1 276.1,242.1 277.0,242.1 278.0,242.1 278.9,242.1 279.8,242.1 280.8,242.1 281.7,242.1 282.6,242.1 283.6,242.1 284.5,242.1 285.4,242.1 286.3,242.1 287.3,242.1 288.2,242.1 289.1,242.2 290.1,242.2 291.0,242.2 291.9,242.2 292.9,242.2 293.8,242.2 294.7,242.2 295.7,242.2 296.6,242.3 297.5,242.3 298.4,242.3 299.4,242.3 300.3,242.3 301.2,242.3 302.2,242.4 303.1,242.4 304.0,242.4 305.0,242.4 305.9,242.4 306.8,242.4 307.8,242.5 308.7,242.5 309.6,242.5 310.5,242.5 311.5,242.5 312.4,242.5 313.3,242.5 314.3,242.5 315.2,242.6 316.1,242.6 317.1,242.6 318.0,242.6 318.9,242.6 319.9,242.6 320.8,242.6 321.7,242.6 322.6,242.6 323.6,242.6 324.5,242.6 325.4,242.7 326.4,242.7 327.3,242.7 328.2,242.7 329.2,242.7 330.1,242.7 331.0,242.7 332.0,242.7 332.9,242.7 333.8,242.7 334.7,242.7 335.7,242.7 336.6,242.7 337.5,242.7 338.5,242.7 339.4,242.7 340.3,242.7 341.3,242.7 342.2,242.7 343.1,242.7 344.1,242.7 345.0,242.7 345.9,242.7 346.8,242.7 347.8,242.7 348.7,242.7 349.6,242.7 350.6,242.7 351.5,242.7 352.4,242.7 353.4,242.7 354.3,242.7 355.2,242.7 356.2,242.7 357.1,242.7 358.0,242.7 358.9,242.7 359.9,242.7 360.8,242.7 361.7,242.7 362.7,242.7 363.6,242.7 364.5,242.7 365.5,242.7 366.4,242.7 367.3,242.7 368.3,242.7 369.2,242.7 370.1,242.7 371.1,242.7 372.0,242.7 372.9,242.7" fill="none" stroke="#7d7d7d" stroke-width="0.75" stroke-dasharray="2.6,1.8"/>
<path d="M242.6 238.5V245.5M241.4 238.5h2.4M241.4 245.5h2.4" stroke="#7d7d7d" stroke-width="0.6"/>
<circle cx="242.60" cy="242.02" r="1.3" fill="#7d7d7d"/>
<path d="M258.9 238.5V245.5M257.7 238.5h2.4M257.7 245.5h2.4" stroke="#7d7d7d" stroke-width="0.6"/>
<circle cx="258.86" cy="242.02" r="1.3" fill="#7d7d7d"/>
<path d="M275.1 238.5V245.6M273.9 238.5h2.4M273.9 245.6h2.4" stroke="#7d7d7d" stroke-width="0.6"/>
<circle cx="275.13" cy="242.06" r="1.3" fill="#7d7d7d"/>
<path d="M291.4 238.7V245.7M290.2 238.7h2.4M290.2 245.7h2.4" stroke="#7d7d7d" stroke-width="0.6"/>
<circle cx="291.39" cy="242.19" r="1.3" fill="#7d7d7d"/>
<path d="M307.7 238.9V246.0M306.5 238.9h2.4M306.5 246.0h2.4" stroke="#7d7d7d" stroke-width="0.6"/>
<circle cx="307.66" cy="242.45" r="1.3" fill="#7d7d7d"/>
<path d="M323.9 239.1V246.2M322.7 239.1h2.4M322.7 246.2h2.4" stroke="#7d7d7d" stroke-width="0.6"/>
<circle cx="323.92" cy="242.64" r="1.3" fill="#7d7d7d"/>
<path d="M340.2 239.2V246.2M339.0 239.2h2.4M339.0 246.2h2.4" stroke="#7d7d7d" stroke-width="0.6"/>
<circle cx="340.19" cy="242.70" r="1.3" fill="#7d7d7d"/>
<path d="M356.5 239.2V246.2M355.3 239.2h2.4M355.3 246.2h2.4" stroke="#7d7d7d" stroke-width="0.6"/>
<circle cx="356.45" cy="242.72" r="1.3" fill="#7d7d7d"/>
<path d="M372.7 239.2V246.2M371.5 239.2h2.4M371.5 246.2h2.4" stroke="#7d7d7d" stroke-width="0.6"/>
<circle cx="372.72" cy="242.72" r="1.3" fill="#7d7d7d"/>
<polyline points="242.6,244.8 243.5,244.8 244.5,244.8 245.4,244.8 246.3,244.8 247.3,244.8 248.2,244.8 249.1,244.8 250.0,244.8 251.0,244.8 251.9,244.8 252.8,244.8 253.8,244.8 254.7,244.8 255.6,244.8 256.6,244.8 257.5,244.8 258.4,244.8 259.4,244.8 260.3,244.8 261.2,244.8 262.1,244.8 263.1,244.8 264.0,244.8 264.9,244.9 265.9,244.9 266.8,244.9 267.7,244.9 268.7,244.9 269.6,244.9 270.5,244.9 271.5,244.9 272.4,244.9 273.3,244.9 274.2,244.9 275.2,244.9 276.1,244.9 277.0,244.9 278.0,244.9 278.9,244.9 279.8,244.9 280.8,244.9 281.7,244.9 282.6,244.9 283.6,244.9 284.5,244.9 285.4,244.9 286.3,244.9 287.3,245.0 288.2,245.0 289.1,245.0 290.1,245.0 291.0,245.0 291.9,245.0 292.9,245.0 293.8,245.0 294.7,245.1 295.7,245.1 296.6,245.1 297.5,245.1 298.4,245.1 299.4,245.1 300.3,245.1 301.2,245.2 302.2,245.2 303.1,245.2 304.0,245.2 305.0,245.2 305.9,245.2 306.8,245.3 307.8,245.3 308.7,245.3 309.6,245.3 310.5,245.3 311.5,245.3 312.4,245.3 313.3,245.4 314.3,245.4 315.2,245.4 316.1,245.4 317.1,245.4 318.0,245.4 318.9,245.4 319.9,245.4 320.8,245.4 321.7,245.4 322.6,245.5 323.6,245.5 324.5,245.5 325.4,245.5 326.4,245.5 327.3,245.5 328.2,245.5 329.2,245.5 330.1,245.5 331.0,245.5 332.0,245.5 332.9,245.5 333.8,245.5 334.7,245.5 335.7,245.5 336.6,245.5 337.5,245.5 338.5,245.5 339.4,245.5 340.3,245.5 341.3,245.5 342.2,245.5 343.1,245.5 344.1,245.5 345.0,245.5 345.9,245.5 346.8,245.5 347.8,245.5 348.7,245.5 349.6,245.5 350.6,245.5 351.5,245.5 352.4,245.5 353.4,245.5 354.3,245.5 355.2,245.5 356.2,245.5 357.1,245.5 358.0,245.5 358.9,245.5 359.9,245.5 360.8,245.5 361.7,245.5 362.7,245.5 363.6,245.5 364.5,245.5 365.5,245.5 366.4,245.5 367.3,245.5 368.3,245.5 369.2,245.5 370.1,245.5 371.1,245.5 372.0,245.5 372.9,245.5" fill="none" stroke="#7d7d7d" stroke-width="0.75" stroke-dasharray="2.6,1.8"/>
<path d="M242.6 241.3V248.4M241.4 241.3h2.4M241.4 248.4h2.4" stroke="#7d7d7d" stroke-width="0.6"/>
<circle cx="242.60" cy="244.84" r="1.3" fill="#7d7d7d"/>
<path d="M258.9 241.3V248.4M257.7 241.3h2.4M257.7 248.4h2.4" stroke="#7d7d7d" stroke-width="0.6"/>
<circle cx="258.86" cy="244.84" r="1.3" fill="#7d7d7d"/>
<path d="M275.1 241.4V248.4M273.9 241.4h2.4M273.9 248.4h2.4" stroke="#7d7d7d" stroke-width="0.6"/>
<circle cx="275.13" cy="244.88" r="1.3" fill="#7d7d7d"/>
<path d="M291.4 241.5V248.5M290.2 241.5h2.4M290.2 248.5h2.4" stroke="#7d7d7d" stroke-width="0.6"/>
<circle cx="291.39" cy="245.01" r="1.3" fill="#7d7d7d"/>
<path d="M307.7 241.7V248.8M306.5 241.7h2.4M306.5 248.8h2.4" stroke="#7d7d7d" stroke-width="0.6"/>
<circle cx="307.66" cy="245.27" r="1.3" fill="#7d7d7d"/>
<path d="M323.9 241.9V249.0M322.7 241.9h2.4M322.7 249.0h2.4" stroke="#7d7d7d" stroke-width="0.6"/>
<circle cx="323.92" cy="245.46" r="1.3" fill="#7d7d7d"/>
<path d="M340.2 242.0V249.0M339.0 242.0h2.4M339.0 249.0h2.4" stroke="#7d7d7d" stroke-width="0.6"/>
<circle cx="340.19" cy="245.52" r="1.3" fill="#7d7d7d"/>
<path d="M356.5 242.0V249.1M355.3 242.0h2.4M355.3 249.1h2.4" stroke="#7d7d7d" stroke-width="0.6"/>
<circle cx="356.45" cy="245.54" r="1.3" fill="#7d7d7d"/>
<path d="M372.7 242.0V249.1M371.5 242.0h2.4M371.5 249.1h2.4" stroke="#7d7d7d" stroke-width="0.6"/>
<circle cx="372.72" cy="245.54" r="1.3" fill="#7d7d7d"/>
<polyline points="242.6,247.7 243.5,247.7 244.5,247.7 245.4,247.7 246.3,247.7 247.3,247.7 248.2,247.7 249.1,247.7 250.0,247.7 251.0,247.7 251.9,247.7 252.8,247.7 253.8,247.7 254.7,247.7 255.6,247.7 256.6,247.7 257.5,247.7 258.4,247.7 259.4,247.7 260.3,247.7 261.2,247.7 262.1,247.7 263.1,247.7 264.0,247.7 264.9,247.7 265.9,247.7 266.8,247.7 267.7,247.7 268.7,247.7 269.6,247.7 270.5,247.7 271.5,247.7 272.4,247.7 273.3,247.7 274.2,247.7 275.2,247.7 276.1,247.7 277.0,247.8 278.0,247.8 278.9,247.8 279.8,247.8 280.8,247.8 281.7,247.8 282.6,247.8 283.6,247.8 284.5,247.9 285.4,247.9 286.3,247.9 287.3,247.9 288.2,247.9 289.1,247.9 290.1,248.0 291.0,248.0 291.9,248.0 292.9,248.0 293.8,248.1 294.7,248.1 295.7,248.1 296.6,248.1 297.5,248.2 298.4,248.2 299.4,248.2 300.3,248.3 301.2,248.3 302.2,248.3 303.1,248.4 304.0,248.4 305.0,248.4 305.9,248.5 306.8,248.5 307.8,248.5 308.7,248.6 309.6,248.6 310.5,248.6 311.5,248.6 312.4,248.7 313.3,248.7 314.3,248.7 315.2,248.7 316.1,248.8 317.1,248.8 318.0,248.8 318.9,248.8 319.9,248.8 320.8,248.9 321.7,248.9 322.6,248.9 323.6,248.9 324.5,248.9 325.4,248.9 326.4,248.9 327.3,248.9 328.2,249.0 329.2,249.0 330.1,249.0 331.0,249.0 332.0,249.0 332.9,249.0 333.8,249.0 334.7,249.0 335.7,249.0 336.6,249.0 337.5,249.0 338.5,249.0 339.4,249.0 340.3,249.0 341.3,249.0 342.2,249.0 343.1,249.0 344.1,249.0 345.0,249.0 345.9,249.0 346.8,249.0 347.8,249.0 348.7,249.0 349.6,249.1 350.6,249.1 351.5,249.1 352.4,249.1 353.4,249.1 354.3,249.1 355.2,249.1 356.2,249.1 357.1,249.1 358.0,249.1 358.9,249.1 359.9,249.1 360.8,249.1 361.7,249.1 362.7,249.1 363.6,249.1 364.5,249.1 365.5,249.1 366.4,249.1 367.3,249.1 368.3,249.1 369.2,249.1 370.1,249.1 371.1,249.1 372.0,249.1 372.9,249.1" fill="none" stroke="#7d7d7d" stroke-width="0.75" stroke-dasharray="2.6,1.8"/>
<path d="M242.6 244.1V251.2M241.4 244.1h2.4M241.4 251.2h2.4" stroke="#7d7d7d" stroke-width="0.6"/>
<circle cx="242.60" cy="247.66" r="1.3" fill="#7d7d7d"/>
<path d="M258.9 244.1V251.2M257.7 244.1h2.4M257.7 251.2h2.4" stroke="#7d7d7d" stroke-width="0.6"/>
<circle cx="258.86" cy="247.67" r="1.3" fill="#7d7d7d"/>
<path d="M275.1 244.2V251.3M273.9 244.2h2.4M273.9 251.3h2.4" stroke="#7d7d7d" stroke-width="0.6"/>
<circle cx="275.13" cy="247.74" r="1.3" fill="#7d7d7d"/>
<path d="M291.4 244.5V251.5M290.2 244.5h2.4M290.2 251.5h2.4" stroke="#7d7d7d" stroke-width="0.6"/>
<circle cx="291.39" cy="248.00" r="1.3" fill="#7d7d7d"/>
<path d="M307.7 245.0V252.0M306.5 245.0h2.4M306.5 252.0h2.4" stroke="#7d7d7d" stroke-width="0.6"/>
<circle cx="307.66" cy="248.52" r="1.3" fill="#7d7d7d"/>
<path d="M323.9 245.4V252.4M322.7 245.4h2.4M322.7 252.4h2.4" stroke="#7d7d7d" stroke-width="0.6"/>
<circle cx="323.92" cy="248.91" r="1.3" fill="#7d7d7d"/>
<path d="M340.2 245.5V252.6M339.0 245.5h2.4M339.0 252.6h2.4" stroke="#7d7d7d" stroke-width="0.6"/>
<circle cx="340.19" cy="249.03" r="1.3" fill="#7d7d7d"/>
<path d="M356.5 245.5V252.6M355.3 245.5h2.4M355.3 252.6h2.4" stroke="#7d7d7d" stroke-width="0.6"/>
<circle cx="356.45" cy="249.06" r="1.3" fill="#7d7d7d"/>
<path d="M372.7 245.5V252.6M371.5 245.5h2.4M371.5 252.6h2.4" stroke="#7d7d7d" stroke-width="0.6"/>
<circle cx="372.72" cy="249.06" r="1.3" fill="#7d7d7d"/>
<polyline points="242.6,250.5 243.5,250.5 244.5,250.5 245.4,250.5 246.3,250.5 247.3,250.5 248.2,250.5 249.1,250.5 250.0,250.5 251.0,250.5 251.9,250.5 252.8,250.5 253.8,250.5 254.7,250.5 255.6,250.5 256.6,250.5 257.5,250.5 258.4,250.5 259.4,250.5 260.3,250.5 261.2,250.5 262.1,250.5 263.1,250.5 264.0,250.5 264.9,250.5 265.9,250.5 266.8,250.5 267.7,250.5 268.7,250.5 269.6,250.5 270.5,250.5 271.5,250.5 272.4,250.5 273.3,250.5 274.2,250.5 275.2,250.5 276.1,250.5 277.0,250.5 278.0,250.5 278.9,250.5 279.8,250.5 280.8,250.5 281.7,250.6 282.6,250.6 283.6,250.6 284.5,250.6 285.4,250.6 286.3,250.6 287.3,250.6 288.2,250.6 289.1,250.6 290.1,250.6 291.0,250.6 291.9,250.7 292.9,250.7 293.8,250.7 294.7,250.7 295.7,250.7 296.6,250.7 297.5,250.7 298.4,250.8 299.4,250.8 300.3,250.8 301.2,250.8 302.2,250.8 303.1,250.8 304.0,250.8 305.0,250.9 305.9,250.9 306.8,250.9 307.8,250.9 308.7,250.9 309.6,250.9 310.5,251.0 311.5,251.0 312.4,251.0 313.3,251.0 314.3,251.0 315.2,251.0 316.1,251.0 317.1,251.0 318.0,251.1 318.9,251.1 319.9,251.1 320.8,251.1 321.7,251.1 322.6,251.1 323.6,251.1 324.5,251.1 325.4,251.1 326.4,251.1 327.3,251.1 328.2,251.1 329.2,251.1 330.1,251.1 331.0,251.1 332.0,251.1 332.9,251.1 333.8,251.1 334.7,251.2 335.7,251.2 336.6,251.2 337.5,251.2 338.5,251.2 339.4,251.2 340.3,251.2 341.3,251.2 342.2,251.2 343.1,251.2 344.1,251.2 345.0,251.2 345.9,251.2 346.8,251.2 347.8,251.2 348.7,251.2 349.6,251.2 350.6,251.2 351.5,251.2 352.4,251.2 353.4,251.2 354.3,251.2 355.2,251.2 356.2,251.2 357.1,251.2 358.0,251.2 358.9,251.2 359.9,251.2 360.8,251.2 361.7,251.2 362.7,251.2 363.6,251.2 364.5,251.2 365.5,251.2 366.4,251.2 367.3,251.2 368.3,251.2 369.2,251.2 370.1,251.2 371.1,251.2 372.0,251.2 372.9,251.2" fill="none" stroke="#7d7d7d" stroke-width="0.75" stroke-dasharray="2.6,1.8"/>
<path d="M242.6 247.0V254.0M241.4 247.0h2.4M241.4 254.0h2.4" stroke="#7d7d7d" stroke-width="0.6"/>
<circle cx="242.60" cy="250.48" r="1.3" fill="#7d7d7d"/>
<path d="M258.9 247.0V254.0M257.7 247.0h2.4M257.7 254.0h2.4" stroke="#7d7d7d" stroke-width="0.6"/>
<circle cx="258.86" cy="250.48" r="1.3" fill="#7d7d7d"/>
<path d="M275.1 247.0V254.0M273.9 247.0h2.4M273.9 254.0h2.4" stroke="#7d7d7d" stroke-width="0.6"/>
<circle cx="275.13" cy="250.52" r="1.3" fill="#7d7d7d"/>
<path d="M291.4 247.1V254.2M290.2 247.1h2.4M290.2 254.2h2.4" stroke="#7d7d7d" stroke-width="0.6"/>
<circle cx="291.39" cy="250.65" r="1.3" fill="#7d7d7d"/>
<path d="M307.7 247.4V254.4M306.5 247.4h2.4M306.5 254.4h2.4" stroke="#7d7d7d" stroke-width="0.6"/>
<circle cx="307.66" cy="250.91" r="1.3" fill="#7d7d7d"/>
<path d="M323.9 247.6V254.6M322.7 247.6h2.4M322.7 254.6h2.4" stroke="#7d7d7d" stroke-width="0.6"/>
<circle cx="323.92" cy="251.10" r="1.3" fill="#7d7d7d"/>
<path d="M340.2 247.6V254.7M339.0 247.6h2.4M339.0 254.7h2.4" stroke="#7d7d7d" stroke-width="0.6"/>
<circle cx="340.19" cy="251.16" r="1.3" fill="#7d7d7d"/>
<path d="M356.5 247.7V254.7M355.3 247.7h2.4M355.3 254.7h2.4" stroke="#7d7d7d" stroke-width="0.6"/>
<circle cx="356.45" cy="251.18" r="1.3" fill="#7d7d7d"/>
<path d="M372.7 247.7V254.7M371.5 247.7h2.4M371.5 254.7h2.4" stroke="#7d7d7d" stroke-width="0.6"/>
<circle cx="372.72" cy="251.18" r="1.3" fill="#7d7d7d"/>
<polyline points="242.6,254.0 243.5,254.0 244.5,254.0 245.4,254.0 246.3,254.0 247.3,254.0 248.2,254.0 249.1,254.0 250.0,254.0 251.0,254.0 251.9,254.0 252.8,254.0 253.8,254.0 254.7,254.0 255.6,254.0 256.6,254.0 257.5,254.0 258.4,254.0 259.4,254.0 260.3,254.0 261.2,254.0 262.1,254.0 263.1,254.0 264.0,254.0 264.9,254.0 265.9,254.0 266.8,254.0 267.7,254.0 268.7,254.0 269.6,254.0 270.5,254.0 271.5,254.0 272.4,254.0 273.3,254.0 274.2,254.0 275.2,254.0 276.1,254.0 277.0,254.1 278.0,254.1 278.9,254.1 279.8,254.1 280.8,254.1 281.7,254.1 282.6,254.1 283.6,254.1 284.5,254.1 285.4,254.1 286.3,254.1 287.3,254.1 288.2,254.1 289.1,254.1 290.1,254.2 291.0,254.2 291.9,254.2 292.9,254.2 293.8,254.2 294.7,254.2 295.7,254.2 296.6,254.2 297.5,254.3 298.4,254.3 299.4,254.3 300.3,254.3 301.2,254.3 302.2,254.3 303.1,254.4 304.0,254.4 305.0,254.4 305.9,254.4 306.8,254.4 307.8,254.4 308.7,254.5 309.6,254.5 310.5,254.5 311.5,254.5 312.4,254.5 313.3,254.5 314.3,254.5 315.2,254.5 316.1,254.6 317.1,254.6 318.0,254.6 318.9,254.6 319.9,254.6 320.8,254.6 321.7,254.6 322.6,254.6 323.6,254.6 324.5,254.6 325.4,254.6 326.4,254.6 327.3,254.6 328.2,254.7 329.2,254.7 330.1,254.7 331.0,254.7 332.0,254.7 332.9,254.7 333.8,254.7 334.7,254.7 335.7,254.7 336.6,254.7 337.5,254.7 338.5,254.7 339.4,254.7 340.3,254.7 341.3,254.7 342.2,254.7 343.1,254.7 344.1,254.7 345.0,254.7 345.9,254.7 346.8,254.7 347.8,254.7 348.7,254.7 349.6,254.7 350.6,254.7 351.5,254.7 352.4,254.7 353.4,254.7 354.3,254.7 355.2,254.7 356.2,254.7 357.1,254.7 358.0,254.7 358.9,254.7 359.9,254.7 360.8,254.7 361.7,254.7 362.7,254.7 363.6,254.7 364.5,254.7 365.5,254.7 366.4,254.7 367.3,254.7 368.3,254.7 369.2,254.7 370.1,254.7 371.1,254.7 372.0,254.7 372.9,254.7" fill="none" stroke="#7d7d7d" stroke-width="0.75" stroke-dasharray="2.6,1.8"/>
<path d="M242.6 250.5V257.5M241.4 250.5h2.4M241.4 257.5h2.4" stroke="#7d7d7d" stroke-width="0.6"/>
<circle cx="242.60" cy="254.00" r="1.3" fill="#7d7d7d"/>
<path d="M258.9 250.5V257.5M257.7 250.5h2.4M257.7 257.5h2.4" stroke="#7d7d7d" stroke-width="0.6"/>
<circle cx="258.86" cy="254.01" r="1.3" fill="#7d7d7d"/>
<path d="M275.1 250.5V257.6M273.9 250.5h2.4M273.9 257.6h2.4" stroke="#7d7d7d" stroke-width="0.6"/>
<circle cx="275.13" cy="254.04" r="1.3" fill="#7d7d7d"/>
<path d="M291.4 250.6V257.7M290.2 250.6h2.4M290.2 257.7h2.4" stroke="#7d7d7d" stroke-width="0.6"/>
<circle cx="291.39" cy="254.17" r="1.3" fill="#7d7d7d"/>
<path d="M307.7 250.9V258.0M306.5 250.9h2.4M306.5 258.0h2.4" stroke="#7d7d7d" stroke-width="0.6"/>
<circle cx="307.66" cy="254.43" r="1.3" fill="#7d7d7d"/>
<path d="M323.9 251.1V258.2M322.7 251.1h2.4M322.7 258.2h2.4" stroke="#7d7d7d" stroke-width="0.6"/>
<circle cx="323.92" cy="254.63" r="1.3" fill="#7d7d7d"/>
<path d="M340.2 251.2V258.2M339.0 251.2h2.4M339.0 258.2h2.4" stroke="#7d7d7d" stroke-width="0.6"/>
<circle cx="340.19" cy="254.69" r="1.3" fill="#7d7d7d"/>
<path d="M356.5 251.2V258.2M355.3 251.2h2.4M355.3 258.2h2.4" stroke="#7d7d7d" stroke-width="0.6"/>
<circle cx="356.45" cy="254.70" r="1.3" fill="#7d7d7d"/>
<path d="M372.7 251.2V258.2M371.5 251.2h2.4M371.5 258.2h2.4" stroke="#7d7d7d" stroke-width="0.6"/>
<circle cx="372.72" cy="254.70" r="1.3" fill="#7d7d7d"/>
<polyline points="242.6,245.5 243.5,245.5 244.5,245.5 245.4,245.5 246.3,245.5 247.3,245.5 248.2,245.5 249.1,245.5 250.0,245.5 251.0,245.5 251.9,245.5 252.8,245.5 253.8,245.5 254.7,245.5 255.6,245.5 256.6,245.5 257.5,245.5 258.4,245.5 259.4,245.5 260.3,245.5 261.2,245.5 262.1,245.5 263.1,245.5 264.0,245.5 264.9,245.5 265.9,245.5 266.8,245.5 267.7,245.5 268.7,245.5 269.6,245.5 270.5,245.5 271.5,245.5 272.4,245.5 273.3,245.5 274.2,245.5 275.2,245.5 276.1,245.5 277.0,245.5 278.0,245.5 278.9,245.5 279.8,245.5 280.8,245.5 281.7,245.5 282.6,245.5 283.6,245.5 284.5,245.5 285.4,245.5 286.3,245.5 287.3,245.5 288.2,245.5 289.1,245.5 290.1,245.5 291.0,245.5 291.9,245.5 292.9,245.5 293.8,245.5 294.7,245.5 295.7,245.5 296.6,245.5 297.5,245.5 298.4,245.5 299.4,245.5 300.3,245.5 301.2,245.5 302.2,245.5 303.1,245.5 304.0,245.5 305.0,245.5 305.9,245.5 306.8,245.5 307.8,245.5 308.7,245.5 309.6,245.5 310.5,245.5 311.5,245.5 312.4,245.5 313.3,245.5 314.3,245.5 315.2,245.6 316.1,245.6 317.1,245.6 318.0,245.6 318.9,245.6 319.9,245.6 320.8,245.6 321.7,245.6 322.6,245.6 323.6,245.6 324.5,245.6 325.4,245.6 326.4,245.6 327.3,245.7 328.2,245.7 329.2,245.7 330.1,245.8 331.0,245.8 332.0,245.9 332.9,245.9 333.8,246.0 334.7,246.1 335.7,246.2 336.6,246.3 337.5,246.5 338.5,246.6 339.4,246.8 340.3,247.1 341.3,247.4 342.2,247.7 343.1,248.1 344.1,248.5 345.0,249.0 345.9,249.6 346.8,250.3 347.8,251.0 348.7,251.8 349.6,252.7 350.6,253.6 351.5,254.6 352.4,255.6 353.4,256.6 354.3,257.7 355.2,258.7 356.2,259.7 357.1,260.6 358.0,261.5 358.9,262.3 359.9,263.1 360.8,263.8 361.7,264.4 362.7,264.9 363.6,265.4 364.5,265.8 365.5,266.2 366.4,266.5 367.3,266.7 368.3,266.9 369.2,267.1 370.1,267.3 371.1,267.4 372.0,267.5 372.9,267.6" fill="none" stroke="#7d7d7d" stroke-width="0.75" stroke-dasharray="2.6,1.8"/>
<path d="M242.6 242.7V248.4M241.4 242.7h2.4M241.4 248.4h2.4" stroke="#7d7d7d" stroke-width="0.6"/>
<rect x="241.43" y="244.37" width="2.34" height="2.34" fill="#7d7d7d"/>
<path d="M258.9 242.7V248.4M257.7 242.7h2.4M257.7 248.4h2.4" stroke="#7d7d7d" stroke-width="0.6"/>
<rect x="257.69" y="244.37" width="2.34" height="2.34" fill="#7d7d7d"/>
<path d="M275.1 242.7V248.4M273.9 242.7h2.4M273.9 248.4h2.4" stroke="#7d7d7d" stroke-width="0.6"/>
<rect x="273.96" y="244.37" width="2.34" height="2.34" fill="#7d7d7d"/>
<path d="M291.4 242.7V248.4M290.2 242.7h2.4M290.2 248.4h2.4" stroke="#7d7d7d" stroke-width="0.6"/>
<rect x="290.22" y="244.37" width="2.34" height="2.34" fill="#7d7d7d"/>
<path d="M307.7 242.7V248.4M306.5 242.7h2.4M306.5 248.4h2.4" stroke="#7d7d7d" stroke-width="0.6"/>
<rect x="306.49" y="244.37" width="2.34" height="2.34" fill="#7d7d7d"/>
<path d="M323.9 242.8V248.4M322.7 242.8h2.4M322.7 248.4h2.4" stroke="#7d7d7d" stroke-width="0.6"/>
<rect x="322.75" y="244.43" width="2.34" height="2.34" fill="#7d7d7d"/>
<path d="M340.2 244.2V249.9M339.0 244.2h2.4M339.0 249.9h2.4" stroke="#7d7d7d" stroke-width="0.6"/>
<rect x="339.02" y="245.87" width="2.34" height="2.34" fill="#7d7d7d"/>
<path d="M356.5 257.2V262.8M355.3 257.2h2.4M355.3 262.8h2.4" stroke="#7d7d7d" stroke-width="0.6"/>
<rect x="355.28" y="258.81" width="2.34" height="2.34" fill="#7d7d7d"/>
<path d="M372.7 264.8V270.4M371.5 264.8h2.4M371.5 270.4h2.4" stroke="#7d7d7d" stroke-width="0.6"/>
<rect x="371.55" y="266.43" width="2.34" height="2.34" fill="#7d7d7d"/>
<polyline points="242.6,238.5 243.5,238.5 244.5,238.5 245.4,238.5 246.3,238.5 247.3,238.5 248.2,238.5 249.1,238.5 250.0,238.5 251.0,238.5 251.9,238.5 252.8,238.5 253.8,238.5 254.7,238.5 255.6,238.5 256.6,238.5 257.5,238.5 258.4,238.5 259.4,238.5 260.3,238.5 261.2,238.5 262.1,238.5 263.1,238.5 264.0,238.5 264.9,238.5 265.9,238.5 266.8,238.5 267.7,238.5 268.7,238.5 269.6,238.5 270.5,238.5 271.5,238.5 272.4,238.5 273.3,238.5 274.2,238.5 275.2,238.5 276.1,238.5 277.0,238.5 278.0,238.5 278.9,238.5 279.8,238.5 280.8,238.5 281.7,238.5 282.6,238.5 283.6,238.5 284.5,238.5 285.4,238.5 286.3,238.5 287.3,238.5 288.2,238.5 289.1,238.5 290.1,238.5 291.0,238.5 291.9,238.5 292.9,238.5 293.8,238.5 294.7,238.5 295.7,238.5 296.6,238.5 297.5,238.5 298.4,238.5 299.4,238.5 300.3,238.5 301.2,238.5 302.2,238.5 303.1,238.5 304.0,238.5 305.0,238.5 305.9,238.6 306.8,238.6 307.8,238.6 308.7,238.6 309.6,238.6 310.5,238.6 311.5,238.6 312.4,238.7 313.3,238.7 314.3,238.7 315.2,238.7 316.1,238.8 317.1,238.8 318.0,238.9 318.9,238.9 319.9,239.0 320.8,239.1 321.7,239.1 322.6,239.2 323.6,239.3 324.5,239.4 325.4,239.5 326.4,239.7 327.3,239.8 328.2,239.9 329.2,240.1 330.1,240.3 331.0,240.5 332.0,240.7 332.9,240.9 333.8,241.1 334.7,241.4 335.7,241.6 336.6,241.8 337.5,242.1 338.5,242.3 339.4,242.6 340.3,242.8 341.3,243.0 342.2,243.2 343.1,243.5 344.1,243.7 345.0,243.8 345.9,244.0 346.8,244.2 347.8,244.3 348.7,244.4 349.6,244.6 350.6,244.7 351.5,244.8 352.4,244.9 353.4,244.9 354.3,245.0 355.2,245.1 356.2,245.1 357.1,245.2 358.0,245.2 358.9,245.3 359.9,245.3 360.8,245.3 361.7,245.4 362.7,245.4 363.6,245.4 364.5,245.4 365.5,245.4 366.4,245.4 367.3,245.5 368.3,245.5 369.2,245.5 370.1,245.5 371.1,245.5 372.0,245.5 372.9,245.5" fill="none" stroke="#7d7d7d" stroke-width="0.75" stroke-dasharray="2.6,1.8"/>
<path d="M242.6 235.0V242.0M241.4 235.0h2.4M241.4 242.0h2.4" stroke="#7d7d7d" stroke-width="0.6"/>
<polygon points="242.6,236.9 241.1,239.5 244.1,239.5" fill="#7d7d7d"/>
<path d="M258.9 235.0V242.0M257.7 235.0h2.4M257.7 242.0h2.4" stroke="#7d7d7d" stroke-width="0.6"/>
<polygon points="258.9,236.9 257.4,239.5 260.3,239.5" fill="#7d7d7d"/>
<path d="M275.1 235.0V242.0M273.9 235.0h2.4M273.9 242.0h2.4" stroke="#7d7d7d" stroke-width="0.6"/>
<polygon points="275.1,236.9 273.6,239.5 276.6,239.5" fill="#7d7d7d"/>
<path d="M291.4 235.0V242.0M290.2 235.0h2.4M290.2 242.0h2.4" stroke="#7d7d7d" stroke-width="0.6"/>
<polygon points="291.4,236.9 289.9,239.5 292.9,239.5" fill="#7d7d7d"/>
<path d="M307.7 235.1V242.1M306.5 235.1h2.4M306.5 242.1h2.4" stroke="#7d7d7d" stroke-width="0.6"/>
<polygon points="307.7,237.0 306.2,239.6 309.1,239.6" fill="#7d7d7d"/>
<path d="M323.9 235.8V242.9M322.7 235.8h2.4M322.7 242.9h2.4" stroke="#7d7d7d" stroke-width="0.6"/>
<polygon points="323.9,237.8 322.4,240.4 325.4,240.4" fill="#7d7d7d"/>
<path d="M340.2 239.2V246.3M339.0 239.2h2.4M339.0 246.3h2.4" stroke="#7d7d7d" stroke-width="0.6"/>
<polygon points="340.2,241.2 338.7,243.8 341.7,243.8" fill="#7d7d7d"/>
<path d="M356.5 241.6V248.7M355.3 241.6h2.4M355.3 248.7h2.4" stroke="#7d7d7d" stroke-width="0.6"/>
<polygon points="356.5,243.6 355.0,246.2 357.9,246.2" fill="#7d7d7d"/>
<path d="M372.7 242.0V249.0M371.5 242.0h2.4M371.5 249.0h2.4" stroke="#7d7d7d" stroke-width="0.6"/>
<polygon points="372.7,243.9 371.2,246.5 374.2,246.5" fill="#7d7d7d"/>
<polyline points="242.6,256.8 243.5,256.8 244.5,256.8 245.4,256.8 246.3,256.8 247.3,256.8 248.2,256.8 249.1,256.8 250.0,256.8 251.0,256.8 251.9,256.8 252.8,256.8 253.8,256.8 254.7,256.8 255.6,256.8 256.6,256.8 257.5,256.8 258.4,256.8 259.4,256.8 260.3,256.8 261.2,256.8 262.1,256.8 263.1,256.8 264.0,256.8 264.9,256.9 265.9,256.9 266.8,256.9 267.7,256.9 268.7,256.9 269.6,256.9 270.5,256.9 271.5,256.9 272.4,256.9 273.3,256.9 274.2,256.9 275.2,256.9 276.1,256.9 277.0,256.9 278.0,256.9 278.9,256.9 279.8,257.0 280.8,257.0 281.7,257.0 282.6,257.0 283.6,257.0 284.5,257.0 285.4,257.0 286.3,257.0 287.3,257.1 288.2,257.1 289.1,257.1 290.1,257.1 291.0,257.2 291.9,257.2 292.9,257.2 293.8,257.2 294.7,257.3 295.7,257.3 296.6,257.3 297.5,257.3 298.4,257.4 299.4,257.4 300.3,257.4 301.2,257.5 302.2,257.5 303.1,257.5 304.0,257.6 305.0,257.6 305.9,257.6 306.8,257.7 307.8,257.7 308.7,257.7 309.6,257.8 310.5,257.8 311.5,257.8 312.4,257.8 313.3,257.9 314.3,257.9 315.2,257.9 316.1,257.9 317.1,258.0 318.0,258.0 318.9,258.0 319.9,258.0 320.8,258.0 321.7,258.0 322.6,258.1 323.6,258.1 324.5,258.1 325.4,258.1 326.4,258.1 327.3,258.1 328.2,258.1 329.2,258.1 330.1,258.1 331.0,258.1 332.0,258.2 332.9,258.2 333.8,258.2 334.7,258.2 335.7,258.2 336.6,258.2 337.5,258.2 338.5,258.2 339.4,258.2 340.3,258.2 341.3,258.2 342.2,258.2 343.1,258.2 344.1,258.2 345.0,258.2 345.9,258.2 346.8,258.2 347.8,258.2 348.7,258.2 349.6,258.2 350.6,258.2 351.5,258.2 352.4,258.2 353.4,258.2 354.3,258.2 355.2,258.2 356.2,258.2 357.1,258.2 358.0,258.2 358.9,258.2 359.9,258.2 360.8,258.2 361.7,258.2 362.7,258.2 363.6,258.2 364.5,258.2 365.5,258.2 366.4,258.2 367.3,258.2 368.3,258.2 369.2,258.2 370.1,258.2 371.1,258.2 372.0,258.2 372.9,258.2" fill="none" stroke="#7d7d7d" stroke-width="0.75" stroke-dasharray="2.6,1.8"/>
<path d="M242.6 253.3V260.3M241.4 253.3h2.4M241.4 260.3h2.4" stroke="#7d7d7d" stroke-width="0.6"/>
<circle cx="242.60" cy="256.82" r="1.3" fill="#7d7d7d"/>
<path d="M258.9 253.3V260.4M257.7 253.3h2.4M257.7 260.4h2.4" stroke="#7d7d7d" stroke-width="0.6"/>
<circle cx="258.86" cy="256.84" r="1.3" fill="#7d7d7d"/>
<path d="M275.1 253.4V260.4M273.9 253.4h2.4M273.9 260.4h2.4" stroke="#7d7d7d" stroke-width="0.6"/>
<circle cx="275.13" cy="256.90" r="1.3" fill="#7d7d7d"/>
<path d="M291.4 253.6V260.7M290.2 253.6h2.4M290.2 260.7h2.4" stroke="#7d7d7d" stroke-width="0.6"/>
<circle cx="291.39" cy="257.16" r="1.3" fill="#7d7d7d"/>
<path d="M307.7 254.2V261.2M306.5 254.2h2.4M306.5 261.2h2.4" stroke="#7d7d7d" stroke-width="0.6"/>
<circle cx="307.66" cy="257.69" r="1.3" fill="#7d7d7d"/>
<path d="M323.9 254.5V261.6M322.7 254.5h2.4M322.7 261.6h2.4" stroke="#7d7d7d" stroke-width="0.6"/>
<circle cx="323.92" cy="258.07" r="1.3" fill="#7d7d7d"/>
<path d="M340.2 254.7V261.7M339.0 254.7h2.4M339.0 261.7h2.4" stroke="#7d7d7d" stroke-width="0.6"/>
<circle cx="340.19" cy="258.20" r="1.3" fill="#7d7d7d"/>
<path d="M356.5 254.7V261.7M355.3 254.7h2.4M355.3 261.7h2.4" stroke="#7d7d7d" stroke-width="0.6"/>
<circle cx="356.45" cy="258.22" r="1.3" fill="#7d7d7d"/>
<path d="M372.7 254.7V261.8M371.5 254.7h2.4M371.5 261.8h2.4" stroke="#7d7d7d" stroke-width="0.6"/>
<circle cx="372.72" cy="258.23" r="1.3" fill="#7d7d7d"/>
<polyline points="242.6,259.6 243.5,259.6 244.5,259.6 245.4,259.6 246.3,259.6 247.3,259.6 248.2,259.6 249.1,259.6 250.0,259.6 251.0,259.6 251.9,259.6 252.8,259.6 253.8,259.6 254.7,259.6 255.6,259.6 256.6,259.6 257.5,259.6 258.4,259.6 259.4,259.6 260.3,259.7 261.2,259.7 262.1,259.7 263.1,259.7 264.0,259.7 264.9,259.7 265.9,259.7 266.8,259.7 267.7,259.7 268.7,259.7 269.6,259.7 270.5,259.7 271.5,259.7 272.4,259.7 273.3,259.7 274.2,259.7 275.2,259.7 276.1,259.7 277.0,259.7 278.0,259.7 278.9,259.7 279.8,259.7 280.8,259.7 281.7,259.7 282.6,259.7 283.6,259.7 284.5,259.7 285.4,259.7 286.3,259.8 287.3,259.8 288.2,259.8 289.1,259.8 290.1,259.8 291.0,259.8 291.9,259.8 292.9,259.8 293.8,259.8 294.7,259.9 295.7,259.9 296.6,259.9 297.5,259.9 298.4,259.9 299.4,259.9 300.3,259.9 301.2,260.0 302.2,260.0 303.1,260.0 304.0,260.0 305.0,260.0 305.9,260.0 306.8,260.1 307.8,260.1 308.7,260.1 309.6,260.1 310.5,260.1 311.5,260.1 312.4,260.1 313.3,260.2 314.3,260.2 315.2,260.2 316.1,260.2 317.1,260.2 318.0,260.2 318.9,260.2 319.9,260.2 320.8,260.2 321.7,260.3 322.6,260.3 323.6,260.3 324.5,260.3 325.4,260.3 326.4,260.3 327.3,260.3 328.2,260.3 329.2,260.3 330.1,260.3 331.0,260.3 332.0,260.3 332.9,260.3 333.8,260.3 334.7,260.3 335.7,260.3 336.6,260.3 337.5,260.3 338.5,260.3 339.4,260.3 340.3,260.3 341.3,260.3 342.2,260.3 343.1,260.3 344.1,260.3 345.0,260.3 345.9,260.3 346.8,260.3 347.8,260.3 348.7,260.3 349.6,260.3 350.6,260.3 351.5,260.3 352.4,260.3 353.4,260.3 354.3,260.3 355.2,260.3 356.2,260.3 357.1,260.3 358.0,260.3 358.9,260.3 359.9,260.3 360.8,260.3 361.7,260.3 362.7,260.3 363.6,260.3 364.5,260.3 365.5,260.3 366.4,260.3 367.3,260.3 368.3,260.3 369.2,260.3 370.1,260.3 371.1,260.3 372.0,260.3 372.9,260.3" fill="none" stroke="#7d7d7d" stroke-width="0.75" stroke-dasharray="2.6,1.8"/>
<path d="M242.6 256.8V262.5M241.4 256.8h2.4M241.4 262.5h2.4" stroke="#7d7d7d" stroke-width="0.6"/>
<polygon points="242.6,261.2 241.1,258.6 244.1,258.6" fill="#7d7d7d"/>
<path d="M258.9 256.8V262.5M257.7 256.8h2.4M257.7 262.5h2.4" stroke="#7d7d7d" stroke-width="0.6"/>
<polygon points="258.9,261.2 257.4,258.6 260.3,258.6" fill="#7d7d7d"/>
<path d="M275.1 256.9V262.5M273.9 256.9h2.4M273.9 262.5h2.4" stroke="#7d7d7d" stroke-width="0.6"/>
<polygon points="275.1,261.2 273.6,258.7 276.6,258.7" fill="#7d7d7d"/>
<path d="M291.4 257.0V262.6M290.2 257.0h2.4M290.2 262.6h2.4" stroke="#7d7d7d" stroke-width="0.6"/>
<polygon points="291.4,261.4 289.9,258.8 292.9,258.8" fill="#7d7d7d"/>
<path d="M307.7 257.3V262.9M306.5 257.3h2.4M306.5 262.9h2.4" stroke="#7d7d7d" stroke-width="0.6"/>
<polygon points="307.7,261.6 306.2,259.1 309.1,259.1" fill="#7d7d7d"/>
<path d="M323.9 257.4V263.1M322.7 257.4h2.4M322.7 263.1h2.4" stroke="#7d7d7d" stroke-width="0.6"/>
<polygon points="323.9,261.8 322.4,259.3 325.4,259.3" fill="#7d7d7d"/>
<path d="M340.2 257.5V263.1M339.0 257.5h2.4M339.0 263.1h2.4" stroke="#7d7d7d" stroke-width="0.6"/>
<polygon points="340.2,261.9 338.7,259.3 341.7,259.3" fill="#7d7d7d"/>
<path d="M356.5 257.5V263.2M355.3 257.5h2.4M355.3 263.2h2.4" stroke="#7d7d7d" stroke-width="0.6"/>
<polygon points="356.5,261.9 355.0,259.3 357.9,259.3" fill="#7d7d7d"/>
<path d="M372.7 257.5V263.2M371.5 257.5h2.4M371.5 263.2h2.4" stroke="#7d7d7d" stroke-width="0.6"/>
<polygon points="372.7,261.9 371.2,259.3 374.2,259.3" fill="#7d7d7d"/>
<polyline points="242.6,247.2 243.5,247.4 244.5,247.5 245.4,247.7 246.3,247.9 247.3,248.1 248.2,248.4 249.1,248.6 250.0,248.9 251.0,249.2 251.9,249.6 252.8,249.9 253.8,250.3 254.7,250.7 255.6,251.2 256.6,251.7 257.5,252.2 258.4,252.8 259.4,253.4 260.3,254.1 261.2,254.8 262.1,255.6 263.1,256.4 264.0,257.2 264.9,258.1 265.9,259.1 266.8,260.1 267.7,261.2 268.7,262.3 269.6,263.5 270.5,264.7 271.5,266.0 272.4,267.4 273.3,268.7 274.2,270.1 275.2,271.6 276.1,273.1 277.0,274.6 278.0,276.1 278.9,277.6 279.8,279.1 280.8,280.7 281.7,282.2 282.6,283.7 283.6,285.2 284.5,286.6 285.4,288.1 286.3,289.5 287.3,290.8 288.2,292.1 289.1,293.4 290.1,294.6 291.0,295.8 291.9,296.9 292.9,297.9 293.8,298.9 294.7,299.9 295.7,300.8 296.6,301.6 297.5,302.4 298.4,303.1 299.4,303.8 300.3,304.5 301.2,305.1 302.2,305.6 303.1,306.1 304.0,306.6 305.0,307.1 305.9,307.5 306.8,307.9 307.8,308.2 308.7,308.5 309.6,308.8 310.5,309.1 311.5,309.4 312.4,309.6 313.3,309.8 314.3,310.0 315.2,310.2 316.1,310.3 317.1,310.5 318.0,310.6 318.9,310.8 319.9,310.9 320.8,311.0 321.7,311.1 322.6,311.2 323.6,311.2 324.5,311.3 325.4,311.4 326.4,311.4 327.3,311.5 328.2,311.6 329.2,311.6 330.1,311.6 331.0,311.7 332.0,311.7 332.9,311.8 333.8,311.8 334.7,311.8 335.7,311.8 336.6,311.9 337.5,311.9 338.5,311.9 339.4,311.9 340.3,311.9 341.3,311.9 342.2,312.0 343.1,312.0 344.1,312.0 345.0,312.0 345.9,312.0 346.8,312.0 347.8,312.0 348.7,312.0 349.6,312.0 350.6,312.0 351.5,312.0 352.4,312.0 353.4,312.0 354.3,312.1 355.2,312.1 356.2,312.1 357.1,312.1 358.0,312.1 358.9,312.1 359.9,312.1 360.8,312.1 361.7,312.1 362.7,312.1 363.6,312.1 364.5,312.1 365.5,312.1 366.4,312.1 367.3,312.1 368.3,312.1 369.2,312.1 370.1,312.1 371.1,312.1 372.0,312.1 372.9,312.1" fill="none" stroke="#2020c0" stroke-width="1.0"/>
<path d="M242.6 245.8V248.6M241.4 245.8h2.4M241.4 248.6h2.4" stroke="#2020c0" stroke-width="0.6"/>
<polygon points="242.6,245.6 241.1,248.2 244.1,248.2" fill="#2020c0"/>
<path d="M258.9 251.7V254.5M257.7 251.7h2.4M257.7 254.5h2.4" stroke="#2020c0" stroke-width="0.6"/>
<polygon points="258.9,251.5 257.4,254.1 260.3,254.1" fill="#2020c0"/>
<path d="M275.1 270.1V272.9M273.9 270.1h2.4M273.9 272.9h2.4" stroke="#2020c0" stroke-width="0.6"/>
<polygon points="275.1,270.0 273.6,272.5 276.6,272.5" fill="#2020c0"/>
<path d="M291.4 294.8V297.7M290.2 294.8h2.4M290.2 297.7h2.4" stroke="#2020c0" stroke-width="0.6"/>
<polygon points="291.4,294.7 289.9,297.3 292.9,297.3" fill="#2020c0"/>
<path d="M307.7 306.8V309.6M306.5 306.8h2.4M306.5 309.6h2.4" stroke="#2020c0" stroke-width="0.6"/>
<polygon points="307.7,306.6 306.2,309.2 309.1,309.2" fill="#2020c0"/>
<path d="M323.9 309.9V312.7M322.7 309.9h2.4M322.7 312.7h2.4" stroke="#2020c0" stroke-width="0.6"/>
<polygon points="323.9,309.7 322.4,312.3 325.4,312.3" fill="#2020c0"/>
<path d="M340.2 310.5V313.3M339.0 310.5h2.4M339.0 313.3h2.4" stroke="#2020c0" stroke-width="0.6"/>
<polygon points="340.2,310.4 338.7,312.9 341.7,312.9" fill="#2020c0"/>
<path d="M356.5 310.6V313.5M355.3 310.6h2.4M355.3 313.5h2.4" stroke="#2020c0" stroke-width="0.6"/>
<polygon points="356.5,310.5 355.0,313.1 357.9,313.1" fill="#2020c0"/>
<path d="M372.7 310.7V313.5M371.5 310.7h2.4M371.5 313.5h2.4" stroke="#2020c0" stroke-width="0.6"/>
<polygon points="372.7,310.5 371.2,313.1 374.2,313.1" fill="#2020c0"/>
<polyline points="242.6,255.0 243.5,255.2 244.5,255.4 245.4,255.6 246.3,255.9 247.3,256.2 248.2,256.4 249.1,256.8 250.0,257.1 251.0,257.5 251.9,257.9 252.8,258.4 253.8,258.9 254.7,259.4 255.6,260.0 256.6,260.7 257.5,261.4 258.4,262.1 259.4,263.0 260.3,263.8 261.2,264.8 262.1,265.8 263.1,266.9 264.0,268.0 264.9,269.3 265.9,270.6 266.8,272.0 267.7,273.4 268.7,274.9 269.6,276.5 270.5,278.1 271.5,279.8 272.4,281.6 273.3,283.4 274.2,285.2 275.2,287.0 276.1,288.9 277.0,290.7 278.0,292.6 278.9,294.5 279.8,296.3 280.8,298.1 281.7,299.8 282.6,301.6 283.6,303.2 284.5,304.8 285.4,306.4 286.3,307.8 287.3,309.2 288.2,310.5 289.1,311.8 290.1,313.0 291.0,314.1 291.9,315.1 292.9,316.1 293.8,317.0 294.7,317.9 295.7,318.6 296.6,319.4 297.5,320.0 298.4,320.6 299.4,321.2 300.3,321.7 301.2,322.2 302.2,322.6 303.1,323.0 304.0,323.4 305.0,323.7 305.9,324.0 306.8,324.3 307.8,324.5 308.7,324.8 309.6,325.0 310.5,325.2 311.5,325.3 312.4,325.5 313.3,325.6 314.3,325.7 315.2,325.9 316.1,326.0 317.1,326.1 318.0,326.2 318.9,326.2 319.9,326.3 320.8,326.4 321.7,326.4 322.6,326.5 323.6,326.5 324.5,326.6 325.4,326.6 326.4,326.6 327.3,326.7 328.2,326.7 329.2,326.7 330.1,326.7 331.0,326.8 332.0,326.8 332.9,326.8 333.8,326.8 334.7,326.8 335.7,326.8 336.6,326.9 337.5,326.9 338.5,326.9 339.4,326.9 340.3,326.9 341.3,326.9 342.2,326.9 343.1,326.9 344.1,326.9 345.0,326.9 345.9,326.9 346.8,326.9 347.8,326.9 348.7,326.9 349.6,326.9 350.6,326.9 351.5,326.9 352.4,326.9 353.4,326.9 354.3,327.0 355.2,327.0 356.2,327.0 357.1,327.0 358.0,327.0 358.9,327.0 359.9,327.0 360.8,327.0 361.7,327.0 362.7,327.0 363.6,327.0 364.5,327.0 365.5,327.0 366.4,327.0 367.3,327.0 368.3,327.0 369.2,327.0 370.1,327.0 371.1,327.0 372.0,327.0 372.9,327.0" fill="none" stroke="#157015" stroke-width="1.0"/>
<path d="M242.6 253.6V256.5M241.4 253.6h2.4M241.4 256.5h2.4" stroke="#157015" stroke-width="0.6"/>
<polygon points="242.6,253.5 241.1,256.1 244.1,256.1" fill="#157015"/>
<path d="M258.9 261.1V263.9M257.7 261.1h2.4M257.7 263.9h2.4" stroke="#157015" stroke-width="0.6"/>
<polygon points="258.9,261.0 257.4,263.5 260.3,263.5" fill="#157015"/>
<path d="M275.1 285.5V288.3M273.9 285.5h2.4M273.9 288.3h2.4" stroke="#157015" stroke-width="0.6"/>
<polygon points="275.1,285.4 273.6,287.9 276.6,287.9" fill="#157015"/>
<path d="M291.4 313.1V316.0M290.2 313.1h2.4M290.2 316.0h2.4" stroke="#157015" stroke-width="0.6"/>
<polygon points="291.4,313.0 289.9,315.6 292.9,315.6" fill="#157015"/>
<path d="M307.7 323.1V325.9M306.5 323.1h2.4M306.5 325.9h2.4" stroke="#157015" stroke-width="0.6"/>
<polygon points="307.7,322.9 306.2,325.5 309.1,325.5" fill="#157015"/>
<path d="M323.9 325.1V327.9M322.7 325.1h2.4M322.7 327.9h2.4" stroke="#157015" stroke-width="0.6"/>
<polygon points="323.9,325.0 322.4,327.6 325.4,327.6" fill="#157015"/>
<path d="M340.2 325.5V328.3M339.0 325.5h2.4M339.0 328.3h2.4" stroke="#157015" stroke-width="0.6"/>
<polygon points="340.2,325.3 338.7,327.9 341.7,327.9" fill="#157015"/>
<path d="M356.5 325.5V328.4M355.3 325.5h2.4M355.3 328.4h2.4" stroke="#157015" stroke-width="0.6"/>
<polygon points="356.5,325.4 355.0,328.0 357.9,328.0" fill="#157015"/>
<path d="M372.7 325.6V328.4M371.5 325.6h2.4M371.5 328.4h2.4" stroke="#157015" stroke-width="0.6"/>
<polygon points="372.7,325.4 371.2,328.0 374.2,328.0" fill="#157015"/>
<polyline points="242.6,252.6 243.5,252.7 244.5,252.7 245.4,252.8 246.3,252.9 247.3,253.0 248.2,253.2 249.1,253.3 250.0,253.4 251.0,253.6 251.9,253.8 252.8,254.0 253.8,254.2 254.7,254.4 255.6,254.7 256.6,255.0 257.5,255.3 258.4,255.6 259.4,256.0 260.3,256.4 261.2,256.9 262.1,257.4 263.1,257.9 264.0,258.5 264.9,259.1 265.9,259.8 266.8,260.6 267.7,261.4 268.7,262.3 269.6,263.2 270.5,264.2 271.5,265.3 272.4,266.5 273.3,267.7 274.2,269.0 275.2,270.4 276.1,271.8 277.0,273.4 278.0,275.0 278.9,276.6 279.8,278.3 280.8,280.1 281.7,281.9 282.6,283.8 283.6,285.7 284.5,287.6 285.4,289.5 286.3,291.4 287.3,293.3 288.2,295.2 289.1,297.1 290.1,298.9 291.0,300.7 291.9,302.5 292.9,304.2 293.8,305.8 294.7,307.3 295.7,308.8 296.6,310.2 297.5,311.5 298.4,312.8 299.4,314.0 300.3,315.1 301.2,316.1 302.2,317.1 303.1,318.0 304.0,318.8 305.0,319.6 305.9,320.3 306.8,321.0 307.8,321.6 308.7,322.1 309.6,322.6 310.5,323.1 311.5,323.5 312.4,323.9 313.3,324.3 314.3,324.6 315.2,324.9 316.1,325.2 317.1,325.4 318.0,325.6 318.9,325.9 319.9,326.0 320.8,326.2 321.7,326.4 322.6,326.5 323.6,326.6 324.5,326.7 325.4,326.8 326.4,326.9 327.3,327.0 328.2,327.1 329.2,327.2 330.1,327.2 331.0,327.3 332.0,327.3 332.9,327.4 333.8,327.4 334.7,327.5 335.7,327.5 336.6,327.5 337.5,327.5 338.5,327.6 339.4,327.6 340.3,327.6 341.3,327.6 342.2,327.7 343.1,327.7 344.1,327.7 345.0,327.7 345.9,327.7 346.8,327.7 347.8,327.7 348.7,327.7 349.6,327.7 350.6,327.7 351.5,327.8 352.4,327.8 353.4,327.8 354.3,327.8 355.2,327.8 356.2,327.8 357.1,327.8 358.0,327.8 358.9,327.8 359.9,327.8 360.8,327.8 361.7,327.8 362.7,327.8 363.6,327.8 364.5,327.8 365.5,327.8 366.4,327.8 367.3,327.8 368.3,327.8 369.2,327.8 370.1,327.8 371.1,327.8 372.0,327.8 372.9,327.8" fill="none" stroke="#ff8020" stroke-width="1.0"/>
<path d="M242.6 251.2V254.0M241.4 251.2h2.4M241.4 254.0h2.4" stroke="#ff8020" stroke-width="0.6"/>
<rect x="241.43" y="251.41" width="2.34" height="2.34" fill="#ff8020"/>
<path d="M258.9 254.4V257.2M257.7 254.4h2.4M257.7 257.2h2.4" stroke="#ff8020" stroke-width="0.6"/>
<rect x="257.69" y="254.65" width="2.34" height="2.34" fill="#ff8020"/>
<path d="M275.1 268.9V271.7M273.9 268.9h2.4M273.9 271.7h2.4" stroke="#ff8020" stroke-width="0.6"/>
<rect x="273.96" y="269.15" width="2.34" height="2.34" fill="#ff8020"/>
<path d="M291.4 300.1V302.9M290.2 300.1h2.4M290.2 302.9h2.4" stroke="#ff8020" stroke-width="0.6"/>
<rect x="290.22" y="300.31" width="2.34" height="2.34" fill="#ff8020"/>
<path d="M307.7 320.1V322.9M306.5 320.1h2.4M306.5 322.9h2.4" stroke="#ff8020" stroke-width="0.6"/>
<rect x="306.49" y="320.35" width="2.34" height="2.34" fill="#ff8020"/>
<path d="M323.9 325.3V328.1M322.7 325.3h2.4M322.7 328.1h2.4" stroke="#ff8020" stroke-width="0.6"/>
<rect x="322.75" y="325.49" width="2.34" height="2.34" fill="#ff8020"/>
<path d="M340.2 326.2V329.0M339.0 326.2h2.4M339.0 329.0h2.4" stroke="#ff8020" stroke-width="0.6"/>
<rect x="339.02" y="326.44" width="2.34" height="2.34" fill="#ff8020"/>
<path d="M356.5 326.4V329.2M355.3 326.4h2.4M355.3 329.2h2.4" stroke="#ff8020" stroke-width="0.6"/>
<rect x="355.28" y="326.61" width="2.34" height="2.34" fill="#ff8020"/>
<path d="M372.7 326.4V329.2M371.5 326.4h2.4M371.5 329.2h2.4" stroke="#ff8020" stroke-width="0.6"/>
<rect x="371.55" y="326.64" width="2.34" height="2.34" fill="#ff8020"/>
<polyline points="242.6,252.9 243.5,253.0 244.5,253.0 245.4,253.1 246.3,253.1 247.3,253.2 248.2,253.3 249.1,253.3 250.0,253.4 251.0,253.5 251.9,253.6 252.8,253.8 253.8,253.9 254.7,254.1 255.6,254.3 256.6,254.5 257.5,254.7 258.4,254.9 259.4,255.2 260.3,255.5 261.2,255.9 262.1,256.3 263.1,256.7 264.0,257.1 264.9,257.6 265.9,258.2 266.8,258.8 267.7,259.4 268.7,260.1 269.6,260.9 270.5,261.7 271.5,262.5 272.4,263.4 273.3,264.4 274.2,265.4 275.2,266.4 276.1,267.5 277.0,268.6 278.0,269.7 278.9,270.9 279.8,272.0 280.8,273.2 281.7,274.3 282.6,275.4 283.6,276.5 284.5,277.6 285.4,278.6 286.3,279.6 287.3,280.5 288.2,281.4 289.1,282.3 290.1,283.1 291.0,283.8 291.9,284.5 292.9,285.1 293.8,285.7 294.7,286.2 295.7,286.7 296.6,287.1 297.5,287.5 298.4,287.9 299.4,288.2 300.3,288.5 301.2,288.8 302.2,289.0 303.1,289.2 304.0,289.4 305.0,289.6 305.9,289.7 306.8,289.9 307.8,290.0 308.7,290.1 309.6,290.2 310.5,290.3 311.5,290.4 312.4,290.5 313.3,290.5 314.3,290.6 315.2,290.6 316.1,290.7 317.1,290.7 318.0,290.7 318.9,290.8 319.9,290.8 320.8,290.8 321.7,290.8 322.6,290.9 323.6,290.9 324.5,290.9 325.4,290.9 326.4,290.9 327.3,290.9 328.2,290.9 329.2,290.9 330.1,291.0 331.0,291.0 332.0,291.0 332.9,291.0 333.8,291.0 334.7,291.0 335.7,291.0 336.6,291.0 337.5,291.0 338.5,291.0 339.4,291.0 340.3,291.0 341.3,291.0 342.2,291.0 343.1,291.0 344.1,291.0 345.0,291.0 345.9,291.0 346.8,291.0 347.8,291.0 348.7,291.0 349.6,291.0 350.6,291.0 351.5,291.0 352.4,291.0 353.4,291.0 354.3,291.0 355.2,291.0 356.2,291.0 357.1,291.0 358.0,291.0 358.9,291.0 359.9,291.0 360.8,291.0 361.7,291.0 362.7,291.0 363.6,291.0 364.5,291.0 365.5,291.0 366.4,291.0 367.3,291.0 368.3,291.0 369.2,291.0 370.1,291.0 371.1,291.0 372.0,291.0 372.9,291.0" fill="none" stroke="#30d030" stroke-width="1.0"/>
<path d="M242.6 250.8V255.0M241.4 250.8h2.4M241.4 255.0h2.4" stroke="#30d030" stroke-width="0.6"/>
<polygon points="242.6,251.4 241.1,253.9 244.1,253.9" fill="#30d030"/>
<path d="M258.9 253.0V257.2M257.7 253.0h2.4M257.7 257.2h2.4" stroke="#30d030" stroke-width="0.6"/>
<polygon points="258.9,253.5 257.4,256.1 260.3,256.1" fill="#30d030"/>
<path d="M275.1 264.3V268.5M273.9 264.3h2.4M273.9 268.5h2.4" stroke="#30d030" stroke-width="0.6"/>
<polygon points="275.1,264.8 273.6,267.4 276.6,267.4" fill="#30d030"/>
<path d="M291.4 282.0V286.2M290.2 282.0h2.4M290.2 286.2h2.4" stroke="#30d030" stroke-width="0.6"/>
<polygon points="291.4,282.5 289.9,285.1 292.9,285.1" fill="#30d030"/>
<path d="M307.7 287.9V292.1M306.5 287.9h2.4M306.5 292.1h2.4" stroke="#30d030" stroke-width="0.6"/>
<polygon points="307.7,288.4 306.2,291.0 309.1,291.0" fill="#30d030"/>
<path d="M323.9 288.8V293.0M322.7 288.8h2.4M322.7 293.0h2.4" stroke="#30d030" stroke-width="0.6"/>
<polygon points="323.9,289.3 322.4,291.9 325.4,291.9" fill="#30d030"/>
<path d="M340.2 288.9V293.1M339.0 288.9h2.4M339.0 293.1h2.4" stroke="#30d030" stroke-width="0.6"/>
<polygon points="340.2,289.4 338.7,292.0 341.7,292.0" fill="#30d030"/>
<path d="M356.5 288.9V293.1M355.3 288.9h2.4M355.3 293.1h2.4" stroke="#30d030" stroke-width="0.6"/>
<polygon points="356.5,289.5 355.0,292.0 357.9,292.0" fill="#30d030"/>
<path d="M372.7 288.9V293.1M371.5 288.9h2.4M371.5 293.1h2.4" stroke="#30d030" stroke-width="0.6"/>
<polygon points="372.7,289.5 371.2,292.0 374.2,292.0" fill="#30d030"/>
<polyline points="242.6,248.6 243.5,248.6 244.5,248.6 245.4,248.6 246.3,248.7 247.3,248.7 248.2,248.7 249.1,248.8 250.0,248.8 251.0,248.9 251.9,248.9 252.8,249.0 253.8,249.0 254.7,249.1 255.6,249.2 256.6,249.3 257.5,249.4 258.4,249.5 259.4,249.6 260.3,249.7 261.2,249.9 262.1,250.0 263.1,250.2 264.0,250.4 264.9,250.6 265.9,250.8 266.8,251.0 267.7,251.3 268.7,251.6 269.6,251.9 270.5,252.2 271.5,252.6 272.4,253.0 273.3,253.4 274.2,253.9 275.2,254.4 276.1,254.9 277.0,255.5 278.0,256.1 278.9,256.7 279.8,257.4 280.8,258.1 281.7,258.9 282.6,259.7 283.6,260.5 284.5,261.4 285.4,262.3 286.3,263.2 287.3,264.1 288.2,265.1 289.1,266.1 290.1,267.0 291.0,268.0 291.9,269.0 292.9,270.0 293.8,270.9 294.7,271.9 295.7,272.8 296.6,273.7 297.5,274.6 298.4,275.4 299.4,276.2 300.3,277.0 301.2,277.8 302.2,278.5 303.1,279.1 304.0,279.7 305.0,280.3 305.9,280.9 306.8,281.4 307.8,281.9 308.7,282.3 309.6,282.7 310.5,283.1 311.5,283.5 312.4,283.8 313.3,284.1 314.3,284.4 315.2,284.6 316.1,284.8 317.1,285.0 318.0,285.2 318.9,285.4 319.9,285.6 320.8,285.7 321.7,285.8 322.6,286.0 323.6,286.1 324.5,286.2 325.4,286.3 326.4,286.3 327.3,286.4 328.2,286.5 329.2,286.6 330.1,286.6 331.0,286.7 332.0,286.7 332.9,286.7 333.8,286.8 334.7,286.8 335.7,286.8 336.6,286.9 337.5,286.9 338.5,286.9 339.4,286.9 340.3,287.0 341.3,287.0 342.2,287.0 343.1,287.0 344.1,287.0 345.0,287.0 345.9,287.0 346.8,287.0 347.8,287.1 348.7,287.1 349.6,287.1 350.6,287.1 351.5,287.1 352.4,287.1 353.4,287.1 354.3,287.1 355.2,287.1 356.2,287.1 357.1,287.1 358.0,287.1 358.9,287.1 359.9,287.1 360.8,287.1 361.7,287.1 362.7,287.1 363.6,287.1 364.5,287.1 365.5,287.1 366.4,287.1 367.3,287.1 368.3,287.1 369.2,287.1 370.1,287.1 371.1,287.1 372.0,287.1 372.9,287.1" fill="none" stroke="#a0602a" stroke-width="1.0"/>
<path d="M242.6 247.2V250.0M241.4 247.2h2.4M241.4 250.0h2.4" stroke="#a0602a" stroke-width="0.6"/>
<polygon points="242.6,250.1 241.1,247.6 244.1,247.6" fill="#a0602a"/>
<path d="M258.9 248.1V250.9M257.7 248.1h2.4M257.7 250.9h2.4" stroke="#a0602a" stroke-width="0.6"/>
<polygon points="258.9,251.1 257.4,248.5 260.3,248.5" fill="#a0602a"/>
<path d="M275.1 252.9V255.8M273.9 252.9h2.4M273.9 255.8h2.4" stroke="#a0602a" stroke-width="0.6"/>
<polygon points="275.1,255.9 273.6,253.3 276.6,253.3" fill="#a0602a"/>
<path d="M291.4 267.0V269.8M290.2 267.0h2.4M290.2 269.8h2.4" stroke="#a0602a" stroke-width="0.6"/>
<polygon points="291.4,270.0 289.9,267.4 292.9,267.4" fill="#a0602a"/>
<path d="M307.7 280.4V283.2M306.5 280.4h2.4M306.5 283.2h2.4" stroke="#a0602a" stroke-width="0.6"/>
<polygon points="307.7,283.4 306.2,280.8 309.1,280.8" fill="#a0602a"/>
<path d="M323.9 284.7V287.5M322.7 284.7h2.4M322.7 287.5h2.4" stroke="#a0602a" stroke-width="0.6"/>
<polygon points="323.9,287.7 322.4,285.1 325.4,285.1" fill="#a0602a"/>
<path d="M340.2 285.5V288.4M339.0 285.5h2.4M339.0 288.4h2.4" stroke="#a0602a" stroke-width="0.6"/>
<polygon points="340.2,288.5 338.7,285.9 341.7,285.9" fill="#a0602a"/>
<path d="M356.5 285.7V288.5M355.3 285.7h2.4M355.3 288.5h2.4" stroke="#a0602a" stroke-width="0.6"/>
<polygon points="356.5,288.7 355.0,286.1 357.9,286.1" fill="#a0602a"/>
<path d="M372.7 285.7V288.5M371.5 285.7h2.4M371.5 288.5h2.4" stroke="#a0602a" stroke-width="0.6"/>
<polygon points="372.7,288.7 371.2,286.1 374.2,286.1" fill="#a0602a"/>
<polyline points="242.6,250.5 243.5,250.5 244.5,250.6 245.4,250.6 246.3,250.6 247.3,250.6 248.2,250.6 249.1,250.6 250.0,250.6 251.0,250.7 251.9,250.7 252.8,250.7 253.8,250.8 254.7,250.8 255.6,250.9 256.6,250.9 257.5,251.0 258.4,251.1 259.4,251.2 260.3,251.3 261.2,251.4 262.1,251.5 263.1,251.7 264.0,251.8 264.9,252.0 265.9,252.3 266.8,252.5 267.7,252.8 268.7,253.1 269.6,253.5 270.5,253.9 271.5,254.4 272.4,255.0 273.3,255.6 274.2,256.3 275.2,257.1 276.1,258.0 277.0,259.0 278.0,260.0 278.9,261.3 279.8,262.6 280.8,264.1 281.7,265.7 282.6,267.4 283.6,269.2 284.5,271.2 285.4,273.4 286.3,275.6 287.3,277.9 288.2,280.3 289.1,282.8 290.1,285.3 291.0,287.8 291.9,290.4 292.9,292.9 293.8,295.3 294.7,297.7 295.7,299.9 296.6,302.1 297.5,304.2 298.4,306.1 299.4,307.9 300.3,309.5 301.2,311.0 302.2,312.4 303.1,313.7 304.0,314.8 305.0,315.9 305.9,316.8 306.8,317.6 307.8,318.4 308.7,319.0 309.6,319.6 310.5,320.1 311.5,320.6 312.4,321.0 313.3,321.3 314.3,321.6 315.2,321.9 316.1,322.1 317.1,322.3 318.0,322.5 318.9,322.7 319.9,322.8 320.8,323.0 321.7,323.1 322.6,323.2 323.6,323.2 324.5,323.3 325.4,323.4 326.4,323.4 327.3,323.5 328.2,323.5 329.2,323.6 330.1,323.6 331.0,323.6 332.0,323.6 332.9,323.7 333.8,323.7 334.7,323.7 335.7,323.7 336.6,323.7 337.5,323.7 338.5,323.7 339.4,323.7 340.3,323.7 341.3,323.8 342.2,323.8 343.1,323.8 344.1,323.8 345.0,323.8 345.9,323.8 346.8,323.8 347.8,323.8 348.7,323.8 349.6,323.8 350.6,323.8 351.5,323.8 352.4,323.8 353.4,323.8 354.3,323.8 355.2,323.8 356.2,323.8 357.1,323.8 358.0,323.8 358.9,323.8 359.9,323.8 360.8,323.8 361.7,323.8 362.7,323.8 363.6,323.8 364.5,323.8 365.5,323.8 366.4,323.8 367.3,323.8 368.3,323.8 369.2,323.8 370.1,323.8 371.1,323.8 372.0,323.8 372.9,323.8" fill="none" stroke="#c0c020" stroke-width="1.0"/>
<path d="M242.6 249.1V251.9M241.4 249.1h2.4M241.4 251.9h2.4" stroke="#c0c020" stroke-width="0.6"/>
<polygon points="242.6,249.0 241.1,251.5 244.1,251.5" fill="#c0c020"/>
<path d="M258.9 249.7V252.5M257.7 249.7h2.4M257.7 252.5h2.4" stroke="#c0c020" stroke-width="0.6"/>
<polygon points="258.9,249.6 257.4,252.1 260.3,252.1" fill="#c0c020"/>
<path d="M275.1 255.6V258.5M273.9 255.6h2.4M273.9 258.5h2.4" stroke="#c0c020" stroke-width="0.6"/>
<polygon points="275.1,255.5 273.6,258.1 276.6,258.1" fill="#c0c020"/>
<path d="M291.4 287.5V290.3M290.2 287.5h2.4M290.2 290.3h2.4" stroke="#c0c020" stroke-width="0.6"/>
<polygon points="291.4,287.3 289.9,289.9 292.9,289.9" fill="#c0c020"/>
<path d="M307.7 316.9V319.7M306.5 316.9h2.4M306.5 319.7h2.4" stroke="#c0c020" stroke-width="0.6"/>
<polygon points="307.7,316.7 306.2,319.3 309.1,319.3" fill="#c0c020"/>
<path d="M323.9 321.9V324.7M322.7 321.9h2.4M322.7 324.7h2.4" stroke="#c0c020" stroke-width="0.6"/>
<polygon points="323.9,321.7 322.4,324.3 325.4,324.3" fill="#c0c020"/>
<path d="M340.2 322.3V325.2M339.0 322.3h2.4M339.0 325.2h2.4" stroke="#c0c020" stroke-width="0.6"/>
<polygon points="340.2,322.2 338.7,324.8 341.7,324.8" fill="#c0c020"/>
<path d="M356.5 322.4V325.2M355.3 322.4h2.4M355.3 325.2h2.4" stroke="#c0c020" stroke-width="0.6"/>
<polygon points="356.5,322.2 355.0,324.8 357.9,324.8" fill="#c0c020"/>
<path d="M372.7 322.4V325.2M371.5 322.4h2.4M371.5 325.2h2.4" stroke="#c0c020" stroke-width="0.6"/>
<polygon points="372.7,322.2 371.2,324.8 374.2,324.8" fill="#c0c020"/>
<polyline points="242.6,248.4 243.5,248.4 244.5,248.4 245.4,248.4 246.3,248.4 247.3,248.4 248.2,248.4 249.1,248.4 250.0,248.4 251.0,248.4 251.9,248.4 252.8,248.4 253.8,248.4 254.7,248.4 255.6,248.4 256.6,248.4 257.5,248.4 258.4,248.4 259.4,248.4 260.3,248.4 261.2,248.4 262.1,248.4 263.1,248.4 264.0,248.4 264.9,248.5 265.9,248.5 266.8,248.5 267.7,248.5 268.7,248.6 269.6,248.6 270.5,248.7 271.5,248.7 272.4,248.8 273.3,248.9 274.2,249.0 275.2,249.1 276.1,249.3 277.0,249.5 278.0,249.7 278.9,249.9 279.8,250.2 280.8,250.6 281.7,251.0 282.6,251.6 283.6,252.2 284.5,252.9 285.4,253.7 286.3,254.7 287.3,255.9 288.2,257.2 289.1,258.7 290.1,260.4 291.0,262.3 291.9,264.5 292.9,266.8 293.8,269.4 294.7,272.1 295.7,275.0 296.6,278.0 297.5,281.1 298.4,284.2 299.4,287.2 300.3,290.2 301.2,293.0 302.2,295.6 303.1,298.1 304.0,300.3 305.0,302.4 305.9,304.2 306.8,305.8 307.8,307.2 308.7,308.4 309.6,309.5 310.5,310.4 311.5,311.2 312.4,311.8 313.3,312.4 314.3,312.9 315.2,313.3 316.1,313.6 317.1,313.9 318.0,314.1 318.9,314.3 319.9,314.5 320.8,314.6 321.7,314.8 322.6,314.9 323.6,314.9 324.5,315.0 325.4,315.1 326.4,315.1 327.3,315.1 328.2,315.2 329.2,315.2 330.1,315.2 331.0,315.2 332.0,315.3 332.9,315.3 333.8,315.3 334.7,315.3 335.7,315.3 336.6,315.3 337.5,315.3 338.5,315.3 339.4,315.3 340.3,315.3 341.3,315.3 342.2,315.3 343.1,315.3 344.1,315.3 345.0,315.3 345.9,315.3 346.8,315.3 347.8,315.3 348.7,315.3 349.6,315.3 350.6,315.3 351.5,315.3 352.4,315.3 353.4,315.3 354.3,315.3 355.2,315.3 356.2,315.3 357.1,315.3 358.0,315.3 358.9,315.3 359.9,315.3 360.8,315.3 361.7,315.3 362.7,315.3 363.6,315.3 364.5,315.3 365.5,315.3 366.4,315.3 367.3,315.3 368.3,315.3 369.2,315.3 370.1,315.3 371.1,315.3 372.0,315.3 372.9,315.3" fill="none" stroke="#20c090" stroke-width="1.0"/>
<path d="M242.6 247.0V249.8M241.4 247.0h2.4M241.4 249.8h2.4" stroke="#20c090" stroke-width="0.6"/>
<polygon points="242.6,246.8 241.1,249.4 244.1,249.4" fill="#20c090"/>
<path d="M258.9 247.0V249.8M257.7 247.0h2.4M257.7 249.8h2.4" stroke="#20c090" stroke-width="0.6"/>
<polygon points="258.9,246.8 257.4,249.4 260.3,249.4" fill="#20c090"/>
<path d="M275.1 247.7V250.5M273.9 247.7h2.4M273.9 250.5h2.4" stroke="#20c090" stroke-width="0.6"/>
<polygon points="275.1,247.6 273.6,250.1 276.6,250.1" fill="#20c090"/>
<path d="M291.4 261.8V264.6M290.2 261.8h2.4M290.2 264.6h2.4" stroke="#20c090" stroke-width="0.6"/>
<polygon points="291.4,261.6 289.9,264.2 292.9,264.2" fill="#20c090"/>
<path d="M307.7 305.7V308.5M306.5 305.7h2.4M306.5 308.5h2.4" stroke="#20c090" stroke-width="0.6"/>
<polygon points="307.7,305.5 306.2,308.1 309.1,308.1" fill="#20c090"/>
<path d="M323.9 313.6V316.4M322.7 313.6h2.4M322.7 316.4h2.4" stroke="#20c090" stroke-width="0.6"/>
<polygon points="323.9,313.4 322.4,316.0 325.4,316.0" fill="#20c090"/>
<path d="M340.2 313.9V316.7M339.0 313.9h2.4M339.0 316.7h2.4" stroke="#20c090" stroke-width="0.6"/>
<polygon points="340.2,313.8 338.7,316.3 341.7,316.3" fill="#20c090"/>
<path d="M356.5 313.9V316.7M355.3 313.9h2.4M355.3 316.7h2.4" stroke="#20c090" stroke-width="0.6"/>
<polygon points="356.5,313.8 355.0,316.3 357.9,316.3" fill="#20c090"/>
<path d="M372.7 313.9V316.7M371.5 313.9h2.4M371.5 316.7h2.4" stroke="#20c090" stroke-width="0.6"/>
<polygon points="372.7,313.8 371.2,316.3 374.2,316.3" fill="#20c090"/>
<polyline points="242.6,254.2 243.5,254.2 244.5,254.3 245.4,254.3 246.3,254.3 247.3,254.4 248.2,254.4 249.1,254.4 250.0,254.5 251.0,254.5 251.9,254.6 252.8,254.6 253.8,254.7 254.7,254.7 255.6,254.8 256.6,254.9 257.5,255.0 258.4,255.0 259.4,255.1 260.3,255.3 261.2,255.4 262.1,255.5 263.1,255.6 264.0,255.8 264.9,255.9 265.9,256.1 266.8,256.3 267.7,256.5 268.7,256.8 269.6,257.0 270.5,257.3 271.5,257.6 272.4,257.9 273.3,258.2 274.2,258.6 275.2,259.0 276.1,259.4 277.0,259.9 278.0,260.3 278.9,260.9 279.8,261.4 280.8,262.0 281.7,262.6 282.6,263.3 283.6,263.9 284.5,264.7 285.4,265.4 286.3,266.2 287.3,267.1 288.2,267.9 289.1,268.8 290.1,269.7 291.0,270.7 291.9,271.6 292.9,272.6 293.8,273.6 294.7,274.6 295.7,275.6 296.6,276.6 297.5,277.6 298.4,278.6 299.4,279.6 300.3,280.5 301.2,281.5 302.2,282.4 303.1,283.3 304.0,284.2 305.0,285.0 305.9,285.9 306.8,286.6 307.8,287.4 308.7,288.1 309.6,288.8 310.5,289.4 311.5,290.0 312.4,290.6 313.3,291.1 314.3,291.6 315.2,292.1 316.1,292.5 317.1,292.9 318.0,293.3 318.9,293.6 319.9,294.0 320.8,294.3 321.7,294.6 322.6,294.8 323.6,295.1 324.5,295.3 325.4,295.5 326.4,295.7 327.3,295.8 328.2,296.0 329.2,296.1 330.1,296.3 331.0,296.4 332.0,296.5 332.9,296.6 333.8,296.7 334.7,296.8 335.7,296.9 336.6,296.9 337.5,297.0 338.5,297.1 339.4,297.1 340.3,297.2 341.3,297.2 342.2,297.3 343.1,297.3 344.1,297.3 345.0,297.4 345.9,297.4 346.8,297.4 347.8,297.5 348.7,297.5 349.6,297.5 350.6,297.5 351.5,297.5 352.4,297.5 353.4,297.6 354.3,297.6 355.2,297.6 356.2,297.6 357.1,297.6 358.0,297.6 358.9,297.6 359.9,297.6 360.8,297.6 361.7,297.6 362.7,297.7 363.6,297.7 364.5,297.7 365.5,297.7 366.4,297.7 367.3,297.7 368.3,297.7 369.2,297.7 370.1,297.7 371.1,297.7 372.0,297.7 372.9,297.7" fill="none" stroke="#2080a0" stroke-width="1.0"/>
<path d="M242.6 252.8V255.6M241.4 252.8h2.4M241.4 255.6h2.4" stroke="#2080a0" stroke-width="0.6"/>
<polygon points="242.6,252.7 241.1,255.2 244.1,255.2" fill="#2080a0"/>
<path d="M258.9 253.7V256.5M257.7 253.7h2.4M257.7 256.5h2.4" stroke="#2080a0" stroke-width="0.6"/>
<polygon points="258.9,253.5 257.4,256.1 260.3,256.1" fill="#2080a0"/>
<path d="M275.1 257.6V260.4M273.9 257.6h2.4M273.9 260.4h2.4" stroke="#2080a0" stroke-width="0.6"/>
<polygon points="275.1,257.4 273.6,260.0 276.6,260.0" fill="#2080a0"/>
<path d="M291.4 269.6V272.5M290.2 269.6h2.4M290.2 272.5h2.4" stroke="#2080a0" stroke-width="0.6"/>
<polygon points="291.4,269.5 289.9,272.1 292.9,272.1" fill="#2080a0"/>
<path d="M307.7 285.9V288.7M306.5 285.9h2.4M306.5 288.7h2.4" stroke="#2080a0" stroke-width="0.6"/>
<polygon points="307.7,285.7 306.2,288.3 309.1,288.3" fill="#2080a0"/>
<path d="M323.9 293.7V296.5M322.7 293.7h2.4M322.7 296.5h2.4" stroke="#2080a0" stroke-width="0.6"/>
<polygon points="323.9,293.6 322.4,296.2 325.4,296.2" fill="#2080a0"/>
<path d="M340.2 295.8V298.6M339.0 295.8h2.4M339.0 298.6h2.4" stroke="#2080a0" stroke-width="0.6"/>
<polygon points="340.2,295.6 338.7,298.2 341.7,298.2" fill="#2080a0"/>
<path d="M356.5 296.2V299.0M355.3 296.2h2.4M355.3 299.0h2.4" stroke="#2080a0" stroke-width="0.6"/>
<polygon points="356.5,296.0 355.0,298.6 357.9,298.6" fill="#2080a0"/>
<path d="M372.7 296.3V299.1M371.5 296.3h2.4M371.5 299.1h2.4" stroke="#2080a0" stroke-width="0.6"/>
<polygon points="372.7,296.1 371.2,298.7 374.2,298.7" fill="#2080a0"/>
<polyline points="242.6,254.0 243.5,254.1 244.5,254.1 245.4,254.1 246.3,254.1 247.3,254.1 248.2,254.1 249.1,254.2 250.0,254.2 251.0,254.3 251.9,254.3 252.8,254.4 253.8,254.4 254.7,254.5 255.6,254.6 256.6,254.8 257.5,254.9 258.4,255.1 259.4,255.3 260.3,255.5 261.2,255.8 262.1,256.2 263.1,256.6 264.0,257.0 264.9,257.6 265.9,258.2 266.8,258.9 267.7,259.7 268.7,260.5 269.6,261.5 270.5,262.5 271.5,263.6 272.4,264.8 273.3,266.0 274.2,267.3 275.2,268.5 276.1,269.7 277.0,270.9 278.0,272.1 278.9,273.2 279.8,274.2 280.8,275.1 281.7,275.9 282.6,276.6 283.6,277.3 284.5,277.9 285.4,278.3 286.3,278.8 287.3,279.1 288.2,279.5 289.1,279.7 290.1,280.0 291.0,280.1 291.9,280.3 292.9,280.4 293.8,280.6 294.7,280.7 295.7,280.7 296.6,280.8 297.5,280.9 298.4,280.9 299.4,280.9 300.3,281.0 301.2,281.0 302.2,281.0 303.1,281.0 304.0,281.1 305.0,281.1 305.9,281.1 306.8,281.1 307.8,281.1 308.7,281.1 309.6,281.1 310.5,281.1 311.5,281.1 312.4,281.1 313.3,281.1 314.3,281.1 315.2,281.1 316.1,281.1 317.1,281.1 318.0,281.1 318.9,281.1 319.9,281.1 320.8,281.1 321.7,281.1 322.6,281.1 323.6,281.1 324.5,281.1 325.4,281.1 326.4,281.1 327.3,281.1 328.2,281.1 329.2,281.1 330.1,281.1 331.0,281.1 332.0,281.1 332.9,281.1 333.8,281.1 334.7,281.1 335.7,281.1 336.6,281.1 337.5,281.1 338.5,281.1 339.4,281.1 340.3,281.1 341.3,281.1 342.2,281.1 343.1,281.1 344.1,281.1 345.0,281.1 345.9,281.1 346.8,281.1 347.8,281.1 348.7,281.1 349.6,281.1 350.6,281.1 351.5,281.1 352.4,281.1 353.4,281.1 354.3,281.1 355.2,281.1 356.2,281.1 357.1,281.1 358.0,281.1 358.9,281.1 359.9,281.1 360.8,281.1 361.7,281.1 362.7,281.1 363.6,281.1 364.5,281.1 365.5,281.1 366.4,281.1 367.3,281.1 368.3,281.1 369.2,281.1 370.1,281.1 371.1,281.1 372.0,281.1 372.9,281.1" fill="none" stroke="#8a30c0" stroke-width="1.0"/>
<path d="M242.6 251.9V256.2M241.4 251.9h2.4M241.4 256.2h2.4" stroke="#8a30c0" stroke-width="0.6"/>
<polygon points="242.6,252.5 241.1,255.1 244.1,255.1" fill="#8a30c0"/>
<path d="M258.9 253.1V257.3M257.7 253.1h2.4M257.7 257.3h2.4" stroke="#8a30c0" stroke-width="0.6"/>
<polygon points="258.9,253.6 257.4,256.2 260.3,256.2" fill="#8a30c0"/>
<path d="M275.1 266.3V270.6M273.9 266.3h2.4M273.9 270.6h2.4" stroke="#8a30c0" stroke-width="0.6"/>
<polygon points="275.1,266.9 273.6,269.5 276.6,269.5" fill="#8a30c0"/>
<path d="M291.4 278.1V282.3M290.2 278.1h2.4M290.2 282.3h2.4" stroke="#8a30c0" stroke-width="0.6"/>
<polygon points="291.4,278.7 289.9,281.2 292.9,281.2" fill="#8a30c0"/>
<path d="M307.7 279.0V283.2M306.5 279.0h2.4M306.5 283.2h2.4" stroke="#8a30c0" stroke-width="0.6"/>
<polygon points="307.7,279.5 306.2,282.1 309.1,282.1" fill="#8a30c0"/>
<path d="M323.9 279.0V283.3M322.7 279.0h2.4M322.7 283.3h2.4" stroke="#8a30c0" stroke-width="0.6"/>
<polygon points="323.9,279.6 322.4,282.2 325.4,282.2" fill="#8a30c0"/>
<path d="M340.2 279.0V283.3M339.0 279.0h2.4M339.0 283.3h2.4" stroke="#8a30c0" stroke-width="0.6"/>
<polygon points="340.2,279.6 338.7,282.2 341.7,282.2" fill="#8a30c0"/>
<path d="M356.5 279.0V283.3M355.3 279.0h2.4M355.3 283.3h2.4" stroke="#8a30c0" stroke-width="0.6"/>
<polygon points="356.5,279.6 355.0,282.2 357.9,282.2" fill="#8a30c0"/>
<path d="M372.7 279.0V283.3M371.5 279.0h2.4M371.5 283.3h2.4" stroke="#8a30c0" stroke-width="0.6"/>
<polygon points="372.7,279.6 371.2,282.2 374.2,282.2" fill="#8a30c0"/>
<polyline points="242.6,269.0 243.5,269.1 244.5,269.2 245.4,269.3 246.3,269.4 247.3,269.5 248.2,269.7 249.1,269.8 250.0,270.0 251.0,270.1 251.9,270.3 252.8,270.5 253.8,270.7 254.7,271.0 255.6,271.2 256.6,271.5 257.5,271.8 258.4,272.2 259.4,272.5 260.3,272.9 261.2,273.3 262.1,273.8 263.1,274.3 264.0,274.8 264.9,275.4 265.9,276.0 266.8,276.6 267.7,277.3 268.7,278.0 269.6,278.8 270.5,279.6 271.5,280.4 272.4,281.3 273.3,282.3 274.2,283.2 275.2,284.3 276.1,285.3 277.0,286.4 278.0,287.5 278.9,288.7 279.8,289.9 280.8,291.1 281.7,292.3 282.6,293.5 283.6,294.8 284.5,296.0 285.4,297.3 286.3,298.5 287.3,299.7 288.2,300.9 289.1,302.1 290.1,303.2 291.0,304.3 291.9,305.4 292.9,306.4 293.8,307.4 294.7,308.4 295.7,309.3 296.6,310.2 297.5,311.0 298.4,311.8 299.4,312.5 300.3,313.2 301.2,313.9 302.2,314.5 303.1,315.1 304.0,315.6 305.0,316.1 305.9,316.6 306.8,317.0 307.8,317.4 308.7,317.8 309.6,318.1 310.5,318.4 311.5,318.7 312.4,319.0 313.3,319.2 314.3,319.5 315.2,319.7 316.1,319.9 317.1,320.0 318.0,320.2 318.9,320.4 319.9,320.5 320.8,320.6 321.7,320.7 322.6,320.8 323.6,320.9 324.5,321.0 325.4,321.1 326.4,321.2 327.3,321.2 328.2,321.3 329.2,321.4 330.1,321.4 331.0,321.5 332.0,321.5 332.9,321.5 333.8,321.6 334.7,321.6 335.7,321.6 336.6,321.7 337.5,321.7 338.5,321.7 339.4,321.7 340.3,321.8 341.3,321.8 342.2,321.8 343.1,321.8 344.1,321.8 345.0,321.8 345.9,321.8 346.8,321.9 347.8,321.9 348.7,321.9 349.6,321.9 350.6,321.9 351.5,321.9 352.4,321.9 353.4,321.9 354.3,321.9 355.2,321.9 356.2,321.9 357.1,321.9 358.0,321.9 358.9,321.9 359.9,321.9 360.8,321.9 361.7,321.9 362.7,321.9 363.6,321.9 364.5,321.9 365.5,321.9 366.4,321.9 367.3,321.9 368.3,321.9 369.2,322.0 370.1,322.0 371.1,322.0 372.0,322.0 372.9,322.0" fill="none" stroke="#f87878" stroke-width="1.0"/>
<path d="M242.6 265.5V272.5M241.4 265.5h2.4M241.4 272.5h2.4" stroke="#f87878" stroke-width="0.6"/>
<polygon points="242.6,267.4 241.1,270.0 244.1,270.0" fill="#f87878"/>
<path d="M258.9 268.8V275.9M257.7 268.8h2.4M257.7 275.9h2.4" stroke="#f87878" stroke-width="0.6"/>
<polygon points="258.9,270.8 257.4,273.3 260.3,273.3" fill="#f87878"/>
<path d="M275.1 280.7V287.7M273.9 280.7h2.4M273.9 287.7h2.4" stroke="#f87878" stroke-width="0.6"/>
<polygon points="275.1,282.6 273.6,285.2 276.6,285.2" fill="#f87878"/>
<path d="M291.4 301.2V308.3M290.2 301.2h2.4M290.2 308.3h2.4" stroke="#f87878" stroke-width="0.6"/>
<polygon points="291.4,303.2 289.9,305.8 292.9,305.8" fill="#f87878"/>
<path d="M307.7 313.8V320.9M306.5 313.8h2.4M306.5 320.9h2.4" stroke="#f87878" stroke-width="0.6"/>
<polygon points="307.7,315.8 306.2,318.4 309.1,318.4" fill="#f87878"/>
<path d="M323.9 317.4V324.5M322.7 317.4h2.4M322.7 324.5h2.4" stroke="#f87878" stroke-width="0.6"/>
<polygon points="323.9,319.4 322.4,322.0 325.4,322.0" fill="#f87878"/>
<path d="M340.2 318.2V325.3M339.0 318.2h2.4M339.0 325.3h2.4" stroke="#f87878" stroke-width="0.6"/>
<polygon points="340.2,320.2 338.7,322.8 341.7,322.8" fill="#f87878"/>
<path d="M356.5 318.4V325.4M355.3 318.4h2.4M355.3 325.4h2.4" stroke="#f87878" stroke-width="0.6"/>
<polygon points="356.5,320.4 355.0,322.9 357.9,322.9" fill="#f87878"/>
<path d="M372.7 318.4V325.5M371.5 318.4h2.4M371.5 325.5h2.4" stroke="#f87878" stroke-width="0.6"/>
<polygon points="372.7,320.4 371.2,323.0 374.2,323.0" fill="#f87878"/>
<polyline points="242.6,254.3 243.5,254.4 244.5,254.4 245.4,254.5 246.3,254.5 247.3,254.6 248.2,254.6 249.1,254.7 250.0,254.8 251.0,254.9 251.9,255.0 252.8,255.2 253.8,255.3 254.7,255.5 255.6,255.7 256.6,255.9 257.5,256.1 258.4,256.4 259.4,256.6 260.3,257.0 261.2,257.3 262.1,257.7 263.1,258.2 264.0,258.6 264.9,259.2 265.9,259.8 266.8,260.5 267.7,261.2 268.7,262.0 269.6,262.9 270.5,263.8 271.5,264.8 272.4,266.0 273.3,267.2 274.2,268.5 275.2,269.8 276.1,271.3 277.0,272.8 278.0,274.5 278.9,276.2 279.8,277.9 280.8,279.7 281.7,281.6 282.6,283.5 283.6,285.4 284.5,287.3 285.4,289.1 286.3,291.0 287.3,292.8 288.2,294.6 289.1,296.3 290.1,298.0 291.0,299.6 291.9,301.1 292.9,302.5 293.8,303.8 294.7,305.0 295.7,306.2 296.6,307.3 297.5,308.2 298.4,309.1 299.4,310.0 300.3,310.7 301.2,311.4 302.2,312.0 303.1,312.6 304.0,313.1 305.0,313.6 305.9,314.0 306.8,314.4 307.8,314.7 308.7,315.0 309.6,315.3 310.5,315.5 311.5,315.7 312.4,315.9 313.3,316.1 314.3,316.2 315.2,316.4 316.1,316.5 317.1,316.6 318.0,316.7 318.9,316.8 319.9,316.8 320.8,316.9 321.7,317.0 322.6,317.0 323.6,317.1 324.5,317.1 325.4,317.2 326.4,317.2 327.3,317.2 328.2,317.2 329.2,317.3 330.1,317.3 331.0,317.3 332.0,317.3 332.9,317.3 333.8,317.3 334.7,317.4 335.7,317.4 336.6,317.4 337.5,317.4 338.5,317.4 339.4,317.4 340.3,317.4 341.3,317.4 342.2,317.4 343.1,317.4 344.1,317.4 345.0,317.4 345.9,317.4 346.8,317.4 347.8,317.4 348.7,317.4 349.6,317.4 350.6,317.4 351.5,317.4 352.4,317.4 353.4,317.4 354.3,317.4 355.2,317.4 356.2,317.4 357.1,317.4 358.0,317.4 358.9,317.4 359.9,317.4 360.8,317.4 361.7,317.4 362.7,317.4 363.6,317.4 364.5,317.4 365.5,317.4 366.4,317.4 367.3,317.4 368.3,317.4 369.2,317.4 370.1,317.4 371.1,317.4 372.0,317.4 372.9,317.4" fill="none" stroke="#a01010" stroke-width="1.0"/>
<path d="M242.6 252.2V256.4M241.4 252.2h2.4M241.4 256.4h2.4" stroke="#a01010" stroke-width="0.6"/>
<polygon points="242.6,252.8 241.1,255.3 244.1,255.3" fill="#a01010"/>
<path d="M258.9 254.4V258.6M257.7 254.4h2.4M257.7 258.6h2.4" stroke="#a01010" stroke-width="0.6"/>
<polygon points="258.9,254.9 257.4,257.5 260.3,257.5" fill="#a01010"/>
<path d="M275.1 267.6V271.9M273.9 267.6h2.4M273.9 271.9h2.4" stroke="#a01010" stroke-width="0.6"/>
<polygon points="275.1,268.2 273.6,270.8 276.6,270.8" fill="#a01010"/>
<path d="M291.4 298.1V302.3M290.2 298.1h2.4M290.2 302.3h2.4" stroke="#a01010" stroke-width="0.6"/>
<polygon points="291.4,298.6 289.9,301.2 292.9,301.2" fill="#a01010"/>
<path d="M307.7 312.5V316.8M306.5 312.5h2.4M306.5 316.8h2.4" stroke="#a01010" stroke-width="0.6"/>
<polygon points="307.7,313.1 306.2,315.7 309.1,315.7" fill="#a01010"/>
<path d="M323.9 315.0V319.2M322.7 315.0h2.4M322.7 319.2h2.4" stroke="#a01010" stroke-width="0.6"/>
<polygon points="323.9,315.5 322.4,318.1 325.4,318.1" fill="#a01010"/>
<path d="M340.2 315.3V319.5M339.0 315.3h2.4M339.0 319.5h2.4" stroke="#a01010" stroke-width="0.6"/>
<polygon points="340.2,315.8 338.7,318.4 341.7,318.4" fill="#a01010"/>
<path d="M356.5 315.3V319.6M355.3 315.3h2.4M355.3 319.6h2.4" stroke="#a01010" stroke-width="0.6"/>
<polygon points="356.5,315.9 355.0,318.5 357.9,318.5" fill="#a01010"/>
<path d="M372.7 315.3V319.6M371.5 315.3h2.4M371.5 319.6h2.4" stroke="#a01010" stroke-width="0.6"/>
<polygon points="372.7,315.9 371.2,318.5 374.2,318.5" fill="#a01010"/>
<polyline points="242.6,261.1 243.5,261.1 244.5,261.1 245.4,261.2 246.3,261.2 247.3,261.2 248.2,261.2 249.1,261.2 250.0,261.2 251.0,261.2 251.9,261.3 252.8,261.3 253.8,261.3 254.7,261.4 255.6,261.4 256.6,261.4 257.5,261.5 258.4,261.5 259.4,261.6 260.3,261.6 261.2,261.7 262.1,261.8 263.1,261.9 264.0,262.0 264.9,262.1 265.9,262.2 266.8,262.3 267.7,262.4 268.7,262.6 269.6,262.8 270.5,263.0 271.5,263.2 272.4,263.4 273.3,263.7 274.2,264.0 275.2,264.3 276.1,264.6 277.0,265.0 278.0,265.4 278.9,265.9 279.8,266.4 280.8,266.9 281.7,267.5 282.6,268.1 283.6,268.8 284.5,269.5 285.4,270.2 286.3,271.0 287.3,271.9 288.2,272.8 289.1,273.8 290.1,274.8 291.0,275.8 291.9,276.8 292.9,277.9 293.8,279.0 294.7,280.2 295.7,281.3 296.6,282.4 297.5,283.6 298.4,284.7 299.4,285.8 300.3,286.9 301.2,287.9 302.2,288.9 303.1,289.9 304.0,290.8 305.0,291.7 305.9,292.5 306.8,293.3 307.8,294.1 308.7,294.8 309.6,295.4 310.5,296.0 311.5,296.6 312.4,297.1 313.3,297.5 314.3,298.0 315.2,298.4 316.1,298.7 317.1,299.1 318.0,299.4 318.9,299.6 319.9,299.9 320.8,300.1 321.7,300.3 322.6,300.5 323.6,300.7 324.5,300.8 325.4,301.0 326.4,301.1 327.3,301.2 328.2,301.3 329.2,301.4 330.1,301.5 331.0,301.5 332.0,301.6 332.9,301.6 333.8,301.7 334.7,301.7 335.7,301.8 336.6,301.8 337.5,301.9 338.5,301.9 339.4,301.9 340.3,301.9 341.3,302.0 342.2,302.0 343.1,302.0 344.1,302.0 345.0,302.0 345.9,302.0 346.8,302.1 347.8,302.1 348.7,302.1 349.6,302.1 350.6,302.1 351.5,302.1 352.4,302.1 353.4,302.1 354.3,302.1 355.2,302.1 356.2,302.1 357.1,302.1 358.0,302.1 358.9,302.1 359.9,302.1 360.8,302.1 361.7,302.1 362.7,302.1 363.6,302.1 364.5,302.1 365.5,302.1 366.4,302.1 367.3,302.1 368.3,302.1 369.2,302.1 370.1,302.1 371.1,302.1 372.0,302.1 372.9,302.1" fill="none" stroke="#ff1493" stroke-width="1.0"/>
<path d="M242.6 259.0V263.2M241.4 259.0h2.4M241.4 263.2h2.4" stroke="#ff1493" stroke-width="0.6"/>
<polygon points="242.6,259.6 241.1,262.1 244.1,262.1" fill="#ff1493"/>
<path d="M258.9 259.4V263.7M257.7 259.4h2.4M257.7 263.7h2.4" stroke="#ff1493" stroke-width="0.6"/>
<polygon points="258.9,260.0 257.4,262.6 260.3,262.6" fill="#ff1493"/>
<path d="M275.1 262.1V266.4M273.9 262.1h2.4M273.9 266.4h2.4" stroke="#ff1493" stroke-width="0.6"/>
<polygon points="275.1,262.7 273.6,265.3 276.6,265.3" fill="#ff1493"/>
<path d="M291.4 274.1V278.3M290.2 274.1h2.4M290.2 278.3h2.4" stroke="#ff1493" stroke-width="0.6"/>
<polygon points="291.4,274.7 289.9,277.2 292.9,277.2" fill="#ff1493"/>
<path d="M307.7 291.9V296.1M306.5 291.9h2.4M306.5 296.1h2.4" stroke="#ff1493" stroke-width="0.6"/>
<polygon points="307.7,292.4 306.2,295.0 309.1,295.0" fill="#ff1493"/>
<path d="M323.9 298.6V302.8M322.7 298.6h2.4M322.7 302.8h2.4" stroke="#ff1493" stroke-width="0.6"/>
<polygon points="323.9,299.2 322.4,301.7 325.4,301.7" fill="#ff1493"/>
<path d="M340.2 299.8V304.1M339.0 299.8h2.4M339.0 304.1h2.4" stroke="#ff1493" stroke-width="0.6"/>
<polygon points="340.2,300.4 338.7,303.0 341.7,303.0" fill="#ff1493"/>
<path d="M356.5 300.0V304.2M355.3 300.0h2.4M355.3 304.2h2.4" stroke="#ff1493" stroke-width="0.6"/>
<polygon points="356.5,300.6 355.0,303.1 357.9,303.1" fill="#ff1493"/>
<path d="M372.7 300.0V304.3M371.5 300.0h2.4M371.5 304.3h2.4" stroke="#ff1493" stroke-width="0.6"/>
<polygon points="372.7,300.6 371.2,303.2 374.2,303.2" fill="#ff1493"/>
<polyline points="242.6,259.7 243.5,259.7 244.5,259.7 245.4,259.7 246.3,259.7 247.3,259.7 248.2,259.7 249.1,259.8 250.0,259.8 251.0,259.8 251.9,259.8 252.8,259.8 253.8,259.8 254.7,259.8 255.6,259.9 256.6,259.9 257.5,259.9 258.4,259.9 259.4,260.0 260.3,260.0 261.2,260.0 262.1,260.0 263.1,260.1 264.0,260.1 264.9,260.2 265.9,260.2 266.8,260.3 267.7,260.3 268.7,260.4 269.6,260.5 270.5,260.6 271.5,260.6 272.4,260.7 273.3,260.8 274.2,260.9 275.2,261.1 276.1,261.2 277.0,261.3 278.0,261.5 278.9,261.6 279.8,261.8 280.8,262.0 281.7,262.2 282.6,262.4 283.6,262.6 284.5,262.9 285.4,263.2 286.3,263.4 287.3,263.7 288.2,264.1 289.1,264.4 290.1,264.8 291.0,265.1 291.9,265.5 292.9,266.0 293.8,266.4 294.7,266.8 295.7,267.3 296.6,267.8 297.5,268.3 298.4,268.8 299.4,269.3 300.3,269.8 301.2,270.4 302.2,270.9 303.1,271.5 304.0,272.0 305.0,272.5 305.9,273.1 306.8,273.6 307.8,274.1 308.7,274.6 309.6,275.1 310.5,275.6 311.5,276.0 312.4,276.5 313.3,276.9 314.3,277.3 315.2,277.7 316.1,278.1 317.1,278.4 318.0,278.8 318.9,279.1 319.9,279.4 320.8,279.6 321.7,279.9 322.6,280.1 323.6,280.4 324.5,280.6 325.4,280.8 326.4,281.0 327.3,281.1 328.2,281.3 329.2,281.4 330.1,281.6 331.0,281.7 332.0,281.8 332.9,281.9 333.8,282.0 334.7,282.1 335.7,282.2 336.6,282.2 337.5,282.3 338.5,282.4 339.4,282.4 340.3,282.5 341.3,282.5 342.2,282.6 343.1,282.6 344.1,282.7 345.0,282.7 345.9,282.7 346.8,282.7 347.8,282.8 348.7,282.8 349.6,282.8 350.6,282.8 351.5,282.9 352.4,282.9 353.4,282.9 354.3,282.9 355.2,282.9 356.2,282.9 357.1,282.9 358.0,282.9 358.9,283.0 359.9,283.0 360.8,283.0 361.7,283.0 362.7,283.0 363.6,283.0 364.5,283.0 365.5,283.0 366.4,283.0 367.3,283.0 368.3,283.0 369.2,283.0 370.1,283.0 371.1,283.0 372.0,283.0 372.9,283.0" fill="none" stroke="#d0206a" stroke-width="1.0"/>
<path d="M242.6 257.6V261.8M241.4 257.6h2.4M241.4 261.8h2.4" stroke="#d0206a" stroke-width="0.6"/>
<polygon points="242.6,258.1 241.1,260.7 244.1,260.7" fill="#d0206a"/>
<path d="M258.9 257.8V262.1M257.7 257.8h2.4M257.7 262.1h2.4" stroke="#d0206a" stroke-width="0.6"/>
<polygon points="258.9,258.4 257.4,260.9 260.3,260.9" fill="#d0206a"/>
<path d="M275.1 258.9V263.2M273.9 258.9h2.4M273.9 263.2h2.4" stroke="#d0206a" stroke-width="0.6"/>
<polygon points="275.1,259.5 273.6,262.1 276.6,262.1" fill="#d0206a"/>
<path d="M291.4 263.2V267.4M290.2 263.2h2.4M290.2 267.4h2.4" stroke="#d0206a" stroke-width="0.6"/>
<polygon points="291.4,263.8 289.9,266.3 292.9,266.3" fill="#d0206a"/>
<path d="M307.7 271.9V276.2M306.5 271.9h2.4M306.5 276.2h2.4" stroke="#d0206a" stroke-width="0.6"/>
<polygon points="307.7,272.5 306.2,275.1 309.1,275.1" fill="#d0206a"/>
<path d="M323.9 278.3V282.6M322.7 278.3h2.4M322.7 282.6h2.4" stroke="#d0206a" stroke-width="0.6"/>
<polygon points="323.9,278.9 322.4,281.5 325.4,281.5" fill="#d0206a"/>
<path d="M340.2 280.4V284.6M339.0 280.4h2.4M339.0 284.6h2.4" stroke="#d0206a" stroke-width="0.6"/>
<polygon points="340.2,280.9 338.7,283.5 341.7,283.5" fill="#d0206a"/>
<path d="M356.5 280.8V285.0M355.3 280.8h2.4M355.3 285.0h2.4" stroke="#d0206a" stroke-width="0.6"/>
<polygon points="356.5,281.4 355.0,283.9 357.9,283.9" fill="#d0206a"/>
<path d="M372.7 280.9V285.1M371.5 280.9h2.4M371.5 285.1h2.4" stroke="#d0206a" stroke-width="0.6"/>
<polygon points="372.7,281.5 371.2,284.0 374.2,284.0" fill="#d0206a"/>
<polyline points="242.6,239.9 243.5,239.9 244.5,239.9 245.4,239.9 246.3,239.9 247.3,239.9 248.2,239.9 249.1,239.9 250.0,239.9 251.0,239.9 251.9,239.9 252.8,239.9 253.8,239.9 254.7,239.9 255.6,239.9 256.6,239.9 257.5,239.9 258.4,239.9 259.4,239.9 260.3,239.9 261.2,239.9 262.1,239.9 263.1,239.9 264.0,239.9 264.9,239.9 265.9,239.9 266.8,239.9 267.7,239.9 268.7,239.9 269.6,239.9 270.5,239.9 271.5,239.9 272.4,239.9 273.3,239.9 274.2,239.9 275.2,239.9 276.1,239.9 277.0,239.9 278.0,239.9 278.9,239.9 279.8,239.9 280.8,239.9 281.7,239.9 282.6,239.9 283.6,239.9 284.5,239.9 285.4,239.9 286.3,239.9 287.3,239.9 288.2,239.9 289.1,239.9 290.1,239.9 291.0,239.9 291.9,239.9 292.9,239.9 293.8,239.9 294.7,239.9 295.7,239.9 296.6,239.9 297.5,239.9 298.4,239.9 299.4,239.9 300.3,239.9 301.2,240.0 302.2,240.0 303.1,240.0 304.0,240.0 305.0,240.1 305.9,240.2 306.8,240.2 307.8,240.3 308.7,240.5 309.6,240.6 310.5,240.9 311.5,241.2 312.4,241.5 313.3,242.0 314.3,242.6 315.2,243.3 316.1,244.2 317.1,245.2 318.0,246.4 318.9,247.8 319.9,249.3 320.8,250.8 321.7,252.3 322.6,253.9 323.6,255.3 324.5,256.6 325.4,257.7 326.4,258.6 327.3,259.4 328.2,260.1 329.2,260.6 330.1,261.0 331.0,261.4 332.0,261.6 332.9,261.8 333.8,262.0 334.7,262.1 335.7,262.2 336.6,262.2 337.5,262.3 338.5,262.3 339.4,262.4 340.3,262.4 341.3,262.4 342.2,262.4 343.1,262.4 344.1,262.4 345.0,262.4 345.9,262.4 346.8,262.4 347.8,262.5 348.7,262.5 349.6,262.5 350.6,262.5 351.5,262.5 352.4,262.5 353.4,262.5 354.3,262.5 355.2,262.5 356.2,262.5 357.1,262.5 358.0,262.5 358.9,262.5 359.9,262.5 360.8,262.5 361.7,262.5 362.7,262.5 363.6,262.5 364.5,262.5 365.5,262.5 366.4,262.5 367.3,262.5 368.3,262.5 369.2,262.5 370.1,262.5 371.1,262.5 372.0,262.5 372.9,262.5" fill="none" stroke="#ffb870" stroke-width="1.0"/>
<path d="M242.6 238.5V241.3M241.4 238.5h2.4M241.4 241.3h2.4" stroke="#ffb870" stroke-width="0.6"/>
<polygon points="242.6,238.3 241.1,240.9 244.1,240.9" fill="#ffb870"/>
<path d="M258.9 238.5V241.3M257.7 238.5h2.4M257.7 241.3h2.4" stroke="#ffb870" stroke-width="0.6"/>
<polygon points="258.9,238.3 257.4,240.9 260.3,240.9" fill="#ffb870"/>
<path d="M275.1 238.5V241.3M273.9 238.5h2.4M273.9 241.3h2.4" stroke="#ffb870" stroke-width="0.6"/>
<polygon points="275.1,238.3 273.6,240.9 276.6,240.9" fill="#ffb870"/>
<path d="M291.4 238.5V241.3M290.2 238.5h2.4M290.2 241.3h2.4" stroke="#ffb870" stroke-width="0.6"/>
<polygon points="291.4,238.3 289.9,240.9 292.9,240.9" fill="#ffb870"/>
<path d="M307.7 238.9V241.7M306.5 238.9h2.4M306.5 241.7h2.4" stroke="#ffb870" stroke-width="0.6"/>
<polygon points="307.7,238.8 306.2,241.3 309.1,241.3" fill="#ffb870"/>
<path d="M323.9 254.4V257.2M322.7 254.4h2.4M322.7 257.2h2.4" stroke="#ffb870" stroke-width="0.6"/>
<polygon points="323.9,254.2 322.4,256.8 325.4,256.8" fill="#ffb870"/>
<path d="M340.2 261.0V263.8M339.0 261.0h2.4M339.0 263.8h2.4" stroke="#ffb870" stroke-width="0.6"/>
<polygon points="340.2,260.8 338.7,263.4 341.7,263.4" fill="#ffb870"/>
<path d="M356.5 261.0V263.9M355.3 261.0h2.4M355.3 263.9h2.4" stroke="#ffb870" stroke-width="0.6"/>
<polygon points="356.5,260.9 355.0,263.5 357.9,263.5" fill="#ffb870"/>
<path d="M372.7 261.0V263.9M371.5 261.0h2.4M371.5 263.9h2.4" stroke="#ffb870" stroke-width="0.6"/>
<polygon points="372.7,260.9 371.2,263.5 374.2,263.5" fill="#ffb870"/>
<line x1="233.4" y1="225.3" x2="233.4" y2="331.9" stroke="#4a4a4a" stroke-width="1.15"/>
<line x1="232.9" y1="331.4" x2="372.9" y2="331.4" stroke="#1a1a1a" stroke-width="1.1"/>
<line x1="231.0" y1="324.5" x2="233.4" y2="324.5" stroke="#4a4a4a" stroke-width="1.0"/>
<text transform="translate(227.20,327.00) scale(1,1.07)" font-size="7.2" text-anchor="end" fill="#000" stroke="#000">0</text>
<line x1="231.0" y1="310.4" x2="233.4" y2="310.4" stroke="#4a4a4a" stroke-width="1.0"/>
<text transform="translate(227.20,312.90) scale(1,1.07)" font-size="7.2" text-anchor="end" fill="#000" stroke="#000">20</text>
<line x1="231.0" y1="296.3" x2="233.4" y2="296.3" stroke="#4a4a4a" stroke-width="1.0"/>
<text transform="translate(227.20,298.80) scale(1,1.07)" font-size="7.2" text-anchor="end" fill="#000" stroke="#000">40</text>
<line x1="231.0" y1="282.2" x2="233.4" y2="282.2" stroke="#4a4a4a" stroke-width="1.0"/>
<text transform="translate(227.20,284.70) scale(1,1.07)" font-size="7.2" text-anchor="end" fill="#000" stroke="#000">60</text>
<line x1="231.0" y1="268.1" x2="233.4" y2="268.1" stroke="#4a4a4a" stroke-width="1.0"/>
<text transform="translate(227.20,270.60) scale(1,1.07)" font-size="7.2" text-anchor="end" fill="#000" stroke="#000">80</text>
<line x1="231.0" y1="254.0" x2="233.4" y2="254.0" stroke="#4a4a4a" stroke-width="1.0"/>
<text transform="translate(227.20,256.50) scale(1,1.07)" font-size="7.2" text-anchor="end" fill="#000" stroke="#000">100</text>
<line x1="231.0" y1="239.9" x2="233.4" y2="239.9" stroke="#4a4a4a" stroke-width="1.0"/>
<text transform="translate(227.20,242.40) scale(1,1.07)" font-size="7.2" text-anchor="end" fill="#000" stroke="#000">120</text>
<line x1="231.0" y1="225.8" x2="233.4" y2="225.8" stroke="#4a4a4a" stroke-width="1.0"/>
<text transform="translate(227.20,228.30) scale(1,1.07)" font-size="7.2" text-anchor="end" fill="#000" stroke="#000">140</text>
<line x1="233.1" y1="331.4" x2="233.1" y2="333.8" stroke="#1a1a1a" stroke-width="1.0"/>
<line x1="256.4" y1="331.4" x2="256.4" y2="333.8" stroke="#1a1a1a" stroke-width="1.0"/>
<line x1="279.6" y1="331.4" x2="279.6" y2="333.8" stroke="#1a1a1a" stroke-width="1.0"/>
<line x1="302.9" y1="331.4" x2="302.9" y2="333.8" stroke="#1a1a1a" stroke-width="1.0"/>
<line x1="326.2" y1="331.4" x2="326.2" y2="333.8" stroke="#1a1a1a" stroke-width="1.0"/>
<line x1="349.4" y1="331.4" x2="349.4" y2="333.8" stroke="#1a1a1a" stroke-width="1.0"/>
<line x1="372.7" y1="331.4" x2="372.7" y2="333.8" stroke="#1a1a1a" stroke-width="1.0"/>
<text transform="translate(233.10,343.40) scale(1,1.07)" font-size="7.3" text-anchor="middle" fill="#000" stroke="#000">0.001</text>
<text transform="translate(256.37,343.40) scale(1,1.07)" font-size="7.3" text-anchor="middle" fill="#000" stroke="#000">0.01</text>
<text transform="translate(279.64,343.40) scale(1,1.07)" font-size="7.3" text-anchor="middle" fill="#000" stroke="#000">0.1</text>
<text transform="translate(302.91,343.40) scale(1,1.07)" font-size="7.3" text-anchor="middle" fill="#000" stroke="#000">1</text>
<text transform="translate(326.18,343.40) scale(1,1.07)" font-size="7.3" text-anchor="middle" fill="#000" stroke="#000">10</text>
<text transform="translate(349.45,343.40) scale(1,1.07)" font-size="7.3" text-anchor="middle" fill="#000" stroke="#000">100</text>
<text transform="translate(372.72,343.40) scale(1,1.07)" font-size="7.3" text-anchor="middle" fill="#000" stroke="#000">1,000</text>
<text transform="translate(207.80,275.30) rotate(-90) scale(1,1.07)" font-size="7.75" text-anchor="middle" fill="#000" stroke="#000">% of surviving cells</text>
<text transform="translate(303.20,355.90) scale(1,1.07)" font-size="7.75" text-anchor="middle" fill="#000" stroke="#000">Compound concentration (nmol/L)</text>
<text transform="translate(387.90,207.00) scale(1,1.07)" font-size="7.8" text-anchor="start" fill="#000" stroke="#000" font-style="italic">KRAS G12C mutant</text>
<text transform="translate(463.10,207.00) scale(1,1.07)" font-size="7.6" text-anchor="start" fill="#000" stroke="#000" font-style="italic">KRAS G12C WT</text>
<line x1="393.6" y1="216.0" x2="403.5" y2="216.0" stroke="#2020c0" stroke-width="1.3"/>
<polygon points="398.6,214.1 396.7,217.2 400.4,217.2" fill="#2020c0"/>
<text transform="translate(408.30,218.75) scale(1,1.07)" font-size="7.6" text-anchor="start" fill="#000" stroke="#000">HCC-44</text>
<line x1="393.6" y1="225.4" x2="403.5" y2="225.4" stroke="#157015" stroke-width="1.3"/>
<polygon points="398.6,223.5 396.7,226.7 400.4,226.7" fill="#157015"/>
<text transform="translate(408.30,228.20) scale(1,1.07)" font-size="7.6" text-anchor="start" fill="#000" stroke="#000">NCI-H358</text>
<line x1="393.6" y1="234.9" x2="403.5" y2="234.9" stroke="#ff8020" stroke-width="1.3"/>
<rect x="397.11" y="233.46" width="2.88" height="2.88" fill="#ff8020"/>
<text transform="translate(408.30,237.65) scale(1,1.07)" font-size="7.6" text-anchor="start" fill="#000" stroke="#000">LU65</text>
<line x1="393.6" y1="244.3" x2="403.5" y2="244.3" stroke="#30d030" stroke-width="1.3"/>
<polygon points="398.6,242.4 396.7,245.6 400.4,245.6" fill="#30d030"/>
<text transform="translate(408.30,247.10) scale(1,1.07)" font-size="7.6" text-anchor="start" fill="#000" stroke="#000">NCI-H2030</text>
<line x1="393.6" y1="253.8" x2="403.5" y2="253.8" stroke="#a0602a" stroke-width="1.3"/>
<polygon points="398.6,255.7 396.7,252.6 400.4,252.6" fill="#a0602a"/>
<text transform="translate(408.30,256.55) scale(1,1.07)" font-size="7.6" text-anchor="start" fill="#000" stroke="#000">Calu-1</text>
<line x1="393.6" y1="263.2" x2="403.5" y2="263.2" stroke="#c0c020" stroke-width="1.3"/>
<polygon points="398.6,261.3 396.7,264.5 400.4,264.5" fill="#c0c020"/>
<text transform="translate(408.30,266.00) scale(1,1.07)" font-size="7.6" text-anchor="start" fill="#000" stroke="#000">NCI-H1373</text>
<line x1="393.6" y1="272.7" x2="403.5" y2="272.7" stroke="#20c090" stroke-width="1.3"/>
<polygon points="398.6,270.8 396.7,273.9 400.4,273.9" fill="#20c090"/>
<text transform="translate(408.30,275.45) scale(1,1.07)" font-size="7.6" text-anchor="start" fill="#000" stroke="#000">NCI-H23</text>
<line x1="393.6" y1="282.1" x2="403.5" y2="282.1" stroke="#2080a0" stroke-width="1.3"/>
<polygon points="398.6,280.2 396.7,283.4 400.4,283.4" fill="#2080a0"/>
<text transform="translate(408.30,284.90) scale(1,1.07)" font-size="7.6" text-anchor="start" fill="#000" stroke="#000">LU99</text>
<line x1="393.6" y1="291.6" x2="403.5" y2="291.6" stroke="#8a30c0" stroke-width="1.3"/>
<polygon points="398.6,289.7 396.7,292.8 400.4,292.8" fill="#8a30c0"/>
<text transform="translate(408.30,294.35) scale(1,1.07)" font-size="7.6" text-anchor="start" fill="#000" stroke="#000">SW837</text>
<line x1="393.6" y1="301.1" x2="403.5" y2="301.1" stroke="#f87878" stroke-width="1.3"/>
<polygon points="398.6,299.1 396.7,302.3 400.4,302.3" fill="#f87878"/>
<text transform="translate(408.30,303.80) scale(1,1.07)" font-size="7.6" text-anchor="start" fill="#000" stroke="#000">SW1463</text>
<line x1="393.6" y1="310.5" x2="403.5" y2="310.5" stroke="#a01010" stroke-width="1.3"/>
<polygon points="398.6,308.6 396.7,311.7 400.4,311.7" fill="#a01010"/>
<text transform="translate(408.30,313.25) scale(1,1.07)" font-size="7.6" text-anchor="start" fill="#000" stroke="#000">MIA PaCa-2</text>
<line x1="393.6" y1="319.9" x2="403.5" y2="319.9" stroke="#ff1493" stroke-width="1.3"/>
<polygon points="398.6,318.0 396.7,321.2 400.4,321.2" fill="#ff1493"/>
<text transform="translate(408.30,322.70) scale(1,1.07)" font-size="7.6" text-anchor="start" fill="#000" stroke="#000">UM-UC-3</text>
<line x1="393.6" y1="329.4" x2="403.5" y2="329.4" stroke="#d0206a" stroke-width="1.3"/>
<polygon points="398.6,327.5 396.7,330.6 400.4,330.6" fill="#d0206a"/>
<text transform="translate(408.30,332.15) scale(1,1.07)" font-size="7.6" text-anchor="start" fill="#000" stroke="#000">KYSE-410</text>
<line x1="393.6" y1="338.9" x2="403.5" y2="338.9" stroke="#ffb870" stroke-width="1.3"/>
<polygon points="398.6,336.9 396.7,340.1 400.4,340.1" fill="#ffb870"/>
<text transform="translate(408.30,341.60) scale(1,1.07)" font-size="7.6" text-anchor="start" fill="#000" stroke="#000">OV56</text>
<line x1="462.7" y1="216.8" x2="464.9" y2="216.8" stroke="#7d7d7d" stroke-width="0.9"/>
<line x1="470.7" y1="216.8" x2="472.9" y2="216.8" stroke="#7d7d7d" stroke-width="0.9"/>
<circle cx="467.80" cy="216.80" r="1.5" fill="#7d7d7d"/>
<text transform="translate(477.00,219.55) scale(1,1.07)" font-size="7.6" text-anchor="start" fill="#000" stroke="#000">EBC-1</text>
<line x1="462.7" y1="226.1" x2="464.9" y2="226.1" stroke="#7d7d7d" stroke-width="0.9"/>
<line x1="470.7" y1="226.1" x2="472.9" y2="226.1" stroke="#7d7d7d" stroke-width="0.9"/>
<circle cx="467.80" cy="226.10" r="1.5" fill="#7d7d7d"/>
<text transform="translate(477.00,228.85) scale(1,1.07)" font-size="7.6" text-anchor="start" fill="#000" stroke="#000">A-427</text>
<line x1="462.7" y1="235.4" x2="464.9" y2="235.4" stroke="#7d7d7d" stroke-width="0.9"/>
<line x1="470.7" y1="235.4" x2="472.9" y2="235.4" stroke="#7d7d7d" stroke-width="0.9"/>
<rect x="466.45" y="234.05" width="2.70" height="2.70" fill="#7d7d7d"/>
<text transform="translate(477.00,238.15) scale(1,1.07)" font-size="7.6" text-anchor="start" fill="#000" stroke="#000">A549</text>
<line x1="462.7" y1="244.7" x2="464.9" y2="244.7" stroke="#7d7d7d" stroke-width="0.9"/>
<line x1="470.7" y1="244.7" x2="472.9" y2="244.7" stroke="#7d7d7d" stroke-width="0.9"/>
<circle cx="467.80" cy="244.70" r="1.5" fill="#7d7d7d"/>
<text transform="translate(477.00,247.45) scale(1,1.07)" font-size="7.6" text-anchor="start" fill="#000" stroke="#000">SW480</text>
<line x1="462.7" y1="254.0" x2="464.9" y2="254.0" stroke="#7d7d7d" stroke-width="0.9"/>
<line x1="470.7" y1="254.0" x2="472.9" y2="254.0" stroke="#7d7d7d" stroke-width="0.9"/>
<circle cx="467.80" cy="254.00" r="1.5" fill="#7d7d7d"/>
<text transform="translate(477.00,256.75) scale(1,1.07)" font-size="7.6" text-anchor="start" fill="#000" stroke="#000">SW620</text>
<line x1="462.7" y1="263.3" x2="464.9" y2="263.3" stroke="#7d7d7d" stroke-width="0.9"/>
<line x1="470.7" y1="263.3" x2="472.9" y2="263.3" stroke="#7d7d7d" stroke-width="0.9"/>
<circle cx="467.80" cy="263.30" r="1.5" fill="#7d7d7d"/>
<text transform="translate(477.00,266.05) scale(1,1.07)" font-size="7.6" text-anchor="start" fill="#000" stroke="#000">HCT 116</text>
<line x1="462.7" y1="272.6" x2="464.9" y2="272.6" stroke="#7d7d7d" stroke-width="0.9"/>
<line x1="470.7" y1="272.6" x2="472.9" y2="272.6" stroke="#7d7d7d" stroke-width="0.9"/>
<circle cx="467.80" cy="272.60" r="1.5" fill="#7d7d7d"/>
<text transform="translate(477.00,275.35) scale(1,1.07)" font-size="7.6" text-anchor="start" fill="#000" stroke="#000">HCT-15</text>
<line x1="462.7" y1="281.9" x2="464.9" y2="281.9" stroke="#7d7d7d" stroke-width="0.9"/>
<line x1="470.7" y1="281.9" x2="472.9" y2="281.9" stroke="#7d7d7d" stroke-width="0.9"/>
<circle cx="467.80" cy="281.90" r="1.5" fill="#7d7d7d"/>
<text transform="translate(477.00,284.65) scale(1,1.07)" font-size="7.6" text-anchor="start" fill="#000" stroke="#000">BxPC-3</text>
<line x1="462.7" y1="291.2" x2="464.9" y2="291.2" stroke="#7d7d7d" stroke-width="0.9"/>
<line x1="470.7" y1="291.2" x2="472.9" y2="291.2" stroke="#7d7d7d" stroke-width="0.9"/>
<rect x="466.45" y="289.85" width="2.70" height="2.70" fill="#7d7d7d"/>
<text transform="translate(477.00,293.95) scale(1,1.07)" font-size="7.6" text-anchor="start" fill="#000" stroke="#000">AsPC-1</text>
<line x1="462.7" y1="300.5" x2="464.9" y2="300.5" stroke="#7d7d7d" stroke-width="0.9"/>
<line x1="470.7" y1="300.5" x2="472.9" y2="300.5" stroke="#7d7d7d" stroke-width="0.9"/>
<polygon points="467.8,298.7 466.1,301.7 469.5,301.7" fill="#7d7d7d"/>
<text transform="translate(477.00,303.25) scale(1,1.07)" font-size="7.6" text-anchor="start" fill="#000" stroke="#000">A-375</text>
<line x1="462.7" y1="309.8" x2="464.9" y2="309.8" stroke="#7d7d7d" stroke-width="0.9"/>
<line x1="470.7" y1="309.8" x2="472.9" y2="309.8" stroke="#7d7d7d" stroke-width="0.9"/>
<circle cx="467.80" cy="309.80" r="1.5" fill="#7d7d7d"/>
<text transform="translate(477.00,312.55) scale(1,1.07)" font-size="7.6" text-anchor="start" fill="#000" stroke="#000">AGS</text>
<line x1="462.7" y1="319.1" x2="464.9" y2="319.1" stroke="#7d7d7d" stroke-width="0.9"/>
<line x1="470.7" y1="319.1" x2="472.9" y2="319.1" stroke="#7d7d7d" stroke-width="0.9"/>
<polygon points="467.8,320.9 466.1,317.9 469.5,317.9" fill="#7d7d7d"/>
<text transform="translate(477.00,321.85) scale(1,1.07)" font-size="7.6" text-anchor="start" fill="#000" stroke="#000">SNU-1</text>
<text transform="translate(0.20,400.50) scale(1,1.07)" font-size="10.6" text-anchor="start" fill="#231f20" stroke="#231f20" font-weight="bold">C</text>
<text transform="translate(12.50,400.00) scale(1,1.07)" font-size="7.65" text-anchor="start" fill="#231f20" stroke="#231f20">Selectivity of KRAS G12C inhibitors</text>
<line x1="55.9" y1="449.6" x2="55.9" y2="549.9" stroke="#000" stroke-width="0.9"/>
<line x1="55.9" y1="549.9" x2="172.8" y2="549.9" stroke="#000" stroke-width="0.9"/>
<line x1="52.0" y1="549.9" x2="55.9" y2="549.9" stroke="#000" stroke-width="0.9"/>
<text transform="translate(49.10,552.45) scale(1,1.07)" font-size="7.4" text-anchor="end" fill="#000" stroke="#000">−1</text>
<line x1="52.0" y1="533.2" x2="55.9" y2="533.2" stroke="#000" stroke-width="0.9"/>
<text transform="translate(49.10,535.80) scale(1,1.07)" font-size="7.4" text-anchor="end" fill="#000" stroke="#000">0</text>
<line x1="52.0" y1="516.6" x2="55.9" y2="516.6" stroke="#000" stroke-width="0.9"/>
<text transform="translate(49.10,519.15) scale(1,1.07)" font-size="7.4" text-anchor="end" fill="#000" stroke="#000">1</text>
<line x1="52.0" y1="499.9" x2="55.9" y2="499.9" stroke="#000" stroke-width="0.9"/>
<text transform="translate(49.10,502.50) scale(1,1.07)" font-size="7.4" text-anchor="end" fill="#000" stroke="#000">2</text>
<line x1="52.0" y1="483.3" x2="55.9" y2="483.3" stroke="#000" stroke-width="0.9"/>
<text transform="translate(49.10,485.85) scale(1,1.07)" font-size="7.4" text-anchor="end" fill="#000" stroke="#000">3</text>
<line x1="52.0" y1="466.6" x2="55.9" y2="466.6" stroke="#000" stroke-width="0.9"/>
<text transform="translate(49.10,469.20) scale(1,1.07)" font-size="7.4" text-anchor="end" fill="#000" stroke="#000">4</text>
<line x1="52.0" y1="450.0" x2="55.9" y2="450.0" stroke="#000" stroke-width="0.9"/>
<text transform="translate(49.10,452.55) scale(1,1.07)" font-size="7.4" text-anchor="end" fill="#000" stroke="#000">5</text>
<line x1="83.7" y1="549.9" x2="83.7" y2="553.7" stroke="#000" stroke-width="0.9"/>
<line x1="144.6" y1="549.9" x2="144.6" y2="553.7" stroke="#000" stroke-width="0.9"/>
<text transform="translate(83.70,563.30) scale(1,1.07)" font-size="7.6" text-anchor="middle" fill="#000" stroke="#000">KRAS G12C</text>
<text transform="translate(144.40,563.30) scale(1,1.07)" font-size="7.6" text-anchor="middle" fill="#000" stroke="#000">Non-G12C</text>
<text transform="translate(37.80,499.90) rotate(-90) scale(1,1.07)" font-size="7.85" text-anchor="middle" fill="#000" stroke="#000">2D IC<tspan font-size="4.6" dy="1.8">50,</tspan><tspan dy="-1.8"> log(nmol/L)</tspan></text>
<path d="M96.2 428.3V423.0H163.4V428.3" fill="none" stroke="#80208a" stroke-width="1.05"/>
<text transform="translate(129.50,417.70) scale(1,1.07)" font-size="7.6" text-anchor="middle" fill="#80208a" stroke="#80208a">127-fold</text>
<path d="M82.4 446.3V441.2H148.8V446.3" fill="none" stroke="#1f1fc8" stroke-width="1.05"/>
<text transform="translate(115.60,436.20) scale(1,1.07)" font-size="7.6" text-anchor="middle" fill="#1f1fc8" stroke="#1f1fc8">5-fold</text>
<path d="M66.5 463.6V459.0H130.2V463.6" fill="none" stroke="#f26522" stroke-width="1.05"/>
<text transform="translate(97.00,454.20) scale(1,1.07)" font-size="7.6" text-anchor="middle" fill="#f26522" stroke="#f26522">2,439-fold</text>
<polygon points="63.7,464.8 62.0,467.8 65.4,467.8" fill="#f26522"/>
<polygon points="65.8,464.8 64.1,467.8 67.5,467.8" fill="#f26522"/>
<polygon points="67.9,464.8 66.2,467.8 69.6,467.8" fill="#f26522"/>
<polygon points="70.0,464.8 68.3,467.8 71.7,467.8" fill="#f26522"/>
<line x1="62.7" y1="467.5" x2="71.5" y2="467.5" stroke="#f26522" stroke-width="0.9"/>
<polygon points="63.0,519.5 61.4,522.3 64.6,522.3" fill="#f26522"/>
<polygon points="64.9,518.7 63.3,521.5 66.5,521.5" fill="#f26522"/>
<polygon points="67.4,519.0 65.8,521.8 69.0,521.8" fill="#f26522"/>
<polygon points="69.7,518.7 68.1,521.5 71.3,521.5" fill="#f26522"/>
<polygon points="70.9,521.1 69.3,523.9 72.5,523.9" fill="#f26522"/>
<polygon points="64.2,522.2 62.6,525.0 65.8,525.0" fill="#f26522"/>
<polygon points="66.5,521.9 64.9,524.7 68.1,524.7" fill="#f26522"/>
<polygon points="69.0,522.7 67.4,525.5 70.6,525.5" fill="#f26522"/>
<polygon points="70.9,523.1 69.3,525.9 72.5,525.9" fill="#f26522"/>
<polygon points="65.4,525.9 63.8,528.7 67.0,528.7" fill="#f26522"/>
<polygon points="67.8,525.9 66.2,528.7 69.4,528.7" fill="#f26522"/>
<polygon points="70.1,527.0 68.5,529.8 71.7,529.8" fill="#f26522"/>
<polygon points="69.0,528.3 67.4,531.1 70.6,531.1" fill="#f26522"/>
<polygon points="67.0,533.0 65.4,535.8 68.6,535.8" fill="#f26522"/>
<polygon points="65.4,534.9 63.8,537.7 67.0,537.7" fill="#f26522"/>
<line x1="62.0" y1="523.6" x2="72.0" y2="523.6" stroke="#f26522" stroke-width="0.9"/>
<polygon points="80.8,468.4 79.1,465.4 82.5,465.4" fill="#1f1fc8"/>
<polygon points="83.4,468.4 81.7,465.4 85.1,465.4" fill="#1f1fc8"/>
<polygon points="86.0,468.4 84.3,465.4 87.7,465.4" fill="#1f1fc8"/>
<line x1="79.3" y1="465.7" x2="88.1" y2="465.7" stroke="#1f1fc8" stroke-width="0.9"/>
<polygon points="83.7,476.6 82.1,473.8 85.3,473.8" fill="#1f1fc8"/>
<polygon points="85.0,482.5 83.4,479.7 86.6,479.7" fill="#1f1fc8"/>
<polygon points="79.2,486.0 77.6,483.2 80.8,483.2" fill="#1f1fc8"/>
<polygon points="81.5,485.5 79.9,482.7 83.1,482.7" fill="#1f1fc8"/>
<polygon points="83.7,485.2 82.1,482.4 85.3,482.4" fill="#1f1fc8"/>
<polygon points="86.1,484.9 84.5,482.1 87.7,482.1" fill="#1f1fc8"/>
<polygon points="87.8,485.7 86.2,482.9 89.4,482.9" fill="#1f1fc8"/>
<polygon points="87.0,487.2 85.4,484.4 88.6,484.4" fill="#1f1fc8"/>
<polygon points="82.1,493.1 80.5,490.3 83.7,490.3" fill="#1f1fc8"/>
<polygon points="84.5,491.3 82.9,488.5 86.1,488.5" fill="#1f1fc8"/>
<polygon points="83.4,496.2 81.8,493.4 85.0,493.4" fill="#1f1fc8"/>
<polygon points="79.7,502.3 78.1,499.5 81.3,499.5" fill="#1f1fc8"/>
<polygon points="79.7,506.1 78.1,503.3 81.3,503.3" fill="#1f1fc8"/>
<polygon points="85.3,504.7 83.7,501.9 86.9,501.9" fill="#1f1fc8"/>
<polygon points="87.7,503.7 86.1,500.9 89.3,500.9" fill="#1f1fc8"/>
<line x1="78.1" y1="484.5" x2="89.3" y2="484.5" stroke="#1f1fc8" stroke-width="0.9"/>
<polygon points="96.4,464.8 94.7,467.8 98.1,467.8" fill="#80208a"/>
<polygon points="98.5,464.8 96.8,467.8 100.2,467.8" fill="#80208a"/>
<polygon points="100.6,464.8 98.9,467.8 102.3,467.8" fill="#80208a"/>
<polygon points="102.7,464.8 101.0,467.8 104.4,467.8" fill="#80208a"/>
<polygon points="104.7,464.8 103.0,467.8 106.4,467.8" fill="#80208a"/>
<line x1="94.9" y1="467.5" x2="105.8" y2="467.5" stroke="#80208a" stroke-width="0.9"/>
<polygon points="100.4,496.3 98.8,499.1 102.0,499.1" fill="#80208a"/>
<polygon points="96.4,498.5 94.8,501.3 98.0,501.3" fill="#80208a"/>
<polygon points="102.8,498.6 101.2,501.4 104.4,501.4" fill="#80208a"/>
<polygon points="105.2,499.3 103.6,502.1 106.8,502.1" fill="#80208a"/>
<polygon points="97.2,503.9 95.6,506.7 98.8,506.7" fill="#80208a"/>
<polygon points="100.4,504.5 98.8,507.3 102.0,507.3" fill="#80208a"/>
<polygon points="102.8,503.9 101.2,506.7 104.4,506.7" fill="#80208a"/>
<polygon points="104.4,503.9 102.8,506.7 106.0,506.7" fill="#80208a"/>
<polygon points="100.4,509.1 98.8,511.9 102.0,511.9" fill="#80208a"/>
<polygon points="100.4,517.1 98.8,519.9 102.0,519.9" fill="#80208a"/>
<polygon points="98.5,498.1 96.9,500.9 100.1,500.9" fill="#80208a"/>
<line x1="95.5" y1="501.2" x2="105.7" y2="501.2" stroke="#80208a" stroke-width="0.9"/>
<rect x="123.1" y="465.7" width="10.4" height="2.5" rx="1.1" fill="#f26522"/>
<polygon points="144.0,472.2 142.4,469.4 145.6,469.4" fill="#1f1fc8"/>
<polygon points="139.8,475.5 138.2,472.7 141.4,472.7" fill="#1f1fc8"/>
<polygon points="142.1,477.0 140.5,474.2 143.7,474.2" fill="#1f1fc8"/>
<polygon points="144.0,476.0 142.4,473.2 145.6,473.2" fill="#1f1fc8"/>
<polygon points="146.0,478.0 144.4,475.2 147.6,475.2" fill="#1f1fc8"/>
<polygon points="139.8,478.9 138.2,476.1 141.4,476.1" fill="#1f1fc8"/>
<polygon points="142.1,479.5 140.5,476.7 143.7,476.7" fill="#1f1fc8"/>
<polygon points="146.8,479.5 145.2,476.7 148.4,476.7" fill="#1f1fc8"/>
<polygon points="149.4,479.0 147.8,476.2 151.0,476.2" fill="#1f1fc8"/>
<line x1="139.2" y1="476.9" x2="150.2" y2="476.9" stroke="#1f1fc8" stroke-width="0.9"/>
<rect x="156.0" y="465.5" width="10.8" height="2.5" rx="1.1" fill="#80208a"/>
<polygon points="177.9,503.9 176.2,506.9 179.6,506.9" fill="#f26522"/>
<text transform="translate(189.80,508.60) scale(1,1.07)" font-size="7.6" text-anchor="start" fill="#f26522" stroke="#f26522">D3S-001</text>
<polygon points="177.9,517.7 176.2,514.7 179.6,514.7" fill="#1f1fc8"/>
<text transform="translate(189.80,518.80) scale(1,1.07)" font-size="7.6" text-anchor="start" fill="#1f1fc8" stroke="#1f1fc8">Adagrasib</text>
<polygon points="177.9,524.8 176.2,527.8 179.6,527.8" fill="#80208a"/>
<text transform="translate(189.80,529.30) scale(1,1.07)" font-size="7.6" text-anchor="start" fill="#80208a" stroke="#80208a">Sotorasib</text>
<line x1="291.3" y1="442.0" x2="291.3" y2="549.8" stroke="#000" stroke-width="0.9"/>
<line x1="291.3" y1="549.8" x2="408.0" y2="549.8" stroke="#000" stroke-width="0.9"/>
<line x1="287.0" y1="550.1" x2="291.3" y2="550.1" stroke="#000" stroke-width="0.9"/>
<text transform="translate(284.20,552.70) scale(1,1.07)" font-size="7.4" text-anchor="end" fill="#000" stroke="#000">−2</text>
<line x1="287.0" y1="532.2" x2="291.3" y2="532.2" stroke="#000" stroke-width="0.9"/>
<text transform="translate(284.20,534.75) scale(1,1.07)" font-size="7.4" text-anchor="end" fill="#000" stroke="#000">−1</text>
<line x1="287.0" y1="514.2" x2="291.3" y2="514.2" stroke="#000" stroke-width="0.9"/>
<text transform="translate(284.20,516.80) scale(1,1.07)" font-size="7.4" text-anchor="end" fill="#000" stroke="#000">0</text>
<line x1="287.0" y1="496.3" x2="291.3" y2="496.3" stroke="#000" stroke-width="0.9"/>
<text transform="translate(284.20,498.85) scale(1,1.07)" font-size="7.4" text-anchor="end" fill="#000" stroke="#000">1</text>
<line x1="287.0" y1="478.3" x2="291.3" y2="478.3" stroke="#000" stroke-width="0.9"/>
<text transform="translate(284.20,480.90) scale(1,1.07)" font-size="7.4" text-anchor="end" fill="#000" stroke="#000">2</text>
<line x1="287.0" y1="460.4" x2="291.3" y2="460.4" stroke="#000" stroke-width="0.9"/>
<text transform="translate(284.20,462.95) scale(1,1.07)" font-size="7.4" text-anchor="end" fill="#000" stroke="#000">3</text>
<line x1="287.0" y1="442.4" x2="291.3" y2="442.4" stroke="#000" stroke-width="0.9"/>
<text transform="translate(284.20,445.00) scale(1,1.07)" font-size="7.4" text-anchor="end" fill="#000" stroke="#000">4</text>
<line x1="318.7" y1="549.8" x2="318.7" y2="554.0" stroke="#000" stroke-width="0.9"/>
<line x1="380.8" y1="549.8" x2="380.8" y2="554.0" stroke="#000" stroke-width="0.9"/>
<text transform="translate(318.70,563.30) scale(1,1.07)" font-size="7.6" text-anchor="middle" fill="#000" stroke="#000">KRAS G12C</text>
<text transform="translate(380.80,563.30) scale(1,1.07)" font-size="7.6" text-anchor="middle" fill="#000" stroke="#000">Non-G12C</text>
<text transform="translate(269.80,496.60) rotate(-90) scale(1,1.07)" font-size="7.85" text-anchor="middle" fill="#000" stroke="#000">3D IC<tspan font-size="4.6" dy="1.8">50,</tspan><tspan dy="-1.8"> log(nmol/L)</tspan></text>
<path d="M331.5 431.2V426.2H391.9V431.2" fill="none" stroke="#1f1fc8" stroke-width="1.05"/>
<text transform="translate(361.00,420.70) scale(1,1.07)" font-size="7.6" text-anchor="middle" fill="#1f1fc8" stroke="#1f1fc8">165-fold</text>
<path d="M306.7 453.2V448.8H367.5V453.2" fill="none" stroke="#f26522" stroke-width="1.05"/>
<text transform="translate(336.50,443.50) scale(1,1.07)" font-size="7.6" text-anchor="middle" fill="#f26522" stroke="#f26522">5,797-fold</text>
<polygon points="306.7,459.3 305.1,462.1 308.3,462.1" fill="#f26522"/>
<polygon points="306.7,509.8 305.1,512.6 308.3,512.6" fill="#f26522"/>
<polygon points="305.6,517.5 304.0,520.3 307.2,520.3" fill="#f26522"/>
<polygon points="306.7,519.5 305.1,522.3 308.3,522.3" fill="#f26522"/>
<polygon points="300.5,526.0 298.9,528.8 302.1,528.8" fill="#f26522"/>
<polygon points="302.8,526.6 301.2,529.4 304.4,529.4" fill="#f26522"/>
<polygon points="305.6,526.0 304.0,528.8 307.2,528.8" fill="#f26522"/>
<polygon points="308.5,526.6 306.9,529.4 310.1,529.4" fill="#f26522"/>
<polygon points="311.4,526.0 309.8,528.8 313.0,528.8" fill="#f26522"/>
<polygon points="313.6,526.6 312.0,529.4 315.2,529.4" fill="#f26522"/>
<polygon points="305.2,531.3 303.6,534.1 306.8,534.1" fill="#f26522"/>
<polygon points="307.7,532.2 306.1,535.0 309.3,535.0" fill="#f26522"/>
<polygon points="309.6,532.9 308.0,535.7 311.2,535.7" fill="#f26522"/>
<polygon points="304.6,534.8 303.0,537.6 306.2,537.6" fill="#f26522"/>
<polygon points="307.1,533.7 305.5,536.5 308.7,536.5" fill="#f26522"/>
<line x1="299.4" y1="527.7" x2="314.8" y2="527.7" stroke="#f26522" stroke-width="0.9"/>
<polygon points="330.2,462.7 328.6,459.9 331.8,459.9" fill="#1f1fc8"/>
<polygon points="330.2,479.4 328.6,476.6 331.8,476.6" fill="#1f1fc8"/>
<polygon points="330.2,486.7 328.6,483.9 331.8,483.9" fill="#1f1fc8"/>
<polygon points="330.2,492.1 328.6,489.3 331.8,489.3" fill="#1f1fc8"/>
<polygon points="327.3,496.3 325.7,493.5 328.9,493.5" fill="#1f1fc8"/>
<polygon points="332.7,497.3 331.1,494.5 334.3,494.5" fill="#1f1fc8"/>
<polygon points="325.4,499.2 323.8,496.4 327.0,496.4" fill="#1f1fc8"/>
<polygon points="328.3,499.2 326.7,496.4 329.9,496.4" fill="#1f1fc8"/>
<polygon points="333.0,500.2 331.4,497.4 334.6,497.4" fill="#1f1fc8"/>
<polygon points="335.0,501.2 333.4,498.4 336.6,498.4" fill="#1f1fc8"/>
<polygon points="323.5,505.0 321.9,502.2 325.1,502.2" fill="#1f1fc8"/>
<polygon points="327.3,505.9 325.7,503.1 328.9,503.1" fill="#1f1fc8"/>
<polygon points="334.0,505.5 332.4,502.7 335.6,502.7" fill="#1f1fc8"/>
<polygon points="336.0,506.3 334.4,503.5 337.6,503.5" fill="#1f1fc8"/>
<polygon points="327.0,510.7 325.4,507.9 328.6,507.9" fill="#1f1fc8"/>
<polygon points="334.0,508.7 332.4,505.9 335.6,505.9" fill="#1f1fc8"/>
<line x1="322.5" y1="500.4" x2="337.9" y2="500.4" stroke="#1f1fc8" stroke-width="0.9"/>
<rect x="361.3" y="458.9" width="15.1" height="2.7" rx="1.2" fill="#f26522"/>
<rect x="384.6" y="458.7" width="15.0" height="2.8" rx="1.2" fill="#1f1fc8"/>
<polygon points="408.9,507.7 407.2,510.7 410.6,510.7" fill="#f26522"/>
<text transform="translate(421.20,512.60) scale(1,1.07)" font-size="7.6" text-anchor="start" fill="#f26522" stroke="#f26522">D3S-001</text>
<polygon points="408.9,523.8 407.2,520.8 410.6,520.8" fill="#1f1fc8"/>
<text transform="translate(421.20,525.00) scale(1,1.07)" font-size="7.6" text-anchor="start" fill="#1f1fc8" stroke="#1f1fc8">Adagrasib</text>
</svg></body></html>
